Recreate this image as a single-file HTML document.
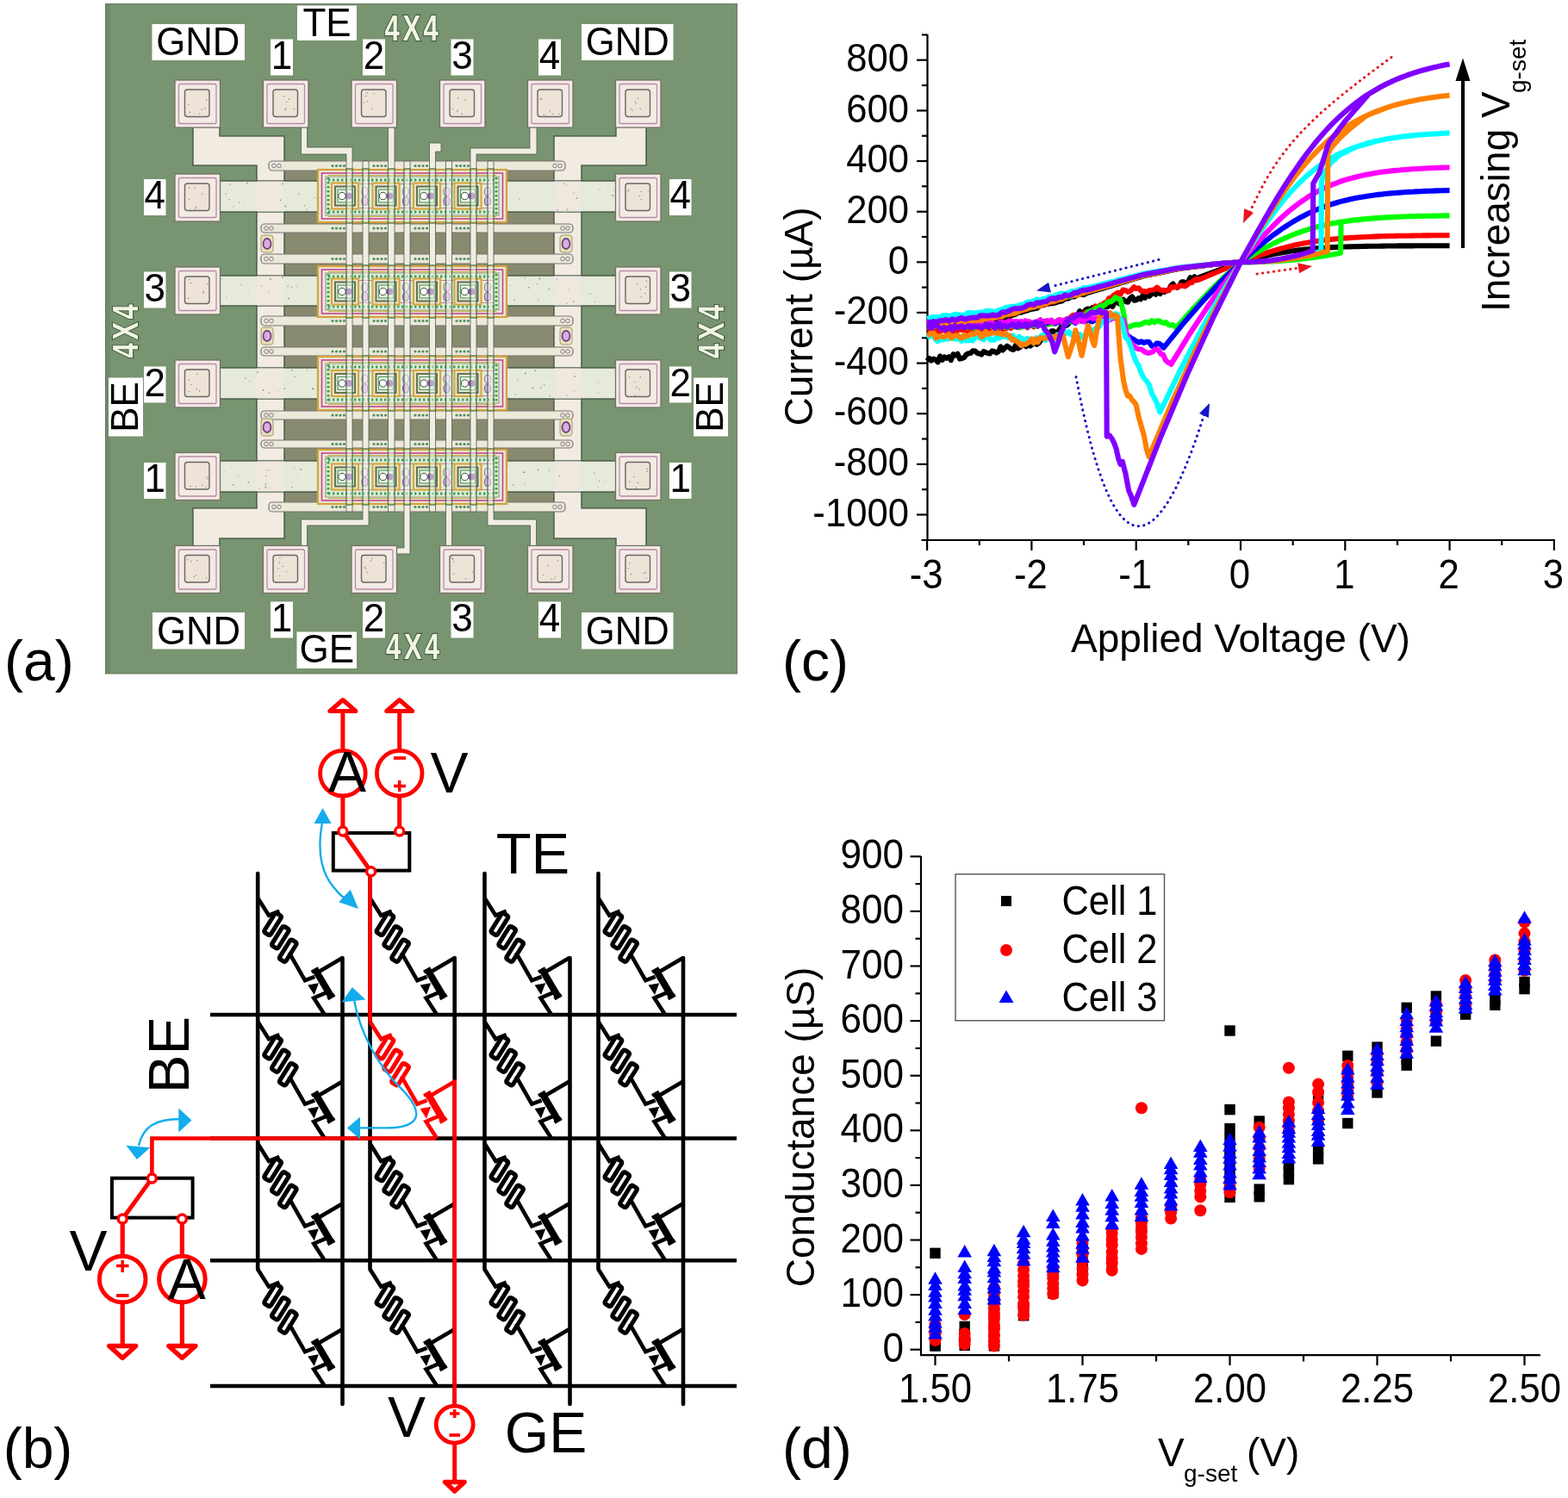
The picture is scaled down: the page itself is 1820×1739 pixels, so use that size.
<!DOCTYPE html>
<html><head><meta charset="utf-8"><title>Figure</title>
<style>html,body{margin:0;padding:0;background:#fff;} svg{display:block;}</style>
</head><body>
<svg xmlns="http://www.w3.org/2000/svg" width="1820" height="1739" viewBox="0 0 1820 1739">
<rect width="1820" height="1739" fill="#fff"/>
<rect x="122.5" y="4.5" width="733" height="777.5" fill="#789470" stroke="#66785f" stroke-width="1"/>
<rect x="123" y="5" width="5" height="776.5" fill="#6f8b68"/>
<rect x="330" y="187" width="313" height="407" fill="#878a6e"/>
<path d="M224,146 H255 V158 H330 V625 H255 V636 H224 V590 H298 V192 H224 Z" fill="#f1ebe1" stroke="#3f5343" stroke-width="1.6" stroke-opacity="0.85"/>
<path d="M750,146 H715 V158 H643 V625 H715 V636 H750 V590 H675 V192 H750 Z" fill="#f1ebe1" stroke="#3f5343" stroke-width="1.6" stroke-opacity="0.85"/>
<rect x="255" y="210" width="460" height="36" fill="#e6eadb" stroke="#3f5343" stroke-width="1.6" stroke-opacity="0.85"/>
<rect x="298.5" y="210.5" width="31" height="35" fill="#efe8de"/>
<rect x="643.5" y="210.5" width="31" height="35" fill="#efe8de"/>
<circle cx="365.5" cy="229.4" r="0.7" fill="#5d6a5a" fill-opacity="0.6"/>
<circle cx="286.9" cy="212.4" r="0.9" fill="#5d6a5a" fill-opacity="0.6"/>
<circle cx="711" cy="227" r="0.9" fill="#5d6a5a" fill-opacity="0.6"/>
<circle cx="325.7" cy="232.3" r="0.9" fill="#5d6a5a" fill-opacity="0.6"/>
<circle cx="602.8" cy="230.9" r="0.7" fill="#5d6a5a" fill-opacity="0.6"/>
<circle cx="271.1" cy="239.7" r="0.7" fill="#5d6a5a" fill-opacity="0.6"/>
<circle cx="657.8" cy="215.1" r="0.6" fill="#5d6a5a" fill-opacity="0.6"/>
<circle cx="355.9" cy="242.9" r="0.7" fill="#5d6a5a" fill-opacity="0.6"/>
<circle cx="647.5" cy="243.7" r="0.8" fill="#5d6a5a" fill-opacity="0.6"/>
<circle cx="331.4" cy="239.5" r="1" fill="#5d6a5a" fill-opacity="0.6"/>
<circle cx="669.5" cy="230.2" r="0.9" fill="#5d6a5a" fill-opacity="0.6"/>
<circle cx="353.3" cy="238.6" r="0.8" fill="#5d6a5a" fill-opacity="0.6"/>
<circle cx="646.4" cy="243.7" r="0.5" fill="#5d6a5a" fill-opacity="0.6"/>
<circle cx="622.1" cy="225.1" r="0.6" fill="#5d6a5a" fill-opacity="0.6"/>
<circle cx="655" cy="213.4" r="0.8" fill="#5d6a5a" fill-opacity="0.6"/>
<circle cx="277.5" cy="235" r="0.7" fill="#5d6a5a" fill-opacity="0.6"/>
<circle cx="658.7" cy="243.4" r="0.8" fill="#5d6a5a" fill-opacity="0.6"/>
<circle cx="712.3" cy="221.9" r="0.5" fill="#5d6a5a" fill-opacity="0.6"/>
<circle cx="347" cy="225.1" r="0.8" fill="#5d6a5a" fill-opacity="0.6"/>
<circle cx="328.2" cy="213.4" r="0.9" fill="#5d6a5a" fill-opacity="0.6"/>
<circle cx="665.9" cy="224.1" r="0.7" fill="#5d6a5a" fill-opacity="0.6"/>
<circle cx="262.2" cy="225.3" r="0.8" fill="#5d6a5a" fill-opacity="0.6"/>
<circle cx="266.1" cy="231.7" r="0.8" fill="#5d6a5a" fill-opacity="0.6"/>
<circle cx="284.4" cy="232.1" r="0.7" fill="#5d6a5a" fill-opacity="0.6"/>
<circle cx="267.1" cy="213.9" r="0.8" fill="#5d6a5a" fill-opacity="0.6"/>
<circle cx="696.3" cy="220" r="0.7" fill="#5d6a5a" fill-opacity="0.6"/>
<rect x="255" y="320" width="460" height="35" fill="#e6eadb" stroke="#3f5343" stroke-width="1.6" stroke-opacity="0.85"/>
<rect x="298.5" y="320.5" width="31" height="34" fill="#efe8de"/>
<rect x="643.5" y="320.5" width="31" height="34" fill="#efe8de"/>
<circle cx="609.2" cy="322.8" r="0.8" fill="#5d6a5a" fill-opacity="0.6"/>
<circle cx="592.2" cy="331.6" r="0.6" fill="#5d6a5a" fill-opacity="0.6"/>
<circle cx="623.5" cy="329.4" r="0.6" fill="#5d6a5a" fill-opacity="0.6"/>
<circle cx="303.4" cy="332" r="0.7" fill="#5d6a5a" fill-opacity="0.6"/>
<circle cx="637.1" cy="335.6" r="0.9" fill="#5d6a5a" fill-opacity="0.6"/>
<circle cx="334.2" cy="332.4" r="0.8" fill="#5d6a5a" fill-opacity="0.6"/>
<circle cx="660.5" cy="336" r="0.6" fill="#5d6a5a" fill-opacity="0.6"/>
<circle cx="312.1" cy="338.4" r="0.6" fill="#5d6a5a" fill-opacity="0.6"/>
<circle cx="624.9" cy="348" r="0.6" fill="#5d6a5a" fill-opacity="0.6"/>
<circle cx="328.1" cy="322.1" r="1" fill="#5d6a5a" fill-opacity="0.6"/>
<circle cx="658.3" cy="352.6" r="0.7" fill="#5d6a5a" fill-opacity="0.6"/>
<circle cx="690.3" cy="350.7" r="0.6" fill="#5d6a5a" fill-opacity="0.6"/>
<circle cx="597" cy="347.9" r="0.8" fill="#5d6a5a" fill-opacity="0.6"/>
<circle cx="288" cy="340.2" r="0.6" fill="#5d6a5a" fill-opacity="0.6"/>
<circle cx="626.4" cy="323.4" r="1" fill="#5d6a5a" fill-opacity="0.6"/>
<circle cx="665.8" cy="349.9" r="0.8" fill="#5d6a5a" fill-opacity="0.6"/>
<circle cx="263" cy="345.1" r="0.6" fill="#5d6a5a" fill-opacity="0.6"/>
<circle cx="685.2" cy="341" r="0.7" fill="#5d6a5a" fill-opacity="0.6"/>
<circle cx="335.1" cy="346.5" r="1" fill="#5d6a5a" fill-opacity="0.6"/>
<circle cx="624.6" cy="347.5" r="0.5" fill="#5d6a5a" fill-opacity="0.6"/>
<circle cx="279.8" cy="330.4" r="0.6" fill="#5d6a5a" fill-opacity="0.6"/>
<circle cx="257.8" cy="323.7" r="0.6" fill="#5d6a5a" fill-opacity="0.6"/>
<circle cx="313.8" cy="324.1" r="1" fill="#5d6a5a" fill-opacity="0.6"/>
<circle cx="646.6" cy="324.7" r="0.8" fill="#5d6a5a" fill-opacity="0.6"/>
<circle cx="344.1" cy="332.2" r="0.6" fill="#5d6a5a" fill-opacity="0.6"/>
<circle cx="338.4" cy="333.6" r="0.8" fill="#5d6a5a" fill-opacity="0.6"/>
<circle cx="613.9" cy="333.8" r="0.9" fill="#5d6a5a" fill-opacity="0.6"/>
<rect x="255" y="427" width="460" height="36" fill="#e6eadb" stroke="#3f5343" stroke-width="1.6" stroke-opacity="0.85"/>
<rect x="298.5" y="427.5" width="31" height="35" fill="#efe8de"/>
<rect x="643.5" y="427.5" width="31" height="35" fill="#efe8de"/>
<circle cx="368.8" cy="446.1" r="0.8" fill="#5d6a5a" fill-opacity="0.6"/>
<circle cx="289.6" cy="442.6" r="0.7" fill="#5d6a5a" fill-opacity="0.6"/>
<circle cx="658.1" cy="459" r="0.7" fill="#5d6a5a" fill-opacity="0.6"/>
<circle cx="666.4" cy="454.3" r="0.6" fill="#5d6a5a" fill-opacity="0.6"/>
<circle cx="627.8" cy="450.2" r="0.9" fill="#5d6a5a" fill-opacity="0.6"/>
<circle cx="618.4" cy="450.4" r="0.9" fill="#5d6a5a" fill-opacity="0.6"/>
<circle cx="322.4" cy="453.8" r="0.5" fill="#5d6a5a" fill-opacity="0.6"/>
<circle cx="298.9" cy="432.2" r="0.9" fill="#5d6a5a" fill-opacity="0.6"/>
<circle cx="338.7" cy="429.8" r="0.9" fill="#5d6a5a" fill-opacity="0.6"/>
<circle cx="312.3" cy="456" r="0.8" fill="#5d6a5a" fill-opacity="0.6"/>
<circle cx="638.3" cy="459.5" r="0.8" fill="#5d6a5a" fill-opacity="0.6"/>
<circle cx="621.2" cy="430.2" r="0.9" fill="#5d6a5a" fill-opacity="0.6"/>
<circle cx="305.7" cy="453" r="1" fill="#5d6a5a" fill-opacity="0.6"/>
<circle cx="284.9" cy="439.4" r="0.8" fill="#5d6a5a" fill-opacity="0.6"/>
<circle cx="634.6" cy="436.7" r="0.6" fill="#5d6a5a" fill-opacity="0.6"/>
<circle cx="600.6" cy="441.6" r="0.7" fill="#5d6a5a" fill-opacity="0.6"/>
<circle cx="330.2" cy="451.1" r="0.9" fill="#5d6a5a" fill-opacity="0.6"/>
<circle cx="666.2" cy="433.8" r="0.5" fill="#5d6a5a" fill-opacity="0.6"/>
<circle cx="598.2" cy="458.3" r="0.8" fill="#5d6a5a" fill-opacity="0.6"/>
<circle cx="341.9" cy="437.6" r="0.6" fill="#5d6a5a" fill-opacity="0.6"/>
<circle cx="362.9" cy="451.1" r="1" fill="#5d6a5a" fill-opacity="0.6"/>
<circle cx="356.2" cy="429.7" r="0.7" fill="#5d6a5a" fill-opacity="0.6"/>
<circle cx="610" cy="433.6" r="1" fill="#5d6a5a" fill-opacity="0.6"/>
<circle cx="631.7" cy="446.8" r="0.7" fill="#5d6a5a" fill-opacity="0.6"/>
<circle cx="694.9" cy="444" r="0.6" fill="#5d6a5a" fill-opacity="0.6"/>
<circle cx="364.1" cy="452" r="0.8" fill="#5d6a5a" fill-opacity="0.6"/>
<circle cx="694.2" cy="456.3" r="0.6" fill="#5d6a5a" fill-opacity="0.6"/>
<circle cx="343.5" cy="437.3" r="0.6" fill="#5d6a5a" fill-opacity="0.6"/>
<circle cx="667.3" cy="437.2" r="0.9" fill="#5d6a5a" fill-opacity="0.6"/>
<rect x="255" y="535" width="460" height="36" fill="#e6eadb" stroke="#3f5343" stroke-width="1.6" stroke-opacity="0.85"/>
<rect x="298.5" y="535.5" width="31" height="35" fill="#efe8de"/>
<rect x="643.5" y="535.5" width="31" height="35" fill="#efe8de"/>
<circle cx="589.4" cy="539.7" r="0.5" fill="#5d6a5a" fill-opacity="0.6"/>
<circle cx="637.3" cy="546.3" r="0.7" fill="#5d6a5a" fill-opacity="0.6"/>
<circle cx="260.1" cy="547.7" r="0.7" fill="#5d6a5a" fill-opacity="0.6"/>
<circle cx="311.3" cy="545.8" r="0.8" fill="#5d6a5a" fill-opacity="0.6"/>
<circle cx="308.3" cy="565.4" r="1" fill="#5d6a5a" fill-opacity="0.6"/>
<circle cx="301.2" cy="567.1" r="0.7" fill="#5d6a5a" fill-opacity="0.6"/>
<circle cx="609.2" cy="561.2" r="0.6" fill="#5d6a5a" fill-opacity="0.6"/>
<circle cx="624.6" cy="545.5" r="0.9" fill="#5d6a5a" fill-opacity="0.6"/>
<circle cx="695.4" cy="558.5" r="0.8" fill="#5d6a5a" fill-opacity="0.6"/>
<circle cx="308.7" cy="552.8" r="0.7" fill="#5d6a5a" fill-opacity="0.6"/>
<circle cx="338.7" cy="565.5" r="0.8" fill="#5d6a5a" fill-opacity="0.6"/>
<circle cx="313.1" cy="566.8" r="0.6" fill="#5d6a5a" fill-opacity="0.6"/>
<circle cx="288.3" cy="559.9" r="0.9" fill="#5d6a5a" fill-opacity="0.6"/>
<circle cx="276.2" cy="553.2" r="0.6" fill="#5d6a5a" fill-opacity="0.6"/>
<circle cx="607.6" cy="548.3" r="0.7" fill="#5d6a5a" fill-opacity="0.6"/>
<circle cx="608.9" cy="548.3" r="0.9" fill="#5d6a5a" fill-opacity="0.6"/>
<circle cx="308.1" cy="545.7" r="0.5" fill="#5d6a5a" fill-opacity="0.6"/>
<circle cx="308.4" cy="561.9" r="0.9" fill="#5d6a5a" fill-opacity="0.6"/>
<circle cx="341.3" cy="543.1" r="0.7" fill="#5d6a5a" fill-opacity="0.6"/>
<circle cx="596" cy="563.1" r="0.9" fill="#5d6a5a" fill-opacity="0.6"/>
<circle cx="349.1" cy="545" r="0.9" fill="#5d6a5a" fill-opacity="0.6"/>
<circle cx="270.7" cy="562.7" r="0.9" fill="#5d6a5a" fill-opacity="0.6"/>
<circle cx="689.9" cy="549.3" r="0.8" fill="#5d6a5a" fill-opacity="0.6"/>
<circle cx="702.5" cy="559" r="0.6" fill="#5d6a5a" fill-opacity="0.6"/>
<circle cx="649.2" cy="552.5" r="0.8" fill="#5d6a5a" fill-opacity="0.6"/>
<circle cx="588.4" cy="537.1" r="0.9" fill="#5d6a5a" fill-opacity="0.6"/>
<circle cx="345.2" cy="553.9" r="0.5" fill="#5d6a5a" fill-opacity="0.6"/>
<circle cx="694.3" cy="565.5" r="0.6" fill="#5d6a5a" fill-opacity="0.6"/>
<circle cx="618.3" cy="556.9" r="0.5" fill="#5d6a5a" fill-opacity="0.6"/>
<rect x="312" y="187" width="344" height="11" rx="4" fill="#ebe9d8" stroke="#7d7275" stroke-width="1.2"/>
<circle cx="318" cy="192.5" r="2.3" fill="none" stroke="#8a7a8a" stroke-width="1"/>
<circle cx="324" cy="192.5" r="2.3" fill="none" stroke="#8a7a8a" stroke-width="1"/>
<circle cx="644" cy="192.5" r="2.3" fill="none" stroke="#8a7a8a" stroke-width="1"/>
<circle cx="650" cy="192.5" r="2.3" fill="none" stroke="#8a7a8a" stroke-width="1"/>
<circle cx="386.0" cy="192.5" r="1.6" fill="#4f8f5f"/>
<circle cx="390.5" cy="192.5" r="1.6" fill="#4f8f5f"/>
<circle cx="395.0" cy="192.5" r="1.6" fill="#4f8f5f"/>
<circle cx="399.5" cy="192.5" r="1.6" fill="#4f8f5f"/>
<circle cx="434.0" cy="192.5" r="1.6" fill="#4f8f5f"/>
<circle cx="438.5" cy="192.5" r="1.6" fill="#4f8f5f"/>
<circle cx="443.0" cy="192.5" r="1.6" fill="#4f8f5f"/>
<circle cx="447.5" cy="192.5" r="1.6" fill="#4f8f5f"/>
<circle cx="482.0" cy="192.5" r="1.6" fill="#4f8f5f"/>
<circle cx="486.5" cy="192.5" r="1.6" fill="#4f8f5f"/>
<circle cx="491.0" cy="192.5" r="1.6" fill="#4f8f5f"/>
<circle cx="495.5" cy="192.5" r="1.6" fill="#4f8f5f"/>
<circle cx="530.0" cy="192.5" r="1.6" fill="#4f8f5f"/>
<circle cx="534.5" cy="192.5" r="1.6" fill="#4f8f5f"/>
<circle cx="539.0" cy="192.5" r="1.6" fill="#4f8f5f"/>
<circle cx="543.5" cy="192.5" r="1.6" fill="#4f8f5f"/>
<rect x="303" y="260" width="362" height="10" rx="4" fill="#ebe9d8" stroke="#7d7275" stroke-width="1.2"/>
<circle cx="309" cy="265" r="2.3" fill="none" stroke="#8a7a8a" stroke-width="1"/>
<circle cx="315" cy="265" r="2.3" fill="none" stroke="#8a7a8a" stroke-width="1"/>
<circle cx="653" cy="265" r="2.3" fill="none" stroke="#8a7a8a" stroke-width="1"/>
<circle cx="659" cy="265" r="2.3" fill="none" stroke="#8a7a8a" stroke-width="1"/>
<circle cx="386.0" cy="265" r="1.6" fill="#4f8f5f"/>
<circle cx="390.5" cy="265" r="1.6" fill="#4f8f5f"/>
<circle cx="395.0" cy="265" r="1.6" fill="#4f8f5f"/>
<circle cx="399.5" cy="265" r="1.6" fill="#4f8f5f"/>
<circle cx="434.0" cy="265" r="1.6" fill="#4f8f5f"/>
<circle cx="438.5" cy="265" r="1.6" fill="#4f8f5f"/>
<circle cx="443.0" cy="265" r="1.6" fill="#4f8f5f"/>
<circle cx="447.5" cy="265" r="1.6" fill="#4f8f5f"/>
<circle cx="482.0" cy="265" r="1.6" fill="#4f8f5f"/>
<circle cx="486.5" cy="265" r="1.6" fill="#4f8f5f"/>
<circle cx="491.0" cy="265" r="1.6" fill="#4f8f5f"/>
<circle cx="495.5" cy="265" r="1.6" fill="#4f8f5f"/>
<circle cx="530.0" cy="265" r="1.6" fill="#4f8f5f"/>
<circle cx="534.5" cy="265" r="1.6" fill="#4f8f5f"/>
<circle cx="539.0" cy="265" r="1.6" fill="#4f8f5f"/>
<circle cx="543.5" cy="265" r="1.6" fill="#4f8f5f"/>
<rect x="303" y="295" width="362" height="11" rx="4" fill="#ebe9d8" stroke="#7d7275" stroke-width="1.2"/>
<circle cx="309" cy="300.5" r="2.3" fill="none" stroke="#8a7a8a" stroke-width="1"/>
<circle cx="315" cy="300.5" r="2.3" fill="none" stroke="#8a7a8a" stroke-width="1"/>
<circle cx="653" cy="300.5" r="2.3" fill="none" stroke="#8a7a8a" stroke-width="1"/>
<circle cx="659" cy="300.5" r="2.3" fill="none" stroke="#8a7a8a" stroke-width="1"/>
<circle cx="386.0" cy="300.5" r="1.6" fill="#4f8f5f"/>
<circle cx="390.5" cy="300.5" r="1.6" fill="#4f8f5f"/>
<circle cx="395.0" cy="300.5" r="1.6" fill="#4f8f5f"/>
<circle cx="399.5" cy="300.5" r="1.6" fill="#4f8f5f"/>
<circle cx="434.0" cy="300.5" r="1.6" fill="#4f8f5f"/>
<circle cx="438.5" cy="300.5" r="1.6" fill="#4f8f5f"/>
<circle cx="443.0" cy="300.5" r="1.6" fill="#4f8f5f"/>
<circle cx="447.5" cy="300.5" r="1.6" fill="#4f8f5f"/>
<circle cx="482.0" cy="300.5" r="1.6" fill="#4f8f5f"/>
<circle cx="486.5" cy="300.5" r="1.6" fill="#4f8f5f"/>
<circle cx="491.0" cy="300.5" r="1.6" fill="#4f8f5f"/>
<circle cx="495.5" cy="300.5" r="1.6" fill="#4f8f5f"/>
<circle cx="530.0" cy="300.5" r="1.6" fill="#4f8f5f"/>
<circle cx="534.5" cy="300.5" r="1.6" fill="#4f8f5f"/>
<circle cx="539.0" cy="300.5" r="1.6" fill="#4f8f5f"/>
<circle cx="543.5" cy="300.5" r="1.6" fill="#4f8f5f"/>
<rect x="303" y="367" width="362" height="11" rx="4" fill="#ebe9d8" stroke="#7d7275" stroke-width="1.2"/>
<circle cx="309" cy="372.5" r="2.3" fill="none" stroke="#8a7a8a" stroke-width="1"/>
<circle cx="315" cy="372.5" r="2.3" fill="none" stroke="#8a7a8a" stroke-width="1"/>
<circle cx="653" cy="372.5" r="2.3" fill="none" stroke="#8a7a8a" stroke-width="1"/>
<circle cx="659" cy="372.5" r="2.3" fill="none" stroke="#8a7a8a" stroke-width="1"/>
<circle cx="386.0" cy="372.5" r="1.6" fill="#4f8f5f"/>
<circle cx="390.5" cy="372.5" r="1.6" fill="#4f8f5f"/>
<circle cx="395.0" cy="372.5" r="1.6" fill="#4f8f5f"/>
<circle cx="399.5" cy="372.5" r="1.6" fill="#4f8f5f"/>
<circle cx="434.0" cy="372.5" r="1.6" fill="#4f8f5f"/>
<circle cx="438.5" cy="372.5" r="1.6" fill="#4f8f5f"/>
<circle cx="443.0" cy="372.5" r="1.6" fill="#4f8f5f"/>
<circle cx="447.5" cy="372.5" r="1.6" fill="#4f8f5f"/>
<circle cx="482.0" cy="372.5" r="1.6" fill="#4f8f5f"/>
<circle cx="486.5" cy="372.5" r="1.6" fill="#4f8f5f"/>
<circle cx="491.0" cy="372.5" r="1.6" fill="#4f8f5f"/>
<circle cx="495.5" cy="372.5" r="1.6" fill="#4f8f5f"/>
<circle cx="530.0" cy="372.5" r="1.6" fill="#4f8f5f"/>
<circle cx="534.5" cy="372.5" r="1.6" fill="#4f8f5f"/>
<circle cx="539.0" cy="372.5" r="1.6" fill="#4f8f5f"/>
<circle cx="543.5" cy="372.5" r="1.6" fill="#4f8f5f"/>
<rect x="303" y="403" width="362" height="10" rx="4" fill="#ebe9d8" stroke="#7d7275" stroke-width="1.2"/>
<circle cx="309" cy="408" r="2.3" fill="none" stroke="#8a7a8a" stroke-width="1"/>
<circle cx="315" cy="408" r="2.3" fill="none" stroke="#8a7a8a" stroke-width="1"/>
<circle cx="653" cy="408" r="2.3" fill="none" stroke="#8a7a8a" stroke-width="1"/>
<circle cx="659" cy="408" r="2.3" fill="none" stroke="#8a7a8a" stroke-width="1"/>
<circle cx="386.0" cy="408" r="1.6" fill="#4f8f5f"/>
<circle cx="390.5" cy="408" r="1.6" fill="#4f8f5f"/>
<circle cx="395.0" cy="408" r="1.6" fill="#4f8f5f"/>
<circle cx="399.5" cy="408" r="1.6" fill="#4f8f5f"/>
<circle cx="434.0" cy="408" r="1.6" fill="#4f8f5f"/>
<circle cx="438.5" cy="408" r="1.6" fill="#4f8f5f"/>
<circle cx="443.0" cy="408" r="1.6" fill="#4f8f5f"/>
<circle cx="447.5" cy="408" r="1.6" fill="#4f8f5f"/>
<circle cx="482.0" cy="408" r="1.6" fill="#4f8f5f"/>
<circle cx="486.5" cy="408" r="1.6" fill="#4f8f5f"/>
<circle cx="491.0" cy="408" r="1.6" fill="#4f8f5f"/>
<circle cx="495.5" cy="408" r="1.6" fill="#4f8f5f"/>
<circle cx="530.0" cy="408" r="1.6" fill="#4f8f5f"/>
<circle cx="534.5" cy="408" r="1.6" fill="#4f8f5f"/>
<circle cx="539.0" cy="408" r="1.6" fill="#4f8f5f"/>
<circle cx="543.5" cy="408" r="1.6" fill="#4f8f5f"/>
<rect x="303" y="477" width="362" height="10" rx="4" fill="#ebe9d8" stroke="#7d7275" stroke-width="1.2"/>
<circle cx="309" cy="482" r="2.3" fill="none" stroke="#8a7a8a" stroke-width="1"/>
<circle cx="315" cy="482" r="2.3" fill="none" stroke="#8a7a8a" stroke-width="1"/>
<circle cx="653" cy="482" r="2.3" fill="none" stroke="#8a7a8a" stroke-width="1"/>
<circle cx="659" cy="482" r="2.3" fill="none" stroke="#8a7a8a" stroke-width="1"/>
<circle cx="386.0" cy="482" r="1.6" fill="#4f8f5f"/>
<circle cx="390.5" cy="482" r="1.6" fill="#4f8f5f"/>
<circle cx="395.0" cy="482" r="1.6" fill="#4f8f5f"/>
<circle cx="399.5" cy="482" r="1.6" fill="#4f8f5f"/>
<circle cx="434.0" cy="482" r="1.6" fill="#4f8f5f"/>
<circle cx="438.5" cy="482" r="1.6" fill="#4f8f5f"/>
<circle cx="443.0" cy="482" r="1.6" fill="#4f8f5f"/>
<circle cx="447.5" cy="482" r="1.6" fill="#4f8f5f"/>
<circle cx="482.0" cy="482" r="1.6" fill="#4f8f5f"/>
<circle cx="486.5" cy="482" r="1.6" fill="#4f8f5f"/>
<circle cx="491.0" cy="482" r="1.6" fill="#4f8f5f"/>
<circle cx="495.5" cy="482" r="1.6" fill="#4f8f5f"/>
<circle cx="530.0" cy="482" r="1.6" fill="#4f8f5f"/>
<circle cx="534.5" cy="482" r="1.6" fill="#4f8f5f"/>
<circle cx="539.0" cy="482" r="1.6" fill="#4f8f5f"/>
<circle cx="543.5" cy="482" r="1.6" fill="#4f8f5f"/>
<rect x="303" y="511" width="362" height="9" rx="4" fill="#ebe9d8" stroke="#7d7275" stroke-width="1.2"/>
<circle cx="309" cy="515.5" r="2.3" fill="none" stroke="#8a7a8a" stroke-width="1"/>
<circle cx="315" cy="515.5" r="2.3" fill="none" stroke="#8a7a8a" stroke-width="1"/>
<circle cx="653" cy="515.5" r="2.3" fill="none" stroke="#8a7a8a" stroke-width="1"/>
<circle cx="659" cy="515.5" r="2.3" fill="none" stroke="#8a7a8a" stroke-width="1"/>
<circle cx="386.0" cy="515.5" r="1.6" fill="#4f8f5f"/>
<circle cx="390.5" cy="515.5" r="1.6" fill="#4f8f5f"/>
<circle cx="395.0" cy="515.5" r="1.6" fill="#4f8f5f"/>
<circle cx="399.5" cy="515.5" r="1.6" fill="#4f8f5f"/>
<circle cx="434.0" cy="515.5" r="1.6" fill="#4f8f5f"/>
<circle cx="438.5" cy="515.5" r="1.6" fill="#4f8f5f"/>
<circle cx="443.0" cy="515.5" r="1.6" fill="#4f8f5f"/>
<circle cx="447.5" cy="515.5" r="1.6" fill="#4f8f5f"/>
<circle cx="482.0" cy="515.5" r="1.6" fill="#4f8f5f"/>
<circle cx="486.5" cy="515.5" r="1.6" fill="#4f8f5f"/>
<circle cx="491.0" cy="515.5" r="1.6" fill="#4f8f5f"/>
<circle cx="495.5" cy="515.5" r="1.6" fill="#4f8f5f"/>
<circle cx="530.0" cy="515.5" r="1.6" fill="#4f8f5f"/>
<circle cx="534.5" cy="515.5" r="1.6" fill="#4f8f5f"/>
<circle cx="539.0" cy="515.5" r="1.6" fill="#4f8f5f"/>
<circle cx="543.5" cy="515.5" r="1.6" fill="#4f8f5f"/>
<rect x="312" y="583" width="344" height="11" rx="4" fill="#ebe9d8" stroke="#7d7275" stroke-width="1.2"/>
<circle cx="318" cy="588.5" r="2.3" fill="none" stroke="#8a7a8a" stroke-width="1"/>
<circle cx="324" cy="588.5" r="2.3" fill="none" stroke="#8a7a8a" stroke-width="1"/>
<circle cx="644" cy="588.5" r="2.3" fill="none" stroke="#8a7a8a" stroke-width="1"/>
<circle cx="650" cy="588.5" r="2.3" fill="none" stroke="#8a7a8a" stroke-width="1"/>
<circle cx="386.0" cy="588.5" r="1.6" fill="#4f8f5f"/>
<circle cx="390.5" cy="588.5" r="1.6" fill="#4f8f5f"/>
<circle cx="395.0" cy="588.5" r="1.6" fill="#4f8f5f"/>
<circle cx="399.5" cy="588.5" r="1.6" fill="#4f8f5f"/>
<circle cx="434.0" cy="588.5" r="1.6" fill="#4f8f5f"/>
<circle cx="438.5" cy="588.5" r="1.6" fill="#4f8f5f"/>
<circle cx="443.0" cy="588.5" r="1.6" fill="#4f8f5f"/>
<circle cx="447.5" cy="588.5" r="1.6" fill="#4f8f5f"/>
<circle cx="482.0" cy="588.5" r="1.6" fill="#4f8f5f"/>
<circle cx="486.5" cy="588.5" r="1.6" fill="#4f8f5f"/>
<circle cx="491.0" cy="588.5" r="1.6" fill="#4f8f5f"/>
<circle cx="495.5" cy="588.5" r="1.6" fill="#4f8f5f"/>
<circle cx="530.0" cy="588.5" r="1.6" fill="#4f8f5f"/>
<circle cx="534.5" cy="588.5" r="1.6" fill="#4f8f5f"/>
<circle cx="539.0" cy="588.5" r="1.6" fill="#4f8f5f"/>
<circle cx="543.5" cy="588.5" r="1.6" fill="#4f8f5f"/>
<rect x="303" y="273" width="14" height="20" rx="3" fill="#e5e2b5" stroke="#8a8a6a" stroke-width="0.8"/>
<ellipse cx="310" cy="283" rx="4.5" ry="6" fill="#d6b0e0" stroke="#7a3c8a" stroke-width="1.8"/>
<rect x="650" y="273" width="14" height="20" rx="3" fill="#e5e2b5" stroke="#8a8a6a" stroke-width="0.8"/>
<ellipse cx="657" cy="283" rx="4.5" ry="6" fill="#d6b0e0" stroke="#7a3c8a" stroke-width="1.8"/>
<rect x="303" y="380" width="14" height="20" rx="3" fill="#e5e2b5" stroke="#8a8a6a" stroke-width="0.8"/>
<ellipse cx="310" cy="390" rx="4.5" ry="6" fill="#d6b0e0" stroke="#7a3c8a" stroke-width="1.8"/>
<rect x="650" y="380" width="14" height="20" rx="3" fill="#e5e2b5" stroke="#8a8a6a" stroke-width="0.8"/>
<ellipse cx="657" cy="390" rx="4.5" ry="6" fill="#d6b0e0" stroke="#7a3c8a" stroke-width="1.8"/>
<rect x="303" y="486" width="14" height="20" rx="3" fill="#e5e2b5" stroke="#8a8a6a" stroke-width="0.8"/>
<ellipse cx="310" cy="496" rx="4.5" ry="6" fill="#d6b0e0" stroke="#7a3c8a" stroke-width="1.8"/>
<rect x="650" y="486" width="14" height="20" rx="3" fill="#e5e2b5" stroke="#8a8a6a" stroke-width="0.8"/>
<ellipse cx="657" cy="496" rx="4.5" ry="6" fill="#d6b0e0" stroke="#7a3c8a" stroke-width="1.8"/>
<path d="M349.5,146 H356.5 V171 H409 V594 H402 V179 H349.5 Z" fill="#f2ede3" stroke="#4d5e4b" stroke-width="1" stroke-opacity="0.8"/>
<rect x="450.5" y="146" width="7.5" height="448" fill="#f2ede3" stroke="#4d5e4b" stroke-width="1" stroke-opacity="0.8"/>
<path d="M498.5,166 H512 V176 H505.5 V594 H498.5 Z" fill="#f2ede3" stroke="#4d5e4b" stroke-width="1" stroke-opacity="0.8"/>
<path d="M615,146 H623 V179 H553 V594 H546 V172 H615 Z" fill="#f2ede3" stroke="#4d5e4b" stroke-width="1" stroke-opacity="0.8"/>
<path d="M421,187 H428 V610 H356.5 V636 H349.5 V603 H421 Z" fill="#f2ede3" stroke="#4d5e4b" stroke-width="1" stroke-opacity="0.8"/>
<path d="M469,187 H476 V643 H458 V636 H469 Z" fill="#f2ede3" stroke="#4d5e4b" stroke-width="1" stroke-opacity="0.8"/>
<rect x="517.5" y="187" width="7" height="449" fill="#f2ede3" stroke="#4d5e4b" stroke-width="1" stroke-opacity="0.8"/>
<path d="M566,187 H573 V603 H622.5 V636 H615.5 V610 H566 Z" fill="#f2ede3" stroke="#4d5e4b" stroke-width="1" stroke-opacity="0.8"/>
<rect x="369" y="197" width="219" height="61" fill="#ece6d8" stroke="#d3a23c" stroke-width="2.2"/>
<rect x="373.5" y="201" width="210" height="53" fill="none" stroke="#c2468a" stroke-width="1.6"/>
<rect x="378" y="205" width="201" height="45" fill="#e2ead8" stroke="#8a9a70" stroke-width="1"/>
<line x1="381" y1="209" x2="576" y2="209" stroke="#38a05a" stroke-width="3" stroke-dasharray="2.4,2.6"/>
<line x1="381" y1="246" x2="576" y2="246" stroke="#38a05a" stroke-width="3" stroke-dasharray="2.4,2.6"/>
<line x1="381" y1="203.5" x2="576" y2="203.5" stroke="#c9b040" stroke-width="1"/>
<line x1="384" y1="213.5" x2="573" y2="213.5" stroke="#c85a9a" stroke-width="1.2" stroke-opacity="0.8"/>
<line x1="384" y1="241.5" x2="573" y2="241.5" stroke="#c85a9a" stroke-width="1.2" stroke-opacity="0.8"/>
<line x1="381" y1="251.5" x2="576" y2="251.5" stroke="#c9b040" stroke-width="1"/>
<line x1="381" y1="206" x2="381" y2="249" stroke="#38a05a" stroke-width="3" stroke-dasharray="2.4,2.6"/>
<line x1="576" y1="206" x2="576" y2="249" stroke="#38a05a" stroke-width="3" stroke-dasharray="2.4,2.6"/>
<rect x="385.0" y="212.5" width="31" height="30" fill="#f1e8d6" stroke="#d6a83a" stroke-width="2.2"/>
<rect x="389.0" y="216.5" width="23" height="22" fill="#eef3e6" stroke="#6a7452" stroke-width="2.2"/>
<rect x="392.0" y="220.0" width="17" height="15" fill="none" stroke="#4f9a5c" stroke-width="1.2"/>
<circle cx="397.0" cy="227.5" r="4.2" fill="#ffffff" stroke="#3a4a3a" stroke-width="1"/>
<circle cx="405.0" cy="227.5" r="4" fill="#8f4fb0"/>
<ellipse cx="423.5" cy="222.5" rx="3.5" ry="5" fill="#efe0f0" stroke="#a070b0" stroke-width="1.2"/>
<ellipse cx="423.5" cy="233.5" rx="3.5" ry="5" fill="#dcb8e6" stroke="#9050a8" stroke-width="1.2"/>
<rect x="432.5" y="212.5" width="31" height="30" fill="#f1e8d6" stroke="#d6a83a" stroke-width="2.2"/>
<rect x="436.5" y="216.5" width="23" height="22" fill="#eef3e6" stroke="#6a7452" stroke-width="2.2"/>
<rect x="439.5" y="220.0" width="17" height="15" fill="none" stroke="#4f9a5c" stroke-width="1.2"/>
<circle cx="444.5" cy="227.5" r="4.2" fill="#ffffff" stroke="#3a4a3a" stroke-width="1"/>
<circle cx="452.5" cy="227.5" r="4" fill="#8f4fb0"/>
<ellipse cx="471.0" cy="222.5" rx="3.5" ry="5" fill="#efe0f0" stroke="#a070b0" stroke-width="1.2"/>
<ellipse cx="471.0" cy="233.5" rx="3.5" ry="5" fill="#dcb8e6" stroke="#9050a8" stroke-width="1.2"/>
<rect x="480.0" y="212.5" width="31" height="30" fill="#f1e8d6" stroke="#d6a83a" stroke-width="2.2"/>
<rect x="484.0" y="216.5" width="23" height="22" fill="#eef3e6" stroke="#6a7452" stroke-width="2.2"/>
<rect x="487.0" y="220.0" width="17" height="15" fill="none" stroke="#4f9a5c" stroke-width="1.2"/>
<circle cx="492.0" cy="227.5" r="4.2" fill="#ffffff" stroke="#3a4a3a" stroke-width="1"/>
<circle cx="500.0" cy="227.5" r="4" fill="#8f4fb0"/>
<ellipse cx="518.5" cy="222.5" rx="3.5" ry="5" fill="#efe0f0" stroke="#a070b0" stroke-width="1.2"/>
<ellipse cx="518.5" cy="233.5" rx="3.5" ry="5" fill="#dcb8e6" stroke="#9050a8" stroke-width="1.2"/>
<rect x="527.5" y="212.5" width="31" height="30" fill="#f1e8d6" stroke="#d6a83a" stroke-width="2.2"/>
<rect x="531.5" y="216.5" width="23" height="22" fill="#eef3e6" stroke="#6a7452" stroke-width="2.2"/>
<rect x="534.5" y="220.0" width="17" height="15" fill="none" stroke="#4f9a5c" stroke-width="1.2"/>
<circle cx="539.5" cy="227.5" r="4.2" fill="#ffffff" stroke="#3a4a3a" stroke-width="1"/>
<circle cx="547.5" cy="227.5" r="4" fill="#8f4fb0"/>
<ellipse cx="566.0" cy="222.5" rx="3.5" ry="5" fill="#efe0f0" stroke="#a070b0" stroke-width="1.2"/>
<ellipse cx="566.0" cy="233.5" rx="3.5" ry="5" fill="#dcb8e6" stroke="#9050a8" stroke-width="1.2"/>
<rect x="369" y="309" width="219" height="59" fill="#ece6d8" stroke="#d3a23c" stroke-width="2.2"/>
<rect x="373.5" y="313" width="210" height="51" fill="none" stroke="#c2468a" stroke-width="1.6"/>
<rect x="378" y="317" width="201" height="43" fill="#e2ead8" stroke="#8a9a70" stroke-width="1"/>
<line x1="381" y1="321" x2="576" y2="321" stroke="#38a05a" stroke-width="3" stroke-dasharray="2.4,2.6"/>
<line x1="381" y1="356" x2="576" y2="356" stroke="#38a05a" stroke-width="3" stroke-dasharray="2.4,2.6"/>
<line x1="381" y1="315.5" x2="576" y2="315.5" stroke="#c9b040" stroke-width="1"/>
<line x1="384" y1="325.5" x2="573" y2="325.5" stroke="#c85a9a" stroke-width="1.2" stroke-opacity="0.8"/>
<line x1="384" y1="351.5" x2="573" y2="351.5" stroke="#c85a9a" stroke-width="1.2" stroke-opacity="0.8"/>
<line x1="381" y1="361.5" x2="576" y2="361.5" stroke="#c9b040" stroke-width="1"/>
<line x1="381" y1="318" x2="381" y2="359" stroke="#38a05a" stroke-width="3" stroke-dasharray="2.4,2.6"/>
<line x1="576" y1="318" x2="576" y2="359" stroke="#38a05a" stroke-width="3" stroke-dasharray="2.4,2.6"/>
<rect x="385.0" y="323.5" width="31" height="30" fill="#f1e8d6" stroke="#d6a83a" stroke-width="2.2"/>
<rect x="389.0" y="327.5" width="23" height="22" fill="#eef3e6" stroke="#6a7452" stroke-width="2.2"/>
<rect x="392.0" y="331.0" width="17" height="15" fill="none" stroke="#4f9a5c" stroke-width="1.2"/>
<circle cx="397.0" cy="338.5" r="4.2" fill="#ffffff" stroke="#3a4a3a" stroke-width="1"/>
<circle cx="405.0" cy="338.5" r="4" fill="#8f4fb0"/>
<ellipse cx="423.5" cy="333.5" rx="3.5" ry="5" fill="#efe0f0" stroke="#a070b0" stroke-width="1.2"/>
<ellipse cx="423.5" cy="344.5" rx="3.5" ry="5" fill="#dcb8e6" stroke="#9050a8" stroke-width="1.2"/>
<rect x="432.5" y="323.5" width="31" height="30" fill="#f1e8d6" stroke="#d6a83a" stroke-width="2.2"/>
<rect x="436.5" y="327.5" width="23" height="22" fill="#eef3e6" stroke="#6a7452" stroke-width="2.2"/>
<rect x="439.5" y="331.0" width="17" height="15" fill="none" stroke="#4f9a5c" stroke-width="1.2"/>
<circle cx="444.5" cy="338.5" r="4.2" fill="#ffffff" stroke="#3a4a3a" stroke-width="1"/>
<circle cx="452.5" cy="338.5" r="4" fill="#8f4fb0"/>
<ellipse cx="471.0" cy="333.5" rx="3.5" ry="5" fill="#efe0f0" stroke="#a070b0" stroke-width="1.2"/>
<ellipse cx="471.0" cy="344.5" rx="3.5" ry="5" fill="#dcb8e6" stroke="#9050a8" stroke-width="1.2"/>
<rect x="480.0" y="323.5" width="31" height="30" fill="#f1e8d6" stroke="#d6a83a" stroke-width="2.2"/>
<rect x="484.0" y="327.5" width="23" height="22" fill="#eef3e6" stroke="#6a7452" stroke-width="2.2"/>
<rect x="487.0" y="331.0" width="17" height="15" fill="none" stroke="#4f9a5c" stroke-width="1.2"/>
<circle cx="492.0" cy="338.5" r="4.2" fill="#ffffff" stroke="#3a4a3a" stroke-width="1"/>
<circle cx="500.0" cy="338.5" r="4" fill="#8f4fb0"/>
<ellipse cx="518.5" cy="333.5" rx="3.5" ry="5" fill="#efe0f0" stroke="#a070b0" stroke-width="1.2"/>
<ellipse cx="518.5" cy="344.5" rx="3.5" ry="5" fill="#dcb8e6" stroke="#9050a8" stroke-width="1.2"/>
<rect x="527.5" y="323.5" width="31" height="30" fill="#f1e8d6" stroke="#d6a83a" stroke-width="2.2"/>
<rect x="531.5" y="327.5" width="23" height="22" fill="#eef3e6" stroke="#6a7452" stroke-width="2.2"/>
<rect x="534.5" y="331.0" width="17" height="15" fill="none" stroke="#4f9a5c" stroke-width="1.2"/>
<circle cx="539.5" cy="338.5" r="4.2" fill="#ffffff" stroke="#3a4a3a" stroke-width="1"/>
<circle cx="547.5" cy="338.5" r="4" fill="#8f4fb0"/>
<ellipse cx="566.0" cy="333.5" rx="3.5" ry="5" fill="#efe0f0" stroke="#a070b0" stroke-width="1.2"/>
<ellipse cx="566.0" cy="344.5" rx="3.5" ry="5" fill="#dcb8e6" stroke="#9050a8" stroke-width="1.2"/>
<rect x="369" y="414" width="219" height="62" fill="#ece6d8" stroke="#d3a23c" stroke-width="2.2"/>
<rect x="373.5" y="418" width="210" height="54" fill="none" stroke="#c2468a" stroke-width="1.6"/>
<rect x="378" y="422" width="201" height="46" fill="#e2ead8" stroke="#8a9a70" stroke-width="1"/>
<line x1="381" y1="426" x2="576" y2="426" stroke="#38a05a" stroke-width="3" stroke-dasharray="2.4,2.6"/>
<line x1="381" y1="464" x2="576" y2="464" stroke="#38a05a" stroke-width="3" stroke-dasharray="2.4,2.6"/>
<line x1="381" y1="420.5" x2="576" y2="420.5" stroke="#c9b040" stroke-width="1"/>
<line x1="384" y1="430.5" x2="573" y2="430.5" stroke="#c85a9a" stroke-width="1.2" stroke-opacity="0.8"/>
<line x1="384" y1="459.5" x2="573" y2="459.5" stroke="#c85a9a" stroke-width="1.2" stroke-opacity="0.8"/>
<line x1="381" y1="469.5" x2="576" y2="469.5" stroke="#c9b040" stroke-width="1"/>
<line x1="381" y1="423" x2="381" y2="467" stroke="#38a05a" stroke-width="3" stroke-dasharray="2.4,2.6"/>
<line x1="576" y1="423" x2="576" y2="467" stroke="#38a05a" stroke-width="3" stroke-dasharray="2.4,2.6"/>
<rect x="385.0" y="430.0" width="31" height="30" fill="#f1e8d6" stroke="#d6a83a" stroke-width="2.2"/>
<rect x="389.0" y="434.0" width="23" height="22" fill="#eef3e6" stroke="#6a7452" stroke-width="2.2"/>
<rect x="392.0" y="437.5" width="17" height="15" fill="none" stroke="#4f9a5c" stroke-width="1.2"/>
<circle cx="397.0" cy="445.0" r="4.2" fill="#ffffff" stroke="#3a4a3a" stroke-width="1"/>
<circle cx="405.0" cy="445.0" r="4" fill="#8f4fb0"/>
<ellipse cx="423.5" cy="440.0" rx="3.5" ry="5" fill="#efe0f0" stroke="#a070b0" stroke-width="1.2"/>
<ellipse cx="423.5" cy="451.0" rx="3.5" ry="5" fill="#dcb8e6" stroke="#9050a8" stroke-width="1.2"/>
<rect x="432.5" y="430.0" width="31" height="30" fill="#f1e8d6" stroke="#d6a83a" stroke-width="2.2"/>
<rect x="436.5" y="434.0" width="23" height="22" fill="#eef3e6" stroke="#6a7452" stroke-width="2.2"/>
<rect x="439.5" y="437.5" width="17" height="15" fill="none" stroke="#4f9a5c" stroke-width="1.2"/>
<circle cx="444.5" cy="445.0" r="4.2" fill="#ffffff" stroke="#3a4a3a" stroke-width="1"/>
<circle cx="452.5" cy="445.0" r="4" fill="#8f4fb0"/>
<ellipse cx="471.0" cy="440.0" rx="3.5" ry="5" fill="#efe0f0" stroke="#a070b0" stroke-width="1.2"/>
<ellipse cx="471.0" cy="451.0" rx="3.5" ry="5" fill="#dcb8e6" stroke="#9050a8" stroke-width="1.2"/>
<rect x="480.0" y="430.0" width="31" height="30" fill="#f1e8d6" stroke="#d6a83a" stroke-width="2.2"/>
<rect x="484.0" y="434.0" width="23" height="22" fill="#eef3e6" stroke="#6a7452" stroke-width="2.2"/>
<rect x="487.0" y="437.5" width="17" height="15" fill="none" stroke="#4f9a5c" stroke-width="1.2"/>
<circle cx="492.0" cy="445.0" r="4.2" fill="#ffffff" stroke="#3a4a3a" stroke-width="1"/>
<circle cx="500.0" cy="445.0" r="4" fill="#8f4fb0"/>
<ellipse cx="518.5" cy="440.0" rx="3.5" ry="5" fill="#efe0f0" stroke="#a070b0" stroke-width="1.2"/>
<ellipse cx="518.5" cy="451.0" rx="3.5" ry="5" fill="#dcb8e6" stroke="#9050a8" stroke-width="1.2"/>
<rect x="527.5" y="430.0" width="31" height="30" fill="#f1e8d6" stroke="#d6a83a" stroke-width="2.2"/>
<rect x="531.5" y="434.0" width="23" height="22" fill="#eef3e6" stroke="#6a7452" stroke-width="2.2"/>
<rect x="534.5" y="437.5" width="17" height="15" fill="none" stroke="#4f9a5c" stroke-width="1.2"/>
<circle cx="539.5" cy="445.0" r="4.2" fill="#ffffff" stroke="#3a4a3a" stroke-width="1"/>
<circle cx="547.5" cy="445.0" r="4" fill="#8f4fb0"/>
<ellipse cx="566.0" cy="440.0" rx="3.5" ry="5" fill="#efe0f0" stroke="#a070b0" stroke-width="1.2"/>
<ellipse cx="566.0" cy="451.0" rx="3.5" ry="5" fill="#dcb8e6" stroke="#9050a8" stroke-width="1.2"/>
<rect x="369" y="522" width="219" height="63" fill="#ece6d8" stroke="#d3a23c" stroke-width="2.2"/>
<rect x="373.5" y="526" width="210" height="55" fill="none" stroke="#c2468a" stroke-width="1.6"/>
<rect x="378" y="530" width="201" height="47" fill="#e2ead8" stroke="#8a9a70" stroke-width="1"/>
<line x1="381" y1="534" x2="576" y2="534" stroke="#38a05a" stroke-width="3" stroke-dasharray="2.4,2.6"/>
<line x1="381" y1="573" x2="576" y2="573" stroke="#38a05a" stroke-width="3" stroke-dasharray="2.4,2.6"/>
<line x1="381" y1="528.5" x2="576" y2="528.5" stroke="#c9b040" stroke-width="1"/>
<line x1="384" y1="538.5" x2="573" y2="538.5" stroke="#c85a9a" stroke-width="1.2" stroke-opacity="0.8"/>
<line x1="384" y1="568.5" x2="573" y2="568.5" stroke="#c85a9a" stroke-width="1.2" stroke-opacity="0.8"/>
<line x1="381" y1="578.5" x2="576" y2="578.5" stroke="#c9b040" stroke-width="1"/>
<line x1="381" y1="531" x2="381" y2="576" stroke="#38a05a" stroke-width="3" stroke-dasharray="2.4,2.6"/>
<line x1="576" y1="531" x2="576" y2="576" stroke="#38a05a" stroke-width="3" stroke-dasharray="2.4,2.6"/>
<rect x="385.0" y="538.5" width="31" height="30" fill="#f1e8d6" stroke="#d6a83a" stroke-width="2.2"/>
<rect x="389.0" y="542.5" width="23" height="22" fill="#eef3e6" stroke="#6a7452" stroke-width="2.2"/>
<rect x="392.0" y="546.0" width="17" height="15" fill="none" stroke="#4f9a5c" stroke-width="1.2"/>
<circle cx="397.0" cy="553.5" r="4.2" fill="#ffffff" stroke="#3a4a3a" stroke-width="1"/>
<circle cx="405.0" cy="553.5" r="4" fill="#8f4fb0"/>
<ellipse cx="423.5" cy="548.5" rx="3.5" ry="5" fill="#efe0f0" stroke="#a070b0" stroke-width="1.2"/>
<ellipse cx="423.5" cy="559.5" rx="3.5" ry="5" fill="#dcb8e6" stroke="#9050a8" stroke-width="1.2"/>
<rect x="432.5" y="538.5" width="31" height="30" fill="#f1e8d6" stroke="#d6a83a" stroke-width="2.2"/>
<rect x="436.5" y="542.5" width="23" height="22" fill="#eef3e6" stroke="#6a7452" stroke-width="2.2"/>
<rect x="439.5" y="546.0" width="17" height="15" fill="none" stroke="#4f9a5c" stroke-width="1.2"/>
<circle cx="444.5" cy="553.5" r="4.2" fill="#ffffff" stroke="#3a4a3a" stroke-width="1"/>
<circle cx="452.5" cy="553.5" r="4" fill="#8f4fb0"/>
<ellipse cx="471.0" cy="548.5" rx="3.5" ry="5" fill="#efe0f0" stroke="#a070b0" stroke-width="1.2"/>
<ellipse cx="471.0" cy="559.5" rx="3.5" ry="5" fill="#dcb8e6" stroke="#9050a8" stroke-width="1.2"/>
<rect x="480.0" y="538.5" width="31" height="30" fill="#f1e8d6" stroke="#d6a83a" stroke-width="2.2"/>
<rect x="484.0" y="542.5" width="23" height="22" fill="#eef3e6" stroke="#6a7452" stroke-width="2.2"/>
<rect x="487.0" y="546.0" width="17" height="15" fill="none" stroke="#4f9a5c" stroke-width="1.2"/>
<circle cx="492.0" cy="553.5" r="4.2" fill="#ffffff" stroke="#3a4a3a" stroke-width="1"/>
<circle cx="500.0" cy="553.5" r="4" fill="#8f4fb0"/>
<ellipse cx="518.5" cy="548.5" rx="3.5" ry="5" fill="#efe0f0" stroke="#a070b0" stroke-width="1.2"/>
<ellipse cx="518.5" cy="559.5" rx="3.5" ry="5" fill="#dcb8e6" stroke="#9050a8" stroke-width="1.2"/>
<rect x="527.5" y="538.5" width="31" height="30" fill="#f1e8d6" stroke="#d6a83a" stroke-width="2.2"/>
<rect x="531.5" y="542.5" width="23" height="22" fill="#eef3e6" stroke="#6a7452" stroke-width="2.2"/>
<rect x="534.5" y="546.0" width="17" height="15" fill="none" stroke="#4f9a5c" stroke-width="1.2"/>
<circle cx="539.5" cy="553.5" r="4.2" fill="#ffffff" stroke="#3a4a3a" stroke-width="1"/>
<circle cx="547.5" cy="553.5" r="4" fill="#8f4fb0"/>
<ellipse cx="566.0" cy="548.5" rx="3.5" ry="5" fill="#efe0f0" stroke="#a070b0" stroke-width="1.2"/>
<ellipse cx="566.0" cy="559.5" rx="3.5" ry="5" fill="#dcb8e6" stroke="#9050a8" stroke-width="1.2"/>
<rect x="402" y="196" width="7" height="63" fill="#f6f2ea" fill-opacity="0.5" stroke="#2f6a3a" stroke-width="1.5" stroke-opacity="0.75"/>
<rect x="421" y="196" width="7" height="63" fill="#f6f2ea" fill-opacity="0.5" stroke="#2f6a3a" stroke-width="1.5" stroke-opacity="0.75"/>
<rect x="450.5" y="196" width="7.5" height="63" fill="#f6f2ea" fill-opacity="0.5" stroke="#2f6a3a" stroke-width="1.5" stroke-opacity="0.75"/>
<rect x="469" y="196" width="7" height="63" fill="#f6f2ea" fill-opacity="0.5" stroke="#2f6a3a" stroke-width="1.5" stroke-opacity="0.75"/>
<rect x="498.5" y="196" width="7.0" height="63" fill="#f6f2ea" fill-opacity="0.5" stroke="#2f6a3a" stroke-width="1.5" stroke-opacity="0.75"/>
<rect x="517.5" y="196" width="7.0" height="63" fill="#f6f2ea" fill-opacity="0.5" stroke="#2f6a3a" stroke-width="1.5" stroke-opacity="0.75"/>
<rect x="546" y="196" width="7" height="63" fill="#f6f2ea" fill-opacity="0.5" stroke="#2f6a3a" stroke-width="1.5" stroke-opacity="0.75"/>
<rect x="566" y="196" width="7" height="63" fill="#f6f2ea" fill-opacity="0.5" stroke="#2f6a3a" stroke-width="1.5" stroke-opacity="0.75"/>
<rect x="402" y="308" width="7" height="61" fill="#f6f2ea" fill-opacity="0.5" stroke="#2f6a3a" stroke-width="1.5" stroke-opacity="0.75"/>
<rect x="421" y="308" width="7" height="61" fill="#f6f2ea" fill-opacity="0.5" stroke="#2f6a3a" stroke-width="1.5" stroke-opacity="0.75"/>
<rect x="450.5" y="308" width="7.5" height="61" fill="#f6f2ea" fill-opacity="0.5" stroke="#2f6a3a" stroke-width="1.5" stroke-opacity="0.75"/>
<rect x="469" y="308" width="7" height="61" fill="#f6f2ea" fill-opacity="0.5" stroke="#2f6a3a" stroke-width="1.5" stroke-opacity="0.75"/>
<rect x="498.5" y="308" width="7.0" height="61" fill="#f6f2ea" fill-opacity="0.5" stroke="#2f6a3a" stroke-width="1.5" stroke-opacity="0.75"/>
<rect x="517.5" y="308" width="7.0" height="61" fill="#f6f2ea" fill-opacity="0.5" stroke="#2f6a3a" stroke-width="1.5" stroke-opacity="0.75"/>
<rect x="546" y="308" width="7" height="61" fill="#f6f2ea" fill-opacity="0.5" stroke="#2f6a3a" stroke-width="1.5" stroke-opacity="0.75"/>
<rect x="566" y="308" width="7" height="61" fill="#f6f2ea" fill-opacity="0.5" stroke="#2f6a3a" stroke-width="1.5" stroke-opacity="0.75"/>
<rect x="402" y="413" width="7" height="64" fill="#f6f2ea" fill-opacity="0.5" stroke="#2f6a3a" stroke-width="1.5" stroke-opacity="0.75"/>
<rect x="421" y="413" width="7" height="64" fill="#f6f2ea" fill-opacity="0.5" stroke="#2f6a3a" stroke-width="1.5" stroke-opacity="0.75"/>
<rect x="450.5" y="413" width="7.5" height="64" fill="#f6f2ea" fill-opacity="0.5" stroke="#2f6a3a" stroke-width="1.5" stroke-opacity="0.75"/>
<rect x="469" y="413" width="7" height="64" fill="#f6f2ea" fill-opacity="0.5" stroke="#2f6a3a" stroke-width="1.5" stroke-opacity="0.75"/>
<rect x="498.5" y="413" width="7.0" height="64" fill="#f6f2ea" fill-opacity="0.5" stroke="#2f6a3a" stroke-width="1.5" stroke-opacity="0.75"/>
<rect x="517.5" y="413" width="7.0" height="64" fill="#f6f2ea" fill-opacity="0.5" stroke="#2f6a3a" stroke-width="1.5" stroke-opacity="0.75"/>
<rect x="546" y="413" width="7" height="64" fill="#f6f2ea" fill-opacity="0.5" stroke="#2f6a3a" stroke-width="1.5" stroke-opacity="0.75"/>
<rect x="566" y="413" width="7" height="64" fill="#f6f2ea" fill-opacity="0.5" stroke="#2f6a3a" stroke-width="1.5" stroke-opacity="0.75"/>
<rect x="402" y="521" width="7" height="65" fill="#f6f2ea" fill-opacity="0.5" stroke="#2f6a3a" stroke-width="1.5" stroke-opacity="0.75"/>
<rect x="421" y="521" width="7" height="65" fill="#f6f2ea" fill-opacity="0.5" stroke="#2f6a3a" stroke-width="1.5" stroke-opacity="0.75"/>
<rect x="450.5" y="521" width="7.5" height="65" fill="#f6f2ea" fill-opacity="0.5" stroke="#2f6a3a" stroke-width="1.5" stroke-opacity="0.75"/>
<rect x="469" y="521" width="7" height="65" fill="#f6f2ea" fill-opacity="0.5" stroke="#2f6a3a" stroke-width="1.5" stroke-opacity="0.75"/>
<rect x="498.5" y="521" width="7.0" height="65" fill="#f6f2ea" fill-opacity="0.5" stroke="#2f6a3a" stroke-width="1.5" stroke-opacity="0.75"/>
<rect x="517.5" y="521" width="7.0" height="65" fill="#f6f2ea" fill-opacity="0.5" stroke="#2f6a3a" stroke-width="1.5" stroke-opacity="0.75"/>
<rect x="546" y="521" width="7" height="65" fill="#f6f2ea" fill-opacity="0.5" stroke="#2f6a3a" stroke-width="1.5" stroke-opacity="0.75"/>
<rect x="566" y="521" width="7" height="65" fill="#f6f2ea" fill-opacity="0.5" stroke="#2f6a3a" stroke-width="1.5" stroke-opacity="0.75"/>
<rect x="203" y="93" width="52.5" height="55" fill="#f3ebe3" stroke="#74706a" stroke-width="1.3"/>
<rect x="207.5" y="97.5" width="43.5" height="46" rx="2" fill="none" stroke="#b98aa8" stroke-width="1.3"/>
<rect x="214.5" y="104" width="28.5" height="31.5" rx="3" fill="#ede3d6" stroke="#6a6666" stroke-width="1.4"/>
<circle cx="218.9" cy="121.5" r="0.7" fill="#8a7a8a"/>
<circle cx="239.8" cy="115.7" r="0.7" fill="#8a7a8a"/>
<circle cx="238.3" cy="125.8" r="0.7" fill="#8a7a8a"/>
<circle cx="220.3" cy="130.2" r="0.7" fill="#8a7a8a"/>
<circle cx="231.7" cy="132" r="0.7" fill="#8a7a8a"/>
<circle cx="234.5" cy="127" r="0.7" fill="#8a7a8a"/>
<rect x="203" y="633.5" width="52.5" height="55" fill="#f3ebe3" stroke="#74706a" stroke-width="1.3"/>
<rect x="207.5" y="638.0" width="43.5" height="46" rx="2" fill="none" stroke="#b98aa8" stroke-width="1.3"/>
<rect x="214.5" y="644.5" width="28.5" height="31.5" rx="3" fill="#ede3d6" stroke="#6a6666" stroke-width="1.4"/>
<circle cx="225.4" cy="669.3" r="0.7" fill="#8a7a8a"/>
<circle cx="239.8" cy="670.8" r="0.7" fill="#8a7a8a"/>
<circle cx="227.7" cy="667.9" r="0.7" fill="#8a7a8a"/>
<circle cx="228.9" cy="650.4" r="0.7" fill="#8a7a8a"/>
<circle cx="218" cy="649.6" r="0.7" fill="#8a7a8a"/>
<circle cx="221.9" cy="651.8" r="0.7" fill="#8a7a8a"/>
<rect x="305.5" y="93" width="52.5" height="55" fill="#f3ebe3" stroke="#74706a" stroke-width="1.3"/>
<rect x="310.0" y="97.5" width="43.5" height="46" rx="2" fill="none" stroke="#b98aa8" stroke-width="1.3"/>
<rect x="317.0" y="104" width="28.5" height="31.5" rx="3" fill="#ede3d6" stroke="#6a6666" stroke-width="1.4"/>
<circle cx="331.7" cy="125.9" r="0.7" fill="#8a7a8a"/>
<circle cx="332.7" cy="118.4" r="0.7" fill="#8a7a8a"/>
<circle cx="335.4" cy="115.2" r="0.7" fill="#8a7a8a"/>
<circle cx="330.9" cy="127.4" r="0.7" fill="#8a7a8a"/>
<circle cx="329.3" cy="111.9" r="0.7" fill="#8a7a8a"/>
<circle cx="341.5" cy="126.4" r="0.7" fill="#8a7a8a"/>
<rect x="305.5" y="633.5" width="52.5" height="55" fill="#f3ebe3" stroke="#74706a" stroke-width="1.3"/>
<rect x="310.0" y="638.0" width="43.5" height="46" rx="2" fill="none" stroke="#b98aa8" stroke-width="1.3"/>
<rect x="317.0" y="644.5" width="28.5" height="31.5" rx="3" fill="#ede3d6" stroke="#6a6666" stroke-width="1.4"/>
<circle cx="328.5" cy="657.5" r="0.7" fill="#8a7a8a"/>
<circle cx="332.5" cy="663.6" r="0.7" fill="#8a7a8a"/>
<circle cx="325" cy="647.6" r="0.7" fill="#8a7a8a"/>
<circle cx="324.6" cy="668.6" r="0.7" fill="#8a7a8a"/>
<circle cx="323" cy="659.9" r="0.7" fill="#8a7a8a"/>
<circle cx="324.3" cy="653.2" r="0.7" fill="#8a7a8a"/>
<rect x="408" y="93" width="52.5" height="55" fill="#f3ebe3" stroke="#74706a" stroke-width="1.3"/>
<rect x="412.5" y="97.5" width="43.5" height="46" rx="2" fill="none" stroke="#b98aa8" stroke-width="1.3"/>
<rect x="419.5" y="104" width="28.5" height="31.5" rx="3" fill="#ede3d6" stroke="#6a6666" stroke-width="1.4"/>
<circle cx="426.2" cy="117.9" r="0.7" fill="#8a7a8a"/>
<circle cx="426.1" cy="107.7" r="0.7" fill="#8a7a8a"/>
<circle cx="424.7" cy="111.5" r="0.7" fill="#8a7a8a"/>
<circle cx="434" cy="108.6" r="0.7" fill="#8a7a8a"/>
<circle cx="422.5" cy="119.1" r="0.7" fill="#8a7a8a"/>
<circle cx="432" cy="126" r="0.7" fill="#8a7a8a"/>
<rect x="408" y="633.5" width="52.5" height="55" fill="#f3ebe3" stroke="#74706a" stroke-width="1.3"/>
<rect x="412.5" y="638.0" width="43.5" height="46" rx="2" fill="none" stroke="#b98aa8" stroke-width="1.3"/>
<rect x="419.5" y="644.5" width="28.5" height="31.5" rx="3" fill="#ede3d6" stroke="#6a6666" stroke-width="1.4"/>
<circle cx="423.3" cy="658.4" r="0.7" fill="#8a7a8a"/>
<circle cx="431.7" cy="648.2" r="0.7" fill="#8a7a8a"/>
<circle cx="445.7" cy="653.4" r="0.7" fill="#8a7a8a"/>
<circle cx="424.3" cy="660.3" r="0.7" fill="#8a7a8a"/>
<circle cx="426" cy="664.3" r="0.7" fill="#8a7a8a"/>
<circle cx="430.5" cy="650.8" r="0.7" fill="#8a7a8a"/>
<rect x="510.5" y="93" width="52.5" height="55" fill="#f3ebe3" stroke="#74706a" stroke-width="1.3"/>
<rect x="515.0" y="97.5" width="43.5" height="46" rx="2" fill="none" stroke="#b98aa8" stroke-width="1.3"/>
<rect x="522.0" y="104" width="28.5" height="31.5" rx="3" fill="#ede3d6" stroke="#6a6666" stroke-width="1.4"/>
<circle cx="525.8" cy="126.6" r="0.7" fill="#8a7a8a"/>
<circle cx="531.2" cy="128.3" r="0.7" fill="#8a7a8a"/>
<circle cx="535.9" cy="132.2" r="0.7" fill="#8a7a8a"/>
<circle cx="531.9" cy="113.7" r="0.7" fill="#8a7a8a"/>
<circle cx="531" cy="129" r="0.7" fill="#8a7a8a"/>
<circle cx="539.9" cy="116.3" r="0.7" fill="#8a7a8a"/>
<rect x="510.5" y="633.5" width="52.5" height="55" fill="#f3ebe3" stroke="#74706a" stroke-width="1.3"/>
<rect x="515.0" y="638.0" width="43.5" height="46" rx="2" fill="none" stroke="#b98aa8" stroke-width="1.3"/>
<rect x="522.0" y="644.5" width="28.5" height="31.5" rx="3" fill="#ede3d6" stroke="#6a6666" stroke-width="1.4"/>
<circle cx="526.8" cy="665.9" r="0.7" fill="#8a7a8a"/>
<circle cx="548.2" cy="663.5" r="0.7" fill="#8a7a8a"/>
<circle cx="524.6" cy="648.3" r="0.7" fill="#8a7a8a"/>
<circle cx="526.7" cy="652.1" r="0.7" fill="#8a7a8a"/>
<circle cx="525.4" cy="649" r="0.7" fill="#8a7a8a"/>
<circle cx="540.5" cy="671.8" r="0.7" fill="#8a7a8a"/>
<rect x="612.5" y="93" width="52.5" height="55" fill="#f3ebe3" stroke="#74706a" stroke-width="1.3"/>
<rect x="617.0" y="97.5" width="43.5" height="46" rx="2" fill="none" stroke="#b98aa8" stroke-width="1.3"/>
<rect x="624.0" y="104" width="28.5" height="31.5" rx="3" fill="#ede3d6" stroke="#6a6666" stroke-width="1.4"/>
<circle cx="631.4" cy="133.3" r="0.7" fill="#8a7a8a"/>
<circle cx="638.2" cy="128.7" r="0.7" fill="#8a7a8a"/>
<circle cx="649" cy="132.4" r="0.7" fill="#8a7a8a"/>
<circle cx="627.3" cy="115.2" r="0.7" fill="#8a7a8a"/>
<circle cx="641.4" cy="132.6" r="0.7" fill="#8a7a8a"/>
<circle cx="628.7" cy="114.9" r="0.7" fill="#8a7a8a"/>
<rect x="612.5" y="633.5" width="52.5" height="55" fill="#f3ebe3" stroke="#74706a" stroke-width="1.3"/>
<rect x="617.0" y="638.0" width="43.5" height="46" rx="2" fill="none" stroke="#b98aa8" stroke-width="1.3"/>
<rect x="624.0" y="644.5" width="28.5" height="31.5" rx="3" fill="#ede3d6" stroke="#6a6666" stroke-width="1.4"/>
<circle cx="647.3" cy="650.6" r="0.7" fill="#8a7a8a"/>
<circle cx="636.1" cy="656.5" r="0.7" fill="#8a7a8a"/>
<circle cx="643.2" cy="672.6" r="0.7" fill="#8a7a8a"/>
<circle cx="630.8" cy="667.5" r="0.7" fill="#8a7a8a"/>
<circle cx="644.5" cy="670.1" r="0.7" fill="#8a7a8a"/>
<circle cx="640.1" cy="672.4" r="0.7" fill="#8a7a8a"/>
<rect x="714.5" y="93" width="52.5" height="55" fill="#f3ebe3" stroke="#74706a" stroke-width="1.3"/>
<rect x="719.0" y="97.5" width="43.5" height="46" rx="2" fill="none" stroke="#b98aa8" stroke-width="1.3"/>
<rect x="726.0" y="104" width="28.5" height="31.5" rx="3" fill="#ede3d6" stroke="#6a6666" stroke-width="1.4"/>
<circle cx="737.4" cy="118.2" r="0.7" fill="#8a7a8a"/>
<circle cx="734.1" cy="128" r="0.7" fill="#8a7a8a"/>
<circle cx="740.3" cy="114.3" r="0.7" fill="#8a7a8a"/>
<circle cx="732.7" cy="126.5" r="0.7" fill="#8a7a8a"/>
<circle cx="743.3" cy="126.2" r="0.7" fill="#8a7a8a"/>
<circle cx="738" cy="120.2" r="0.7" fill="#8a7a8a"/>
<rect x="714.5" y="633.5" width="52.5" height="55" fill="#f3ebe3" stroke="#74706a" stroke-width="1.3"/>
<rect x="719.0" y="638.0" width="43.5" height="46" rx="2" fill="none" stroke="#b98aa8" stroke-width="1.3"/>
<rect x="726.0" y="644.5" width="28.5" height="31.5" rx="3" fill="#ede3d6" stroke="#6a6666" stroke-width="1.4"/>
<circle cx="732.3" cy="666.7" r="0.7" fill="#8a7a8a"/>
<circle cx="729.1" cy="660.1" r="0.7" fill="#8a7a8a"/>
<circle cx="747.1" cy="665.8" r="0.7" fill="#8a7a8a"/>
<circle cx="730.9" cy="653.9" r="0.7" fill="#8a7a8a"/>
<circle cx="749.2" cy="664.8" r="0.7" fill="#8a7a8a"/>
<circle cx="750" cy="671.1" r="0.7" fill="#8a7a8a"/>
<rect x="203" y="202" width="52.5" height="55" fill="#f3ebe3" stroke="#74706a" stroke-width="1.3"/>
<rect x="207.5" y="206.5" width="43.5" height="46" rx="2" fill="none" stroke="#b98aa8" stroke-width="1.3"/>
<rect x="214.5" y="213" width="28.5" height="31.5" rx="3" fill="#ede3d6" stroke="#6a6666" stroke-width="1.4"/>
<circle cx="228" cy="240.2" r="0.7" fill="#8a7a8a"/>
<circle cx="235" cy="225" r="0.7" fill="#8a7a8a"/>
<circle cx="226.1" cy="217.9" r="0.7" fill="#8a7a8a"/>
<circle cx="226.8" cy="241.8" r="0.7" fill="#8a7a8a"/>
<circle cx="219.6" cy="231.4" r="0.7" fill="#8a7a8a"/>
<circle cx="219.7" cy="218.2" r="0.7" fill="#8a7a8a"/>
<rect x="714.5" y="202" width="52.5" height="55" fill="#f3ebe3" stroke="#74706a" stroke-width="1.3"/>
<rect x="719.0" y="206.5" width="43.5" height="46" rx="2" fill="none" stroke="#b98aa8" stroke-width="1.3"/>
<rect x="726.0" y="213" width="28.5" height="31.5" rx="3" fill="#ede3d6" stroke="#6a6666" stroke-width="1.4"/>
<circle cx="744.4" cy="222.5" r="0.7" fill="#8a7a8a"/>
<circle cx="729.7" cy="220.1" r="0.7" fill="#8a7a8a"/>
<circle cx="744.3" cy="231.8" r="0.7" fill="#8a7a8a"/>
<circle cx="728.8" cy="222.2" r="0.7" fill="#8a7a8a"/>
<circle cx="752.2" cy="221.9" r="0.7" fill="#8a7a8a"/>
<circle cx="742.3" cy="227.3" r="0.7" fill="#8a7a8a"/>
<rect x="203" y="310" width="52.5" height="55" fill="#f3ebe3" stroke="#74706a" stroke-width="1.3"/>
<rect x="207.5" y="314.5" width="43.5" height="46" rx="2" fill="none" stroke="#b98aa8" stroke-width="1.3"/>
<rect x="214.5" y="321" width="28.5" height="31.5" rx="3" fill="#ede3d6" stroke="#6a6666" stroke-width="1.4"/>
<circle cx="236.1" cy="340.3" r="0.7" fill="#8a7a8a"/>
<circle cx="236.3" cy="338.5" r="0.7" fill="#8a7a8a"/>
<circle cx="221.6" cy="328.8" r="0.7" fill="#8a7a8a"/>
<circle cx="218.9" cy="346.3" r="0.7" fill="#8a7a8a"/>
<circle cx="219.8" cy="324.6" r="0.7" fill="#8a7a8a"/>
<circle cx="240.7" cy="329.4" r="0.7" fill="#8a7a8a"/>
<rect x="714.5" y="310" width="52.5" height="55" fill="#f3ebe3" stroke="#74706a" stroke-width="1.3"/>
<rect x="719.0" y="314.5" width="43.5" height="46" rx="2" fill="none" stroke="#b98aa8" stroke-width="1.3"/>
<rect x="726.0" y="321" width="28.5" height="31.5" rx="3" fill="#ede3d6" stroke="#6a6666" stroke-width="1.4"/>
<circle cx="750.4" cy="326.3" r="0.7" fill="#8a7a8a"/>
<circle cx="739.9" cy="330" r="0.7" fill="#8a7a8a"/>
<circle cx="748.8" cy="340.6" r="0.7" fill="#8a7a8a"/>
<circle cx="744.2" cy="344.6" r="0.7" fill="#8a7a8a"/>
<circle cx="749.9" cy="333.3" r="0.7" fill="#8a7a8a"/>
<circle cx="743.3" cy="336" r="0.7" fill="#8a7a8a"/>
<rect x="203" y="418" width="52.5" height="55" fill="#f3ebe3" stroke="#74706a" stroke-width="1.3"/>
<rect x="207.5" y="422.5" width="43.5" height="46" rx="2" fill="none" stroke="#b98aa8" stroke-width="1.3"/>
<rect x="214.5" y="429" width="28.5" height="31.5" rx="3" fill="#ede3d6" stroke="#6a6666" stroke-width="1.4"/>
<circle cx="219.7" cy="454.6" r="0.7" fill="#8a7a8a"/>
<circle cx="231.6" cy="454" r="0.7" fill="#8a7a8a"/>
<circle cx="222" cy="446.6" r="0.7" fill="#8a7a8a"/>
<circle cx="228.4" cy="451.7" r="0.7" fill="#8a7a8a"/>
<circle cx="218.9" cy="441.3" r="0.7" fill="#8a7a8a"/>
<circle cx="228.9" cy="433.9" r="0.7" fill="#8a7a8a"/>
<rect x="714.5" y="418" width="52.5" height="55" fill="#f3ebe3" stroke="#74706a" stroke-width="1.3"/>
<rect x="719.0" y="422.5" width="43.5" height="46" rx="2" fill="none" stroke="#b98aa8" stroke-width="1.3"/>
<rect x="726.0" y="429" width="28.5" height="31.5" rx="3" fill="#ede3d6" stroke="#6a6666" stroke-width="1.4"/>
<circle cx="742" cy="451.9" r="0.7" fill="#8a7a8a"/>
<circle cx="738.9" cy="449.5" r="0.7" fill="#8a7a8a"/>
<circle cx="743.3" cy="437.8" r="0.7" fill="#8a7a8a"/>
<circle cx="737.1" cy="458.9" r="0.7" fill="#8a7a8a"/>
<circle cx="736.7" cy="443.6" r="0.7" fill="#8a7a8a"/>
<circle cx="730.6" cy="437.9" r="0.7" fill="#8a7a8a"/>
<rect x="203" y="525.5" width="52.5" height="55" fill="#f3ebe3" stroke="#74706a" stroke-width="1.3"/>
<rect x="207.5" y="530.0" width="43.5" height="46" rx="2" fill="none" stroke="#b98aa8" stroke-width="1.3"/>
<rect x="214.5" y="536.5" width="28.5" height="31.5" rx="3" fill="#ede3d6" stroke="#6a6666" stroke-width="1.4"/>
<circle cx="221" cy="564.6" r="0.7" fill="#8a7a8a"/>
<circle cx="234.8" cy="563.1" r="0.7" fill="#8a7a8a"/>
<circle cx="241.2" cy="556" r="0.7" fill="#8a7a8a"/>
<circle cx="239.8" cy="554" r="0.7" fill="#8a7a8a"/>
<circle cx="227.3" cy="565.1" r="0.7" fill="#8a7a8a"/>
<circle cx="239.1" cy="565.1" r="0.7" fill="#8a7a8a"/>
<rect x="714.5" y="525.5" width="52.5" height="55" fill="#f3ebe3" stroke="#74706a" stroke-width="1.3"/>
<rect x="719.0" y="530.0" width="43.5" height="46" rx="2" fill="none" stroke="#b98aa8" stroke-width="1.3"/>
<rect x="726.0" y="536.5" width="28.5" height="31.5" rx="3" fill="#ede3d6" stroke="#6a6666" stroke-width="1.4"/>
<circle cx="740.4" cy="560.4" r="0.7" fill="#8a7a8a"/>
<circle cx="738.5" cy="566.4" r="0.7" fill="#8a7a8a"/>
<circle cx="751" cy="547.4" r="0.7" fill="#8a7a8a"/>
<circle cx="751.4" cy="544.5" r="0.7" fill="#8a7a8a"/>
<circle cx="730.8" cy="559" r="0.7" fill="#8a7a8a"/>
<circle cx="735.7" cy="553.5" r="0.7" fill="#8a7a8a"/>
<rect x="176.5" y="28" width="107.5" height="42" fill="#fff"/>
<text transform="translate(229.7,64) scale(1.0,1.057)" font-size="43.7" text-anchor="middle" font-family="'Liberation Sans', Arial, sans-serif" >GND</text>
<rect x="675" y="28" width="106.5" height="42" fill="#fff"/>
<text transform="translate(728.2,64) scale(1.0,1.057)" font-size="43.7" text-anchor="middle" font-family="'Liberation Sans', Arial, sans-serif" >GND</text>
<rect x="177" y="711" width="107" height="42.5" fill="#fff"/>
<text transform="translate(230.5,748) scale(1.0,1.057)" font-size="43.7" text-anchor="middle" font-family="'Liberation Sans', Arial, sans-serif" >GND</text>
<rect x="675" y="711" width="106.5" height="42.5" fill="#fff"/>
<text transform="translate(728.2,748) scale(1.0,1.057)" font-size="43.7" text-anchor="middle" font-family="'Liberation Sans', Arial, sans-serif" >GND</text>
<rect x="345" y="6.5" width="69" height="40.5" fill="#fff"/>
<text transform="translate(379.5,42) scale(1.0,1.057)" font-size="44" text-anchor="middle" font-family="'Liberation Sans', Arial, sans-serif" >TE</text>
<rect x="344.5" y="733.5" width="69.5" height="42.5" fill="#fff"/>
<text transform="translate(379.2,769) scale(1.0,1.057)" font-size="44" text-anchor="middle" font-family="'Liberation Sans', Arial, sans-serif" >GE</text>
<rect x="314" y="45.5" width="26" height="42.0" fill="#fff"/>
<text transform="translate(327,79.8) scale(1.0,1.057)" font-size="44" text-anchor="middle" font-family="'Liberation Sans', Arial, sans-serif" >1</text>
<rect x="314" y="698.5" width="26" height="42.0" fill="#fff"/>
<text transform="translate(327,732.8) scale(1.0,1.057)" font-size="44" text-anchor="middle" font-family="'Liberation Sans', Arial, sans-serif" >1</text>
<rect x="421" y="45.5" width="26" height="42.0" fill="#fff"/>
<text transform="translate(434,79.8) scale(1.0,1.057)" font-size="44" text-anchor="middle" font-family="'Liberation Sans', Arial, sans-serif" >2</text>
<rect x="421" y="698.5" width="26" height="42.0" fill="#fff"/>
<text transform="translate(434,732.8) scale(1.0,1.057)" font-size="44" text-anchor="middle" font-family="'Liberation Sans', Arial, sans-serif" >2</text>
<rect x="523.5" y="45.5" width="26.0" height="42.0" fill="#fff"/>
<text transform="translate(536.5,79.8) scale(1.0,1.057)" font-size="44" text-anchor="middle" font-family="'Liberation Sans', Arial, sans-serif" >3</text>
<rect x="523.5" y="698.5" width="26.0" height="42.0" fill="#fff"/>
<text transform="translate(536.5,732.8) scale(1.0,1.057)" font-size="44" text-anchor="middle" font-family="'Liberation Sans', Arial, sans-serif" >3</text>
<rect x="625" y="45.5" width="26" height="42.0" fill="#fff"/>
<text transform="translate(638,79.8) scale(1.0,1.057)" font-size="44" text-anchor="middle" font-family="'Liberation Sans', Arial, sans-serif" >4</text>
<rect x="625" y="698.5" width="26" height="42.0" fill="#fff"/>
<text transform="translate(638,732.8) scale(1.0,1.057)" font-size="44" text-anchor="middle" font-family="'Liberation Sans', Arial, sans-serif" >4</text>
<rect x="167" y="208" width="25.5" height="42" fill="#fff"/>
<text transform="translate(179.8,242.3) scale(1.0,1.057)" font-size="44" text-anchor="middle" font-family="'Liberation Sans', Arial, sans-serif" >4</text>
<rect x="777" y="208" width="25.5" height="42" fill="#fff"/>
<text transform="translate(789.8,242.3) scale(1.0,1.057)" font-size="44" text-anchor="middle" font-family="'Liberation Sans', Arial, sans-serif" >4</text>
<rect x="167" y="315.5" width="25.5" height="42.0" fill="#fff"/>
<text transform="translate(179.8,349.8) scale(1.0,1.057)" font-size="44" text-anchor="middle" font-family="'Liberation Sans', Arial, sans-serif" >3</text>
<rect x="777" y="315.5" width="25.5" height="42.0" fill="#fff"/>
<text transform="translate(789.8,349.8) scale(1.0,1.057)" font-size="44" text-anchor="middle" font-family="'Liberation Sans', Arial, sans-serif" >3</text>
<rect x="167" y="425.5" width="25.5" height="42.0" fill="#fff"/>
<text transform="translate(179.8,459.8) scale(1.0,1.057)" font-size="44" text-anchor="middle" font-family="'Liberation Sans', Arial, sans-serif" >2</text>
<rect x="777" y="425.5" width="25.5" height="42.0" fill="#fff"/>
<text transform="translate(789.8,459.8) scale(1.0,1.057)" font-size="44" text-anchor="middle" font-family="'Liberation Sans', Arial, sans-serif" >2</text>
<rect x="167" y="537" width="25.5" height="42" fill="#fff"/>
<text transform="translate(179.8,571.3) scale(1.0,1.057)" font-size="44" text-anchor="middle" font-family="'Liberation Sans', Arial, sans-serif" >1</text>
<rect x="777" y="537" width="25.5" height="42" fill="#fff"/>
<text transform="translate(789.8,571.3) scale(1.0,1.057)" font-size="44" text-anchor="middle" font-family="'Liberation Sans', Arial, sans-serif" >1</text>
<rect x="126" y="438.5" width="40" height="68" fill="#fff"/>
<text transform="translate(160,472.5) rotate(-90)" font-size="44" text-anchor="middle" font-family="'Liberation Sans', Arial, sans-serif">BE</text>
<rect x="805" y="438.5" width="40" height="68" fill="#fff"/>
<text transform="translate(839,472.5) rotate(-90)" font-size="44" text-anchor="middle" font-family="'Liberation Sans', Arial, sans-serif">BE</text>
<text transform="translate(479.5,46.5) scale(0.72,1)" font-size="43" text-anchor="middle" fill="#f1f5e2" stroke="#445e44" stroke-width="2.4" paint-order="stroke" font-weight="bold" letter-spacing="5" font-family="'Liberation Sans', Arial, sans-serif">4X4</text>
<text transform="translate(481,765) scale(0.72,1)" font-size="43" text-anchor="middle" fill="#f1f5e2" stroke="#445e44" stroke-width="2.4" paint-order="stroke" font-weight="bold" letter-spacing="5" font-family="'Liberation Sans', Arial, sans-serif">4X4</text>
<text transform="translate(160,382.5) rotate(-90) scale(0.72,1)" font-size="43" text-anchor="middle" fill="#f1f5e2" stroke="#445e44" stroke-width="2.4" paint-order="stroke" font-weight="bold" letter-spacing="5" font-family="'Liberation Sans', Arial, sans-serif">4X4</text>
<text transform="translate(840,383) rotate(-90) scale(0.72,1)" font-size="43" text-anchor="middle" fill="#f1f5e2" stroke="#445e44" stroke-width="2.4" paint-order="stroke" font-weight="bold" letter-spacing="5" font-family="'Liberation Sans', Arial, sans-serif">4X4</text>
<text x="5" y="789.5" font-size="66" font-family="'Liberation Sans', Arial, sans-serif">(a)</text>
<line x1="244" y1="1178" x2="855" y2="1178" stroke="#000" stroke-width="4.6"/>
<line x1="244" y1="1321.5" x2="855" y2="1321.5" stroke="#000" stroke-width="4.6"/>
<line x1="244" y1="1463.2" x2="855" y2="1463.2" stroke="#000" stroke-width="4.6"/>
<line x1="244" y1="1609" x2="855" y2="1609" stroke="#000" stroke-width="4.6"/>
<line x1="299.2" y1="1014" x2="299.2" y2="1473.4" stroke="#000" stroke-width="4.6" stroke-linecap="round"/>
<line x1="429.5" y1="1014" x2="429.5" y2="1473.4" stroke="#000" stroke-width="4.6" stroke-linecap="round"/>
<line x1="562.5" y1="1014" x2="562.5" y2="1473.4" stroke="#000" stroke-width="4.6" stroke-linecap="round"/>
<line x1="694.5" y1="1014" x2="694.5" y2="1473.4" stroke="#000" stroke-width="4.6" stroke-linecap="round"/>
<line x1="397.5" y1="1112" x2="397.5" y2="1630" stroke="#000" stroke-width="4.6" stroke-linecap="round"/>
<line x1="527.7" y1="1112" x2="527.7" y2="1630" stroke="#000" stroke-width="4.6" stroke-linecap="round"/>
<line x1="661.5" y1="1112" x2="661.5" y2="1630" stroke="#000" stroke-width="4.6" stroke-linecap="round"/>
<line x1="793" y1="1112" x2="793" y2="1630" stroke="#000" stroke-width="4.6" stroke-linecap="round"/>
<polyline points="299.2,1042.4 312,1062.7 322.3,1058.6 324,1062.8" fill="none" stroke="#000" stroke-width="4.6" stroke-linejoin="miter" stroke-linecap="butt" />
<rect x="-13.2" y="-4.3" width="26.4" height="8.6" rx="2" transform="translate(316.6,1072.8) rotate(-58)" fill="none" stroke="#000" stroke-width="5.1"/>
<rect x="-13.2" y="-4.3" width="26.4" height="8.6" rx="2" transform="translate(325.4,1088.2) rotate(-58)" fill="none" stroke="#000" stroke-width="5.1"/>
<rect x="-13.2" y="-4.3" width="26.4" height="8.6" rx="2" transform="translate(334.3,1103.7) rotate(-58)" fill="none" stroke="#000" stroke-width="5.1"/>
<polyline points="335.6,1105.9 354,1138.2 365.3,1133.8" fill="none" stroke="#000" stroke-width="4.6" stroke-linejoin="miter" stroke-linecap="butt" />
<polyline points="380.3,1151.6 364.2,1158.5 376.8,1178.1" fill="none" stroke="#000" stroke-width="4.6" stroke-linejoin="miter" stroke-linecap="butt" />
<polyline points="371.1,1127.5 397.5,1112" fill="none" stroke="#000" stroke-width="4.6" stroke-linejoin="miter" stroke-linecap="butt" />
<polyline points="365.9,1125.7 384.3,1156.8" fill="none" stroke="#000" stroke-width="8" stroke-linejoin="miter" stroke-linecap="butt" />
<polyline points="361.7,1128.6 369.7,1124" fill="none" stroke="#000" stroke-width="4" stroke-linejoin="miter" stroke-linecap="butt" />
<polyline points="380.2,1159.4 388.4,1154.7" fill="none" stroke="#000" stroke-width="4" stroke-linejoin="miter" stroke-linecap="butt" />
<polygon points="357.3,1143.6 369.9,1141.3 364.7,1155.1" fill="#000"/>
<polyline points="429.5,1042.4 442.3,1062.7 452.6,1058.6 454.3,1062.8" fill="none" stroke="#000" stroke-width="4.6" stroke-linejoin="miter" stroke-linecap="butt" />
<rect x="-13.2" y="-4.3" width="26.4" height="8.6" rx="2" transform="translate(446.9,1072.8) rotate(-58)" fill="none" stroke="#000" stroke-width="5.1"/>
<rect x="-13.2" y="-4.3" width="26.4" height="8.6" rx="2" transform="translate(455.7,1088.2) rotate(-58)" fill="none" stroke="#000" stroke-width="5.1"/>
<rect x="-13.2" y="-4.3" width="26.4" height="8.6" rx="2" transform="translate(464.6,1103.7) rotate(-58)" fill="none" stroke="#000" stroke-width="5.1"/>
<polyline points="465.9,1105.9 484.3,1138.2 495.6,1133.8" fill="none" stroke="#000" stroke-width="4.6" stroke-linejoin="miter" stroke-linecap="butt" />
<polyline points="510.6,1151.6 494.5,1158.5 507.1,1178.1" fill="none" stroke="#000" stroke-width="4.6" stroke-linejoin="miter" stroke-linecap="butt" />
<polyline points="501.4,1127.5 527.8,1112" fill="none" stroke="#000" stroke-width="4.6" stroke-linejoin="miter" stroke-linecap="butt" />
<polyline points="496.2,1125.7 514.6,1156.8" fill="none" stroke="#000" stroke-width="8" stroke-linejoin="miter" stroke-linecap="butt" />
<polyline points="492,1128.6 500,1124" fill="none" stroke="#000" stroke-width="4" stroke-linejoin="miter" stroke-linecap="butt" />
<polyline points="510.5,1159.4 518.7,1154.7" fill="none" stroke="#000" stroke-width="4" stroke-linejoin="miter" stroke-linecap="butt" />
<polygon points="487.6,1143.6 500.2,1141.3 495,1155.1" fill="#000"/>
<polyline points="562.5,1042.4 575.3,1062.7 585.6,1058.6 587.3,1062.8" fill="none" stroke="#000" stroke-width="4.6" stroke-linejoin="miter" stroke-linecap="butt" />
<rect x="-13.2" y="-4.3" width="26.4" height="8.6" rx="2" transform="translate(579.9,1072.8) rotate(-58)" fill="none" stroke="#000" stroke-width="5.1"/>
<rect x="-13.2" y="-4.3" width="26.4" height="8.6" rx="2" transform="translate(588.7,1088.2) rotate(-58)" fill="none" stroke="#000" stroke-width="5.1"/>
<rect x="-13.2" y="-4.3" width="26.4" height="8.6" rx="2" transform="translate(597.6,1103.7) rotate(-58)" fill="none" stroke="#000" stroke-width="5.1"/>
<polyline points="598.9,1105.9 617.3,1138.2 628.6,1133.8" fill="none" stroke="#000" stroke-width="4.6" stroke-linejoin="miter" stroke-linecap="butt" />
<polyline points="643.6,1151.6 627.5,1158.5 640.1,1178.1" fill="none" stroke="#000" stroke-width="4.6" stroke-linejoin="miter" stroke-linecap="butt" />
<polyline points="634.4,1127.5 660.8,1112" fill="none" stroke="#000" stroke-width="4.6" stroke-linejoin="miter" stroke-linecap="butt" />
<polyline points="629.2,1125.7 647.6,1156.8" fill="none" stroke="#000" stroke-width="8" stroke-linejoin="miter" stroke-linecap="butt" />
<polyline points="625,1128.6 633,1124" fill="none" stroke="#000" stroke-width="4" stroke-linejoin="miter" stroke-linecap="butt" />
<polyline points="643.5,1159.4 651.7,1154.7" fill="none" stroke="#000" stroke-width="4" stroke-linejoin="miter" stroke-linecap="butt" />
<polygon points="620.6,1143.6 633.2,1141.3 628,1155.1" fill="#000"/>
<polyline points="694.5,1042.4 707.3,1062.7 717.6,1058.6 719.3,1062.8" fill="none" stroke="#000" stroke-width="4.6" stroke-linejoin="miter" stroke-linecap="butt" />
<rect x="-13.2" y="-4.3" width="26.4" height="8.6" rx="2" transform="translate(711.9,1072.8) rotate(-58)" fill="none" stroke="#000" stroke-width="5.1"/>
<rect x="-13.2" y="-4.3" width="26.4" height="8.6" rx="2" transform="translate(720.7,1088.2) rotate(-58)" fill="none" stroke="#000" stroke-width="5.1"/>
<rect x="-13.2" y="-4.3" width="26.4" height="8.6" rx="2" transform="translate(729.6,1103.7) rotate(-58)" fill="none" stroke="#000" stroke-width="5.1"/>
<polyline points="730.9,1105.9 749.3,1138.2 760.6,1133.8" fill="none" stroke="#000" stroke-width="4.6" stroke-linejoin="miter" stroke-linecap="butt" />
<polyline points="775.6,1151.6 759.5,1158.5 772.1,1178.1" fill="none" stroke="#000" stroke-width="4.6" stroke-linejoin="miter" stroke-linecap="butt" />
<polyline points="766.4,1127.5 792.8,1112" fill="none" stroke="#000" stroke-width="4.6" stroke-linejoin="miter" stroke-linecap="butt" />
<polyline points="761.2,1125.7 779.6,1156.8" fill="none" stroke="#000" stroke-width="8" stroke-linejoin="miter" stroke-linecap="butt" />
<polyline points="757,1128.6 765,1124" fill="none" stroke="#000" stroke-width="4" stroke-linejoin="miter" stroke-linecap="butt" />
<polyline points="775.5,1159.4 783.7,1154.7" fill="none" stroke="#000" stroke-width="4" stroke-linejoin="miter" stroke-linecap="butt" />
<polygon points="752.6,1143.6 765.2,1141.3 760,1155.1" fill="#000"/>
<polyline points="299.2,1185.9 312,1206.2 322.3,1202.1 324,1206.3" fill="none" stroke="#000" stroke-width="4.6" stroke-linejoin="miter" stroke-linecap="butt" />
<rect x="-13.2" y="-4.3" width="26.4" height="8.6" rx="2" transform="translate(316.6,1216.3) rotate(-58)" fill="none" stroke="#000" stroke-width="5.1"/>
<rect x="-13.2" y="-4.3" width="26.4" height="8.6" rx="2" transform="translate(325.4,1231.7) rotate(-58)" fill="none" stroke="#000" stroke-width="5.1"/>
<rect x="-13.2" y="-4.3" width="26.4" height="8.6" rx="2" transform="translate(334.3,1247.2) rotate(-58)" fill="none" stroke="#000" stroke-width="5.1"/>
<polyline points="335.6,1249.4 354,1281.7 365.3,1277.3" fill="none" stroke="#000" stroke-width="4.6" stroke-linejoin="miter" stroke-linecap="butt" />
<polyline points="380.3,1295.1 364.2,1302 376.8,1321.6" fill="none" stroke="#000" stroke-width="4.6" stroke-linejoin="miter" stroke-linecap="butt" />
<polyline points="371.1,1271 397.5,1255.5" fill="none" stroke="#000" stroke-width="4.6" stroke-linejoin="miter" stroke-linecap="butt" />
<polyline points="365.9,1269.2 384.3,1300.3" fill="none" stroke="#000" stroke-width="8" stroke-linejoin="miter" stroke-linecap="butt" />
<polyline points="361.7,1272.1 369.7,1267.5" fill="none" stroke="#000" stroke-width="4" stroke-linejoin="miter" stroke-linecap="butt" />
<polyline points="380.2,1302.9 388.4,1298.2" fill="none" stroke="#000" stroke-width="4" stroke-linejoin="miter" stroke-linecap="butt" />
<polygon points="357.3,1287.1 369.9,1284.8 364.7,1298.6" fill="#000"/>
<polyline points="429.5,1185.9 442.3,1206.2 452.6,1202.1 454.3,1206.3" fill="none" stroke="#ff0000" stroke-width="4.6" stroke-linejoin="miter" stroke-linecap="butt" />
<rect x="-13.2" y="-4.3" width="26.4" height="8.6" rx="2" transform="translate(446.9,1216.3) rotate(-58)" fill="none" stroke="#ff0000" stroke-width="5.1"/>
<rect x="-13.2" y="-4.3" width="26.4" height="8.6" rx="2" transform="translate(455.7,1231.7) rotate(-58)" fill="none" stroke="#ff0000" stroke-width="5.1"/>
<rect x="-13.2" y="-4.3" width="26.4" height="8.6" rx="2" transform="translate(464.6,1247.2) rotate(-58)" fill="none" stroke="#ff0000" stroke-width="5.1"/>
<polyline points="465.9,1249.4 484.3,1281.7 495.6,1277.3" fill="none" stroke="#ff0000" stroke-width="4.6" stroke-linejoin="miter" stroke-linecap="butt" />
<polyline points="510.6,1295.1 494.5,1302 507.1,1321.6" fill="none" stroke="#ff0000" stroke-width="4.6" stroke-linejoin="miter" stroke-linecap="butt" />
<polyline points="501.4,1271 527.8,1255.5" fill="none" stroke="#ff0000" stroke-width="4.6" stroke-linejoin="miter" stroke-linecap="butt" />
<polyline points="496.2,1269.2 514.6,1300.3" fill="none" stroke="#ff0000" stroke-width="8" stroke-linejoin="miter" stroke-linecap="butt" />
<polyline points="492,1272.1 500,1267.5" fill="none" stroke="#ff0000" stroke-width="4" stroke-linejoin="miter" stroke-linecap="butt" />
<polyline points="510.5,1302.9 518.7,1298.2" fill="none" stroke="#ff0000" stroke-width="4" stroke-linejoin="miter" stroke-linecap="butt" />
<polygon points="487.6,1287.1 500.2,1284.8 495,1298.6" fill="#ff0000"/>
<polyline points="562.5,1185.9 575.3,1206.2 585.6,1202.1 587.3,1206.3" fill="none" stroke="#000" stroke-width="4.6" stroke-linejoin="miter" stroke-linecap="butt" />
<rect x="-13.2" y="-4.3" width="26.4" height="8.6" rx="2" transform="translate(579.9,1216.3) rotate(-58)" fill="none" stroke="#000" stroke-width="5.1"/>
<rect x="-13.2" y="-4.3" width="26.4" height="8.6" rx="2" transform="translate(588.7,1231.7) rotate(-58)" fill="none" stroke="#000" stroke-width="5.1"/>
<rect x="-13.2" y="-4.3" width="26.4" height="8.6" rx="2" transform="translate(597.6,1247.2) rotate(-58)" fill="none" stroke="#000" stroke-width="5.1"/>
<polyline points="598.9,1249.4 617.3,1281.7 628.6,1277.3" fill="none" stroke="#000" stroke-width="4.6" stroke-linejoin="miter" stroke-linecap="butt" />
<polyline points="643.6,1295.1 627.5,1302 640.1,1321.6" fill="none" stroke="#000" stroke-width="4.6" stroke-linejoin="miter" stroke-linecap="butt" />
<polyline points="634.4,1271 660.8,1255.5" fill="none" stroke="#000" stroke-width="4.6" stroke-linejoin="miter" stroke-linecap="butt" />
<polyline points="629.2,1269.2 647.6,1300.3" fill="none" stroke="#000" stroke-width="8" stroke-linejoin="miter" stroke-linecap="butt" />
<polyline points="625,1272.1 633,1267.5" fill="none" stroke="#000" stroke-width="4" stroke-linejoin="miter" stroke-linecap="butt" />
<polyline points="643.5,1302.9 651.7,1298.2" fill="none" stroke="#000" stroke-width="4" stroke-linejoin="miter" stroke-linecap="butt" />
<polygon points="620.6,1287.1 633.2,1284.8 628,1298.6" fill="#000"/>
<polyline points="694.5,1185.9 707.3,1206.2 717.6,1202.1 719.3,1206.3" fill="none" stroke="#000" stroke-width="4.6" stroke-linejoin="miter" stroke-linecap="butt" />
<rect x="-13.2" y="-4.3" width="26.4" height="8.6" rx="2" transform="translate(711.9,1216.3) rotate(-58)" fill="none" stroke="#000" stroke-width="5.1"/>
<rect x="-13.2" y="-4.3" width="26.4" height="8.6" rx="2" transform="translate(720.7,1231.7) rotate(-58)" fill="none" stroke="#000" stroke-width="5.1"/>
<rect x="-13.2" y="-4.3" width="26.4" height="8.6" rx="2" transform="translate(729.6,1247.2) rotate(-58)" fill="none" stroke="#000" stroke-width="5.1"/>
<polyline points="730.9,1249.4 749.3,1281.7 760.6,1277.3" fill="none" stroke="#000" stroke-width="4.6" stroke-linejoin="miter" stroke-linecap="butt" />
<polyline points="775.6,1295.1 759.5,1302 772.1,1321.6" fill="none" stroke="#000" stroke-width="4.6" stroke-linejoin="miter" stroke-linecap="butt" />
<polyline points="766.4,1271 792.8,1255.5" fill="none" stroke="#000" stroke-width="4.6" stroke-linejoin="miter" stroke-linecap="butt" />
<polyline points="761.2,1269.2 779.6,1300.3" fill="none" stroke="#000" stroke-width="8" stroke-linejoin="miter" stroke-linecap="butt" />
<polyline points="757,1272.1 765,1267.5" fill="none" stroke="#000" stroke-width="4" stroke-linejoin="miter" stroke-linecap="butt" />
<polyline points="775.5,1302.9 783.7,1298.2" fill="none" stroke="#000" stroke-width="4" stroke-linejoin="miter" stroke-linecap="butt" />
<polygon points="752.6,1287.1 765.2,1284.8 760,1298.6" fill="#000"/>
<polyline points="299.2,1327.6 312,1347.9 322.3,1343.8 324,1348" fill="none" stroke="#000" stroke-width="4.6" stroke-linejoin="miter" stroke-linecap="butt" />
<rect x="-13.2" y="-4.3" width="26.4" height="8.6" rx="2" transform="translate(316.6,1358) rotate(-58)" fill="none" stroke="#000" stroke-width="5.1"/>
<rect x="-13.2" y="-4.3" width="26.4" height="8.6" rx="2" transform="translate(325.4,1373.4) rotate(-58)" fill="none" stroke="#000" stroke-width="5.1"/>
<rect x="-13.2" y="-4.3" width="26.4" height="8.6" rx="2" transform="translate(334.3,1388.9) rotate(-58)" fill="none" stroke="#000" stroke-width="5.1"/>
<polyline points="335.6,1391.1 354,1423.4 365.3,1419" fill="none" stroke="#000" stroke-width="4.6" stroke-linejoin="miter" stroke-linecap="butt" />
<polyline points="380.3,1436.8 364.2,1443.7 376.8,1463.3" fill="none" stroke="#000" stroke-width="4.6" stroke-linejoin="miter" stroke-linecap="butt" />
<polyline points="371.1,1412.7 397.5,1397.2" fill="none" stroke="#000" stroke-width="4.6" stroke-linejoin="miter" stroke-linecap="butt" />
<polyline points="365.9,1410.9 384.3,1442" fill="none" stroke="#000" stroke-width="8" stroke-linejoin="miter" stroke-linecap="butt" />
<polyline points="361.7,1413.8 369.7,1409.2" fill="none" stroke="#000" stroke-width="4" stroke-linejoin="miter" stroke-linecap="butt" />
<polyline points="380.2,1444.6 388.4,1439.9" fill="none" stroke="#000" stroke-width="4" stroke-linejoin="miter" stroke-linecap="butt" />
<polygon points="357.3,1428.8 369.9,1426.5 364.7,1440.3" fill="#000"/>
<polyline points="429.5,1327.6 442.3,1347.9 452.6,1343.8 454.3,1348" fill="none" stroke="#000" stroke-width="4.6" stroke-linejoin="miter" stroke-linecap="butt" />
<rect x="-13.2" y="-4.3" width="26.4" height="8.6" rx="2" transform="translate(446.9,1358) rotate(-58)" fill="none" stroke="#000" stroke-width="5.1"/>
<rect x="-13.2" y="-4.3" width="26.4" height="8.6" rx="2" transform="translate(455.7,1373.4) rotate(-58)" fill="none" stroke="#000" stroke-width="5.1"/>
<rect x="-13.2" y="-4.3" width="26.4" height="8.6" rx="2" transform="translate(464.6,1388.9) rotate(-58)" fill="none" stroke="#000" stroke-width="5.1"/>
<polyline points="465.9,1391.1 484.3,1423.4 495.6,1419" fill="none" stroke="#000" stroke-width="4.6" stroke-linejoin="miter" stroke-linecap="butt" />
<polyline points="510.6,1436.8 494.5,1443.7 507.1,1463.3" fill="none" stroke="#000" stroke-width="4.6" stroke-linejoin="miter" stroke-linecap="butt" />
<polyline points="501.4,1412.7 527.8,1397.2" fill="none" stroke="#000" stroke-width="4.6" stroke-linejoin="miter" stroke-linecap="butt" />
<polyline points="496.2,1410.9 514.6,1442" fill="none" stroke="#000" stroke-width="8" stroke-linejoin="miter" stroke-linecap="butt" />
<polyline points="492,1413.8 500,1409.2" fill="none" stroke="#000" stroke-width="4" stroke-linejoin="miter" stroke-linecap="butt" />
<polyline points="510.5,1444.6 518.7,1439.9" fill="none" stroke="#000" stroke-width="4" stroke-linejoin="miter" stroke-linecap="butt" />
<polygon points="487.6,1428.8 500.2,1426.5 495,1440.3" fill="#000"/>
<polyline points="562.5,1327.6 575.3,1347.9 585.6,1343.8 587.3,1348" fill="none" stroke="#000" stroke-width="4.6" stroke-linejoin="miter" stroke-linecap="butt" />
<rect x="-13.2" y="-4.3" width="26.4" height="8.6" rx="2" transform="translate(579.9,1358) rotate(-58)" fill="none" stroke="#000" stroke-width="5.1"/>
<rect x="-13.2" y="-4.3" width="26.4" height="8.6" rx="2" transform="translate(588.7,1373.4) rotate(-58)" fill="none" stroke="#000" stroke-width="5.1"/>
<rect x="-13.2" y="-4.3" width="26.4" height="8.6" rx="2" transform="translate(597.6,1388.9) rotate(-58)" fill="none" stroke="#000" stroke-width="5.1"/>
<polyline points="598.9,1391.1 617.3,1423.4 628.6,1419" fill="none" stroke="#000" stroke-width="4.6" stroke-linejoin="miter" stroke-linecap="butt" />
<polyline points="643.6,1436.8 627.5,1443.7 640.1,1463.3" fill="none" stroke="#000" stroke-width="4.6" stroke-linejoin="miter" stroke-linecap="butt" />
<polyline points="634.4,1412.7 660.8,1397.2" fill="none" stroke="#000" stroke-width="4.6" stroke-linejoin="miter" stroke-linecap="butt" />
<polyline points="629.2,1410.9 647.6,1442" fill="none" stroke="#000" stroke-width="8" stroke-linejoin="miter" stroke-linecap="butt" />
<polyline points="625,1413.8 633,1409.2" fill="none" stroke="#000" stroke-width="4" stroke-linejoin="miter" stroke-linecap="butt" />
<polyline points="643.5,1444.6 651.7,1439.9" fill="none" stroke="#000" stroke-width="4" stroke-linejoin="miter" stroke-linecap="butt" />
<polygon points="620.6,1428.8 633.2,1426.5 628,1440.3" fill="#000"/>
<polyline points="694.5,1327.6 707.3,1347.9 717.6,1343.8 719.3,1348" fill="none" stroke="#000" stroke-width="4.6" stroke-linejoin="miter" stroke-linecap="butt" />
<rect x="-13.2" y="-4.3" width="26.4" height="8.6" rx="2" transform="translate(711.9,1358) rotate(-58)" fill="none" stroke="#000" stroke-width="5.1"/>
<rect x="-13.2" y="-4.3" width="26.4" height="8.6" rx="2" transform="translate(720.7,1373.4) rotate(-58)" fill="none" stroke="#000" stroke-width="5.1"/>
<rect x="-13.2" y="-4.3" width="26.4" height="8.6" rx="2" transform="translate(729.6,1388.9) rotate(-58)" fill="none" stroke="#000" stroke-width="5.1"/>
<polyline points="730.9,1391.1 749.3,1423.4 760.6,1419" fill="none" stroke="#000" stroke-width="4.6" stroke-linejoin="miter" stroke-linecap="butt" />
<polyline points="775.6,1436.8 759.5,1443.7 772.1,1463.3" fill="none" stroke="#000" stroke-width="4.6" stroke-linejoin="miter" stroke-linecap="butt" />
<polyline points="766.4,1412.7 792.8,1397.2" fill="none" stroke="#000" stroke-width="4.6" stroke-linejoin="miter" stroke-linecap="butt" />
<polyline points="761.2,1410.9 779.6,1442" fill="none" stroke="#000" stroke-width="8" stroke-linejoin="miter" stroke-linecap="butt" />
<polyline points="757,1413.8 765,1409.2" fill="none" stroke="#000" stroke-width="4" stroke-linejoin="miter" stroke-linecap="butt" />
<polyline points="775.5,1444.6 783.7,1439.9" fill="none" stroke="#000" stroke-width="4" stroke-linejoin="miter" stroke-linecap="butt" />
<polygon points="752.6,1428.8 765.2,1426.5 760,1440.3" fill="#000"/>
<polyline points="299.2,1473.4 312,1493.7 322.3,1489.6 324,1493.8" fill="none" stroke="#000" stroke-width="4.6" stroke-linejoin="miter" stroke-linecap="butt" />
<rect x="-13.2" y="-4.3" width="26.4" height="8.6" rx="2" transform="translate(316.6,1503.8) rotate(-58)" fill="none" stroke="#000" stroke-width="5.1"/>
<rect x="-13.2" y="-4.3" width="26.4" height="8.6" rx="2" transform="translate(325.4,1519.2) rotate(-58)" fill="none" stroke="#000" stroke-width="5.1"/>
<rect x="-13.2" y="-4.3" width="26.4" height="8.6" rx="2" transform="translate(334.3,1534.7) rotate(-58)" fill="none" stroke="#000" stroke-width="5.1"/>
<polyline points="335.6,1536.9 354,1569.2 365.3,1564.8" fill="none" stroke="#000" stroke-width="4.6" stroke-linejoin="miter" stroke-linecap="butt" />
<polyline points="380.3,1582.6 364.2,1589.5 376.8,1609.1" fill="none" stroke="#000" stroke-width="4.6" stroke-linejoin="miter" stroke-linecap="butt" />
<polyline points="371.1,1558.5 397.5,1543" fill="none" stroke="#000" stroke-width="4.6" stroke-linejoin="miter" stroke-linecap="butt" />
<polyline points="365.9,1556.7 384.3,1587.8" fill="none" stroke="#000" stroke-width="8" stroke-linejoin="miter" stroke-linecap="butt" />
<polyline points="361.7,1559.6 369.7,1555" fill="none" stroke="#000" stroke-width="4" stroke-linejoin="miter" stroke-linecap="butt" />
<polyline points="380.2,1590.4 388.4,1585.7" fill="none" stroke="#000" stroke-width="4" stroke-linejoin="miter" stroke-linecap="butt" />
<polygon points="357.3,1574.6 369.9,1572.3 364.7,1586.1" fill="#000"/>
<polyline points="429.5,1473.4 442.3,1493.7 452.6,1489.6 454.3,1493.8" fill="none" stroke="#000" stroke-width="4.6" stroke-linejoin="miter" stroke-linecap="butt" />
<rect x="-13.2" y="-4.3" width="26.4" height="8.6" rx="2" transform="translate(446.9,1503.8) rotate(-58)" fill="none" stroke="#000" stroke-width="5.1"/>
<rect x="-13.2" y="-4.3" width="26.4" height="8.6" rx="2" transform="translate(455.7,1519.2) rotate(-58)" fill="none" stroke="#000" stroke-width="5.1"/>
<rect x="-13.2" y="-4.3" width="26.4" height="8.6" rx="2" transform="translate(464.6,1534.7) rotate(-58)" fill="none" stroke="#000" stroke-width="5.1"/>
<polyline points="465.9,1536.9 484.3,1569.2 495.6,1564.8" fill="none" stroke="#000" stroke-width="4.6" stroke-linejoin="miter" stroke-linecap="butt" />
<polyline points="510.6,1582.6 494.5,1589.5 507.1,1609.1" fill="none" stroke="#000" stroke-width="4.6" stroke-linejoin="miter" stroke-linecap="butt" />
<polyline points="501.4,1558.5 527.8,1543" fill="none" stroke="#000" stroke-width="4.6" stroke-linejoin="miter" stroke-linecap="butt" />
<polyline points="496.2,1556.7 514.6,1587.8" fill="none" stroke="#000" stroke-width="8" stroke-linejoin="miter" stroke-linecap="butt" />
<polyline points="492,1559.6 500,1555" fill="none" stroke="#000" stroke-width="4" stroke-linejoin="miter" stroke-linecap="butt" />
<polyline points="510.5,1590.4 518.7,1585.7" fill="none" stroke="#000" stroke-width="4" stroke-linejoin="miter" stroke-linecap="butt" />
<polygon points="487.6,1574.6 500.2,1572.3 495,1586.1" fill="#000"/>
<polyline points="562.5,1473.4 575.3,1493.7 585.6,1489.6 587.3,1493.8" fill="none" stroke="#000" stroke-width="4.6" stroke-linejoin="miter" stroke-linecap="butt" />
<rect x="-13.2" y="-4.3" width="26.4" height="8.6" rx="2" transform="translate(579.9,1503.8) rotate(-58)" fill="none" stroke="#000" stroke-width="5.1"/>
<rect x="-13.2" y="-4.3" width="26.4" height="8.6" rx="2" transform="translate(588.7,1519.2) rotate(-58)" fill="none" stroke="#000" stroke-width="5.1"/>
<rect x="-13.2" y="-4.3" width="26.4" height="8.6" rx="2" transform="translate(597.6,1534.7) rotate(-58)" fill="none" stroke="#000" stroke-width="5.1"/>
<polyline points="598.9,1536.9 617.3,1569.2 628.6,1564.8" fill="none" stroke="#000" stroke-width="4.6" stroke-linejoin="miter" stroke-linecap="butt" />
<polyline points="643.6,1582.6 627.5,1589.5 640.1,1609.1" fill="none" stroke="#000" stroke-width="4.6" stroke-linejoin="miter" stroke-linecap="butt" />
<polyline points="634.4,1558.5 660.8,1543" fill="none" stroke="#000" stroke-width="4.6" stroke-linejoin="miter" stroke-linecap="butt" />
<polyline points="629.2,1556.7 647.6,1587.8" fill="none" stroke="#000" stroke-width="8" stroke-linejoin="miter" stroke-linecap="butt" />
<polyline points="625,1559.6 633,1555" fill="none" stroke="#000" stroke-width="4" stroke-linejoin="miter" stroke-linecap="butt" />
<polyline points="643.5,1590.4 651.7,1585.7" fill="none" stroke="#000" stroke-width="4" stroke-linejoin="miter" stroke-linecap="butt" />
<polygon points="620.6,1574.6 633.2,1572.3 628,1586.1" fill="#000"/>
<polyline points="694.5,1473.4 707.3,1493.7 717.6,1489.6 719.3,1493.8" fill="none" stroke="#000" stroke-width="4.6" stroke-linejoin="miter" stroke-linecap="butt" />
<rect x="-13.2" y="-4.3" width="26.4" height="8.6" rx="2" transform="translate(711.9,1503.8) rotate(-58)" fill="none" stroke="#000" stroke-width="5.1"/>
<rect x="-13.2" y="-4.3" width="26.4" height="8.6" rx="2" transform="translate(720.7,1519.2) rotate(-58)" fill="none" stroke="#000" stroke-width="5.1"/>
<rect x="-13.2" y="-4.3" width="26.4" height="8.6" rx="2" transform="translate(729.6,1534.7) rotate(-58)" fill="none" stroke="#000" stroke-width="5.1"/>
<polyline points="730.9,1536.9 749.3,1569.2 760.6,1564.8" fill="none" stroke="#000" stroke-width="4.6" stroke-linejoin="miter" stroke-linecap="butt" />
<polyline points="775.6,1582.6 759.5,1589.5 772.1,1609.1" fill="none" stroke="#000" stroke-width="4.6" stroke-linejoin="miter" stroke-linecap="butt" />
<polyline points="766.4,1558.5 792.8,1543" fill="none" stroke="#000" stroke-width="4.6" stroke-linejoin="miter" stroke-linecap="butt" />
<polyline points="761.2,1556.7 779.6,1587.8" fill="none" stroke="#000" stroke-width="8" stroke-linejoin="miter" stroke-linecap="butt" />
<polyline points="757,1559.6 765,1555" fill="none" stroke="#000" stroke-width="4" stroke-linejoin="miter" stroke-linecap="butt" />
<polyline points="775.5,1590.4 783.7,1585.7" fill="none" stroke="#000" stroke-width="4" stroke-linejoin="miter" stroke-linecap="butt" />
<polygon points="752.6,1574.6 765.2,1572.3 760,1586.1" fill="#000"/>
<polyline points="176.4,1368 176.4,1321.5 506,1321.5" fill="none" stroke="#ff0000" stroke-width="4.6" stroke-linejoin="miter"/>
<line x1="429.5" y1="1011.7" x2="429.5" y2="1185.9" stroke="#ff0000" stroke-width="4.6"/>
<line x1="527.7" y1="1253.5" x2="527.7" y2="1631" stroke="#ff0000" stroke-width="4.6"/>
<line x1="527.7" y1="1631" x2="527.7" y2="1718" stroke="#ff0000" stroke-width="5"/>
<circle cx="527.7" cy="1653.6" r="21.5" fill="#fff" stroke="#ff0000" stroke-width="4.8"/>
<line x1="527.7" y1="1636" x2="527.7" y2="1646" stroke="#ff0000" stroke-width="3.5"/>
<line x1="522" y1="1641" x2="533.5" y2="1641" stroke="#ff0000" stroke-width="3.5"/>
<line x1="521.5" y1="1666" x2="534" y2="1666" stroke="#ff0000" stroke-width="3.8"/>
<polygon points="516.5,1720.5 539,1720.5 527.7,1731" fill="#fff" stroke="#ff0000" stroke-width="5.5" stroke-linejoin="round"/>
<rect x="386.8" y="967" width="88.5" height="43.6" fill="none" stroke="#000" stroke-width="4"/>
<line x1="397.9" y1="825" x2="397.9" y2="965" stroke="#ff0000" stroke-width="5"/>
<polygon points="397.9,812.5 412.9,825.5 382.9,825.5" fill="#fff" stroke="#ff0000" stroke-width="5" stroke-linejoin="round"/>
<circle cx="397.9" cy="897.7" r="26.3" fill="#fff" stroke="#ff0000" stroke-width="4.8"/>
<line x1="463.7" y1="825" x2="463.7" y2="965" stroke="#ff0000" stroke-width="5"/>
<polygon points="463.7,812.5 478.7,825.5 448.7,825.5" fill="#fff" stroke="#ff0000" stroke-width="5" stroke-linejoin="round"/>
<circle cx="463.7" cy="897.7" r="26.3" fill="#fff" stroke="#ff0000" stroke-width="4.8"/>
<line x1="457" y1="880" x2="471" y2="880" stroke="#ff0000" stroke-width="3.8"/>
<line x1="457" y1="912.5" x2="471" y2="912.5" stroke="#ff0000" stroke-width="3.5"/>
<line x1="463.7" y1="906" x2="463.7" y2="919" stroke="#ff0000" stroke-width="3.5"/>
<line x1="397.9" y1="965" x2="430.6" y2="1011.7" stroke="#ff0000" stroke-width="5"/>
<circle cx="397.9" cy="965" r="5" fill="#fff" stroke="#ff0000" stroke-width="3.5"/>
<circle cx="463.7" cy="965" r="5" fill="#fff" stroke="#ff0000" stroke-width="3.5"/>
<circle cx="430.6" cy="1011.7" r="5" fill="#fff" stroke="#ff0000" stroke-width="3.5"/>
<text x="403" y="918.5" font-size="66" text-anchor="middle" font-family="'Liberation Sans', Arial, sans-serif">A</text>
<text x="521.5" y="920" font-size="66" text-anchor="middle" font-family="'Liberation Sans', Arial, sans-serif">V</text>
<text x="618.5" y="1013.5" font-size="67" text-anchor="middle" font-family="'Liberation Sans', Arial, sans-serif">TE</text>
<rect x="129.9" y="1367.7" width="93.7" height="45.9" fill="none" stroke="#000" stroke-width="4"/>
<line x1="176.4" y1="1367.9" x2="142.2" y2="1415" stroke="#ff0000" stroke-width="5"/>
<line x1="142.2" y1="1415" x2="142.2" y2="1561" stroke="#ff0000" stroke-width="5.2"/>
<circle cx="142.2" cy="1485" r="26.8" fill="#fff" stroke="#ff0000" stroke-width="5"/>
<polygon points="126.69999999999999,1562.5 157.7,1562.5 142.2,1576.5" fill="#fff" stroke="#ff0000" stroke-width="5.5" stroke-linejoin="round"/>
<line x1="211.4" y1="1415" x2="211.4" y2="1561" stroke="#ff0000" stroke-width="5.2"/>
<circle cx="211.4" cy="1485" r="26.8" fill="#fff" stroke="#ff0000" stroke-width="5"/>
<polygon points="195.9,1562.5 226.9,1562.5 211.4,1576.5" fill="#fff" stroke="#ff0000" stroke-width="5.5" stroke-linejoin="round"/>
<circle cx="176.4" cy="1367.9" r="5" fill="#fff" stroke="#ff0000" stroke-width="3.5"/>
<circle cx="142.2" cy="1415" r="5" fill="#fff" stroke="#ff0000" stroke-width="3.5"/>
<circle cx="211.4" cy="1415" r="5" fill="#fff" stroke="#ff0000" stroke-width="3.5"/>
<line x1="142.2" y1="1463" x2="142.2" y2="1477" stroke="#ff0000" stroke-width="3.5"/>
<line x1="135" y1="1469.5" x2="149.5" y2="1469.5" stroke="#ff0000" stroke-width="3.5"/>
<line x1="135" y1="1504" x2="149.5" y2="1504" stroke="#ff0000" stroke-width="3.8"/>
<text x="102.5" y="1474.5" font-size="66" text-anchor="middle" font-family="'Liberation Sans', Arial, sans-serif">V</text>
<text x="216.7" y="1508" font-size="66" text-anchor="middle" font-family="'Liberation Sans', Arial, sans-serif">A</text>
<text transform="translate(219,1224.5) rotate(-90)" font-size="67" text-anchor="middle" font-family="'Liberation Sans', Arial, sans-serif">BE</text>
<text x="472" y="1668" font-size="66" text-anchor="middle" font-family="'Liberation Sans', Arial, sans-serif">V</text>
<text x="633.5" y="1686" font-size="66" text-anchor="middle" font-family="'Liberation Sans', Arial, sans-serif">GE</text>
<text x="3.7" y="1703.6" font-size="66" font-family="'Liberation Sans', Arial, sans-serif">(b)</text>
<path d="M374.6,952 C368,985 372,1010 385,1027 S400,1042 405,1045" fill="none" stroke="#14acec" stroke-width="2.4"/>
<polygon points="374.6,938 384.6,956 364.6,956" fill="#14acec"/>
<polygon points="416,1055 393.2,1047.3 406.8,1032.7" fill="#14acec"/>
<path d="M410.8,1160 C418,1200 440,1240 468,1266 C490,1290 492,1309 448,1309.4 L416,1309.4" fill="none" stroke="#14acec" stroke-width="2.4"/>
<polygon points="408.9,1146 424.4,1160.6 396.6,1163.4" fill="#14acec"/>
<polygon points="403,1309.4 418,1296.4 418,1322.4" fill="#14acec"/>
<path d="M161,1330 C166,1308 180,1299 210,1299" fill="none" stroke="#14acec" stroke-width="2.4"/>
<polygon points="158.9,1346 146.4,1329.7 174.2,1332.3" fill="#14acec"/>
<polygon points="222.5,1300.5 207.3,1314.5 207.3,1286.5" fill="#14acec"/>
<g stroke="#000" stroke-width="2.2" fill="none">
<line x1="1076.5" y1="40" x2="1076.5" y2="628"/>
<line x1="1069.5" y1="627" x2="1805" y2="627"/>
<line x1="1064" y1="597.5" x2="1076.5" y2="597.5"/>
<line x1="1064" y1="538.9" x2="1076.5" y2="538.9"/>
<line x1="1064" y1="480.2" x2="1076.5" y2="480.2"/>
<line x1="1064" y1="421.6" x2="1076.5" y2="421.6"/>
<line x1="1064" y1="362.9" x2="1076.5" y2="362.9"/>
<line x1="1064" y1="304.3" x2="1076.5" y2="304.3"/>
<line x1="1064" y1="245.7" x2="1076.5" y2="245.7"/>
<line x1="1064" y1="187" x2="1076.5" y2="187"/>
<line x1="1064" y1="128.4" x2="1076.5" y2="128.4"/>
<line x1="1064" y1="69.7" x2="1076.5" y2="69.7"/>
<line x1="1070" y1="568.2" x2="1076.5" y2="568.2"/>
<line x1="1070" y1="509.5" x2="1076.5" y2="509.5"/>
<line x1="1070" y1="450.9" x2="1076.5" y2="450.9"/>
<line x1="1070" y1="392.3" x2="1076.5" y2="392.3"/>
<line x1="1070" y1="333.6" x2="1076.5" y2="333.6"/>
<line x1="1070" y1="275" x2="1076.5" y2="275"/>
<line x1="1070" y1="216.3" x2="1076.5" y2="216.3"/>
<line x1="1070" y1="157.7" x2="1076.5" y2="157.7"/>
<line x1="1070" y1="99.1" x2="1076.5" y2="99.1"/>
<line x1="1070" y1="40.4" x2="1076.5" y2="40.4"/>
<line x1="1076.1" y1="627" x2="1076.1" y2="639"/>
<line x1="1197.4" y1="627" x2="1197.4" y2="639"/>
<line x1="1318.7" y1="627" x2="1318.7" y2="639"/>
<line x1="1440" y1="627" x2="1440" y2="639"/>
<line x1="1561.3" y1="627" x2="1561.3" y2="639"/>
<line x1="1682.6" y1="627" x2="1682.6" y2="639"/>
<line x1="1803.9" y1="627" x2="1803.9" y2="639"/>
<line x1="1136.8" y1="627" x2="1136.8" y2="633"/>
<line x1="1258" y1="627" x2="1258" y2="633"/>
<line x1="1379.3" y1="627" x2="1379.3" y2="633"/>
<line x1="1500.7" y1="627" x2="1500.7" y2="633"/>
<line x1="1622" y1="627" x2="1622" y2="633"/>
<line x1="1743.2" y1="627" x2="1743.2" y2="633"/>
</g>
<text transform="translate(1055,610.7) scale(0.97,1.04)" font-size="45" text-anchor="end" font-family="'Liberation Sans', Arial, sans-serif" >-1000</text>
<text transform="translate(1055,552.1) scale(0.97,1.04)" font-size="45" text-anchor="end" font-family="'Liberation Sans', Arial, sans-serif" >-800</text>
<text transform="translate(1055,493.4) scale(0.97,1.04)" font-size="45" text-anchor="end" font-family="'Liberation Sans', Arial, sans-serif" >-600</text>
<text transform="translate(1055,434.8) scale(0.97,1.04)" font-size="45" text-anchor="end" font-family="'Liberation Sans', Arial, sans-serif" >-400</text>
<text transform="translate(1055,376.1) scale(0.97,1.04)" font-size="45" text-anchor="end" font-family="'Liberation Sans', Arial, sans-serif" >-200</text>
<text transform="translate(1055,317.5) scale(0.97,1.04)" font-size="45" text-anchor="end" font-family="'Liberation Sans', Arial, sans-serif" >0</text>
<text transform="translate(1055,258.9) scale(0.97,1.04)" font-size="45" text-anchor="end" font-family="'Liberation Sans', Arial, sans-serif" >200</text>
<text transform="translate(1055,200.2) scale(0.97,1.04)" font-size="45" text-anchor="end" font-family="'Liberation Sans', Arial, sans-serif" >400</text>
<text transform="translate(1055,141.6) scale(0.97,1.04)" font-size="45" text-anchor="end" font-family="'Liberation Sans', Arial, sans-serif" >600</text>
<text transform="translate(1055,82.9) scale(0.97,1.04)" font-size="45" text-anchor="end" font-family="'Liberation Sans', Arial, sans-serif" >800</text>
<text transform="translate(1075.1,682.8) scale(0.97,1.06)" font-size="45" text-anchor="middle" font-family="'Liberation Sans', Arial, sans-serif" >-3</text>
<text transform="translate(1196.4,682.8) scale(0.97,1.06)" font-size="45" text-anchor="middle" font-family="'Liberation Sans', Arial, sans-serif" >-2</text>
<text transform="translate(1317.7,682.8) scale(0.97,1.06)" font-size="45" text-anchor="middle" font-family="'Liberation Sans', Arial, sans-serif" >-1</text>
<text transform="translate(1439,682.8) scale(0.97,1.06)" font-size="45" text-anchor="middle" font-family="'Liberation Sans', Arial, sans-serif" >0</text>
<text transform="translate(1560.3,682.8) scale(0.97,1.06)" font-size="45" text-anchor="middle" font-family="'Liberation Sans', Arial, sans-serif" >1</text>
<text transform="translate(1681.6,682.8) scale(0.97,1.06)" font-size="45" text-anchor="middle" font-family="'Liberation Sans', Arial, sans-serif" >2</text>
<text transform="translate(1802.9,682.8) scale(0.97,1.06)" font-size="45" text-anchor="middle" font-family="'Liberation Sans', Arial, sans-serif" >3</text>
<text x="1440" y="757" font-size="46" text-anchor="middle" font-family="'Liberation Sans', Arial, sans-serif">Applied Voltage (V)</text>
<text transform="translate(943,367.5) rotate(-90)" font-size="46" text-anchor="middle" font-family="'Liberation Sans', Arial, sans-serif">Current (µA)</text>
<text x="908" y="789.5" font-size="66" font-family="'Liberation Sans', Arial, sans-serif">(c)</text>
<g fill="none" stroke-width="6.1" stroke-linejoin="round" stroke-linecap="butt">
<path d="M1076.1,382.1 L1079.7,381.4 L1083.4,380 L1087,380.6 L1090.7,380.1 L1094.3,379.4 L1097.9,379.9 L1101.6,378.6 L1105.2,377.9 L1108.9,377 L1112.5,378.2 L1116.1,377.2 L1119.8,377.2 L1123.4,375.1 L1127,374.9 L1130.7,375.9 L1134.3,373.2 L1138,372.8 L1141.6,373.1 L1145.2,372.7 L1148.9,373.3 L1152.5,373.1 L1156.2,371.4 L1159.8,371.4 L1163.4,370 L1167.1,368.8 L1170.7,368.2 L1174.4,366.1 L1178,365.1 L1181.6,363 L1185.3,362.7 L1188.9,361.3 L1192.5,360.5 L1196.2,359 L1199.8,358.4 L1203.5,357.8 L1207.1,355 L1210.7,353.9 L1214.4,353.2 L1218,352.4 L1221.7,352.2 L1225.3,351.3 L1228.9,350.1 L1232.6,349.5 L1236.2,346.8 L1239.9,346.5 L1243.5,344.4 L1247.1,344.5 L1250.8,342.1 L1254.4,341.3 L1258,342.2 L1261.7,340 L1265.3,339 L1269,337.9 L1272.6,336.9 L1276.2,335.8 L1279.9,334.8 L1283.5,333.7 L1287.2,332.6 L1290.8,331.5 L1294.4,330.4 L1298.1,329.3 L1301.7,328.2 L1305.4,327.1 L1309,325.9 L1312.6,324.8 L1316.3,323.7 L1319.9,322.6 L1323.6,321.5 L1327.2,320.4 L1330.8,319.6 L1334.5,318.9 L1338.1,318.1 L1341.7,317.4 L1345.4,316.7 L1349,315.9 L1352.7,315.2 L1356.3,314.4 L1359.9,313.7 L1363.6,312.9 L1367.2,312.2 L1370.9,311.5 L1374.5,311.1 L1378.1,310.7 L1381.8,310.2 L1385.4,309.8 L1389.1,309.3 L1392.7,308.9 L1396.3,308.5 L1400,308 L1403.6,307.6 L1407.2,307.1 L1410.9,306.7 L1414.5,306.3 L1418.2,306 L1421.8,305.7 L1425.4,305.4 L1429.1,305.2 L1432.7,304.9 L1436.4,304.6 L1440,304.3 M1440,304.3 L1444.9,303 L1449.7,301.8 L1454.6,300.5 L1459.4,299.3 L1464.3,298.2 L1469.1,297 L1474,296 L1478.8,295 L1483.7,294 L1488.5,293.2 L1493.4,292.4 L1498.2,291.6 L1503.1,290.9 L1507.9,290.3 L1512.8,289.7 L1517.6,289.2 L1522.5,288.8 L1527.3,288.4 L1532.2,288 L1537,287.7 L1541.9,287.4 L1546.7,287.1 L1551.6,286.9 L1556.4,286.7 L1561.3,286.5 L1566.2,286.4 L1571,286.2 L1575.9,286.1 L1580.7,286 L1585.6,285.9 L1590.4,285.8 L1595.3,285.7 L1600.1,285.7 L1605,285.6 L1609.8,285.5 L1614.7,285.5 L1619.5,285.5 L1624.4,285.4 L1629.2,285.4 L1634.1,285.4 L1638.9,285.4 L1643.8,285.3 L1648.6,285.3 L1653.5,285.3 L1658.3,285.3 L1663.2,285.3 L1668,285.3 L1672.9,285.3 L1677.7,285.2 L1682.6,285.2 M1440,304.3 L1391.5,322.2 L1389,325.1 L1386.5,321.1 L1384,325 L1381.5,322.3 L1379,327.3 L1376.5,330.5 L1374,327.4 L1371.5,327.3 L1369,331.7 L1366.5,333.9 L1364,333 L1361.5,329.5 L1359,331.8 L1356.5,337.2 L1354,337.2 L1351.5,339.1 L1349,337.1 L1346.5,341 L1344,336.6 L1341.5,341.7 L1339,339.8 L1336.5,341.3 L1334,343.9 L1331.5,340.8 L1329,345.8 L1326.5,343 L1324.1,347.4 L1321.6,346 L1319.1,348.3 L1316.6,348.6 L1314.1,344.4 L1311.6,346.4 L1309.1,350.7 L1306.6,350 L1304,347.8 L1301.4,353.1 L1298.9,352.3 L1296.3,349.5 L1293.7,351.5 L1291.2,355.9 L1288.6,350.1 L1286,356.1 L1283.5,356.2 L1280.9,353.1 L1278.3,356.7 L1275.7,357.5 L1273.2,359.5 L1270.6,359.9 L1268,357 L1265.5,359.9 L1262.9,358.5 L1260.5,359.3 L1258,362.4 L1255.6,363.3 L1253.2,361.2 L1250.8,366 L1248.3,366.8 L1245.9,368.8 L1243.3,368.4 L1240.7,375.4 L1238,377.8 L1235.4,374.7 L1232.8,377.6 L1230.2,382 L1227.7,385.1 L1225.3,386.8 L1222.9,384.3 L1220.4,384.2 L1218,390.8 L1215.6,386.8 L1213.2,388.6 L1210.7,391.9 L1208.3,394.5 L1205.9,398.1 L1203.5,399.9 L1201,394.7 L1198.6,399.3 L1196.1,401.5 L1193.7,398.7 L1191.2,402.2 L1188.7,398.6 L1186.2,400.6 L1183.8,403.2 L1181.3,404.4 L1178.8,401 L1176.4,406 L1173.9,405.3 L1171.4,403.3 L1168.9,401.7 L1166.5,403.8 L1164,406.5 L1161.5,402.4 L1159.1,407.9 L1156.6,409.6 L1154.1,408.2 L1151.6,407.4 L1149.2,410.5 L1146.7,410.1 L1144.2,409.2 L1141.7,408.1 L1139.3,411.6 L1136.8,410.4 L1134.3,409.9 L1131.8,407.5 L1129.2,407.3 L1126.7,410 L1124.2,410.2 L1121.6,411.4 L1119.1,414.9 L1116.5,416.1 L1114,416.6 L1111.5,410.7 L1108.9,412.6 L1106.4,411.2 L1103.8,418.2 L1101.3,414.3 L1098.7,415.8 L1096.2,414.5 L1093.7,417.8 L1091.1,413.5 L1088.6,420.4 L1086,417.5 L1083.5,416.6 L1081,418.6 L1078.5,416.1 L1076.1,419.2" stroke="#000000"/>
<path d="M1076.1,378.5 L1079.7,378.1 L1083.4,377.5 L1087,376.7 L1090.7,377.6 L1094.3,376.3 L1097.9,375.4 L1101.6,375 L1105.2,375.6 L1108.9,374.3 L1112.5,373.6 L1116.1,373.8 L1119.8,373.3 L1123.4,373.4 L1127,372.4 L1130.7,371.9 L1134.3,372.7 L1138,370.9 L1141.6,369.7 L1145.2,369.5 L1148.9,369.4 L1152.5,369.7 L1156.2,368.4 L1159.8,367.7 L1163.4,367 L1167.1,365 L1170.7,365.7 L1174.4,363.1 L1178,363.7 L1181.6,361.3 L1185.3,360.6 L1188.9,360.1 L1192.5,357.9 L1196.2,357.3 L1199.8,356 L1203.5,354.2 L1207.1,354.8 L1210.7,354.3 L1214.4,352.5 L1218,350.6 L1221.7,350.7 L1225.3,349.7 L1228.9,346.9 L1232.6,346.5 L1236.2,345.9 L1239.9,343.8 L1243.5,344.1 L1247.1,342.3 L1250.8,342.4 L1254.4,340.8 L1258,338.9 L1261.7,338.7 L1265.3,337.6 L1269,336.6 L1272.6,335.6 L1276.2,334.6 L1279.9,333.6 L1283.5,332.6 L1287.2,331.5 L1290.8,330.5 L1294.4,329.4 L1298.1,328.3 L1301.7,327.3 L1305.4,326.2 L1309,325.1 L1312.6,324.1 L1316.3,323 L1319.9,321.9 L1323.6,320.8 L1327.2,319.8 L1330.8,319.1 L1334.5,318.3 L1338.1,317.6 L1341.7,316.9 L1345.4,316.2 L1349,315.5 L1352.7,314.8 L1356.3,314 L1359.9,313.3 L1363.6,312.6 L1367.2,311.9 L1370.9,311.3 L1374.5,310.8 L1378.1,310.4 L1381.8,310 L1385.4,309.6 L1389.1,309.1 L1392.7,308.7 L1396.3,308.3 L1400,307.9 L1403.6,307.4 L1407.2,307 L1410.9,306.6 L1414.5,306.2 L1418.2,306 L1421.8,305.7 L1425.4,305.4 L1429.1,305.1 L1432.7,304.9 L1436.4,304.6 L1440,304.3 M1440,304.3 L1444.9,302.5 L1449.7,300.7 L1454.6,299 L1459.4,297.3 L1464.3,295.6 L1469.1,294 L1474,292.4 L1478.8,290.9 L1483.7,289.5 L1488.5,288.1 L1493.4,286.9 L1498.2,285.7 L1503.1,284.6 L1507.9,283.5 L1512.8,282.6 L1517.6,281.7 L1522.5,280.9 L1527.3,280.1 L1532.2,279.4 L1537,278.8 L1541.9,278.2 L1546.7,277.7 L1551.6,277.2 L1556.4,276.8 L1561.3,276.4 L1566.2,276.1 L1571,275.7 L1575.9,275.5 L1580.7,275.2 L1585.6,275 L1590.4,274.8 L1595.3,274.6 L1600.1,274.4 L1605,274.3 L1609.8,274.1 L1614.7,274 L1619.5,273.9 L1624.4,273.8 L1629.2,273.7 L1634.1,273.7 L1638.9,273.6 L1643.8,273.5 L1648.6,273.5 L1653.5,273.4 L1658.3,273.4 L1663.2,273.3 L1668,273.3 L1672.9,273.3 L1677.7,273.2 L1682.6,273.2 M1440,304.3 L1391.5,324.8 L1388.8,323.9 L1386.1,325 L1383.4,328.3 L1380.7,328.3 L1378,330.6 L1375.3,332.4 L1372.6,331.7 L1369.9,331.1 L1367.2,333.6 L1364.6,332.5 L1362,333.6 L1359.4,333 L1356.8,336.7 L1354.2,337.7 L1351.6,336.9 L1349,337.1 L1346,336.4 L1343,333.6 L1339.9,336.3 L1336.9,336.7 L1333.9,337 L1330.8,338.9 L1327.8,338 L1324.8,337.9 L1321.7,334.4 L1318.7,335.1 L1316.3,333.2 L1313.8,336.1 L1311.4,338.3 L1309,338.9 L1306.6,337.1 L1303.5,336.6 L1300.5,341.6 L1297.5,339.7 L1294.4,341.8 L1292,343.4 L1289.6,346.5 L1287.2,346.1 L1284.7,351.6 L1282.3,351.2 L1279.6,354.4 L1276.9,354.4 L1274.2,357.8 L1271.5,355.5 L1268.8,359.8 L1266.1,361.7 L1263.4,363.6 L1260.7,362.3 L1258,364.4 L1255.6,365.3 L1253.2,365.2 L1250.8,365.7 L1248.3,365.7 L1245.9,365.7 L1243.5,367.6 L1241.1,370.6 L1238.6,370 L1236.2,372.1 L1233.8,373.5 L1231.4,372.1 L1228.9,371.6 L1226.5,374.8 L1224.1,375.1 L1221.7,374.7 L1219.2,375.7 L1216.8,374.4 L1214.4,375.5 L1212,375.4 L1209.5,375.1 L1207.1,377.1 L1204.7,375.6 L1202.3,375.3 L1199.8,379.5 L1197.4,375.9 L1195,377.2 L1192.5,380.3 L1190.1,379.1 L1187.7,378.6 L1185.3,377.6 L1182.8,380.4 L1180.4,379.8 L1178,378.7 L1175.6,379.4 L1173.1,381.1 L1170.6,379.2 L1168,381.5 L1165.5,380.8 L1162.9,383 L1160.4,380.7 L1157.8,380.4 L1155.3,381.3 L1152.7,381.1 L1150.2,383.6 L1147.6,380.5 L1145,380.2 L1142.5,380.4 L1139.9,382.5 L1137.4,381.5 L1134.8,383.8 L1132.3,381.2 L1129.7,381.5 L1127.2,384.1 L1124.6,383.5 L1122.1,385.4 L1119.5,383.7 L1117,383.1 L1114.4,382.1 L1111.9,383.4 L1109.3,385.5 L1106.7,381.8 L1104.2,385.3 L1101.6,381.8 L1099.1,384.7 L1096.5,383.9 L1094,381.7 L1091.4,384.7 L1088.9,384.7 L1086.3,382.9 L1083.8,381.9 L1081.2,381.3 L1078.7,382 L1076.1,382.9" stroke="#ff0000"/>
<path d="M1076.1,376.6 L1079.7,377.2 L1083.4,375.6 L1087,377.2 L1090.7,376.5 L1094.3,375.3 L1097.9,375.4 L1101.6,373.9 L1105.2,373.7 L1108.9,373.5 L1112.5,372.3 L1116.1,372.5 L1119.8,372.6 L1123.4,372 L1127,370.5 L1130.7,369.9 L1134.3,371.1 L1138,369.1 L1141.6,368.4 L1145.2,369 L1148.9,368.4 L1152.5,368.9 L1156.2,367.6 L1159.8,366.7 L1163.4,365.4 L1167.1,365.7 L1170.7,362.5 L1174.4,362.5 L1178,361.7 L1181.6,359.7 L1185.3,359.3 L1188.9,358.4 L1192.5,356.9 L1196.2,357.3 L1199.8,355.2 L1203.5,354.4 L1207.1,352.1 L1210.7,351.2 L1214.4,351.7 L1218,350.2 L1221.7,350 L1225.3,348.2 L1228.9,346.3 L1232.6,345.1 L1236.2,345 L1239.9,344.4 L1243.5,343.7 L1247.1,341.7 L1250.8,340 L1254.4,340.8 L1258,338.3 L1261.7,338 L1265.3,337 L1269,336 L1272.6,335 L1276.2,334 L1279.9,333 L1283.5,332 L1287.2,331 L1290.8,330 L1294.4,328.9 L1298.1,327.9 L1301.7,326.8 L1305.4,325.8 L1309,324.7 L1312.6,323.7 L1316.3,322.6 L1319.9,321.6 L1323.6,320.5 L1327.2,319.5 L1330.8,318.8 L1334.5,318.1 L1338.1,317.4 L1341.7,316.7 L1345.4,316 L1349,315.3 L1352.7,314.5 L1356.3,313.8 L1359.9,313.1 L1363.6,312.4 L1367.2,311.7 L1370.9,311.1 L1374.5,310.7 L1378.1,310.3 L1381.8,309.9 L1385.4,309.5 L1389.1,309 L1392.7,308.6 L1396.3,308.2 L1400,307.8 L1403.6,307.4 L1407.2,307 L1410.9,306.6 L1414.5,306.2 L1418.2,305.9 L1421.8,305.6 L1425.4,305.4 L1429.1,305.1 L1432.7,304.8 L1436.4,304.6 L1440,304.3 M1440,304.3 L1444.9,301.4 L1449.7,298.5 L1454.6,295.7 L1459.4,292.9 L1464.3,290.1 L1469.1,287.4 L1474,284.9 L1478.8,282.4 L1483.7,280 L1488.5,277.7 L1493.4,275.6 L1498.2,273.5 L1503.1,271.6 L1507.9,269.8 L1512.8,268.1 L1517.6,266.6 L1522.5,265.1 L1527.3,263.8 L1532.2,262.5 L1537,261.4 L1541.9,260.3 L1546.7,259.3 L1551.6,258.5 L1556.4,257.6 L1561.3,256.9 L1566.2,256.2 L1571,255.6 L1575.9,255.1 L1580.7,254.6 L1585.6,254.1 L1590.4,253.7 L1595.3,253.3 L1600.1,253 L1605,252.7 L1609.8,252.4 L1614.7,252.1 L1619.5,251.9 L1624.4,251.7 L1629.2,251.5 L1634.1,251.3 L1638.9,251.2 L1643.8,251 L1648.6,250.9 L1653.5,250.8 L1658.3,250.7 L1663.2,250.6 L1668,250.5 L1672.9,250.5 L1677.7,250.4 L1682.6,250.4 M1440,304.3 L1446.1,304.3 L1452.1,304.2 L1458.2,304.1 L1464.3,304 L1470.3,303.7 L1476.4,303.5 L1482.5,303.1 L1488.5,302.7 L1494.6,302.3 L1500.7,301.8 L1506.7,301.2 L1512.8,300.5 L1518.8,299.8 L1524.9,299 L1531,298.1 L1537,297.2 L1543.1,296.1 L1549.2,295.1 L1555.2,293.9 L1556,293.7 L1556.6,259.7 L1557.7,257.5 L1573.4,255.3 L1579.5,254.7 L1585.6,254.1 L1591.6,253.6 L1597.7,253.1 L1603.8,252.7 L1609.8,252.4 L1615.9,252.1 L1622,251.8 L1628,251.5 L1634.1,251.3 L1640.1,251.1 L1646.2,251 L1652.3,250.8 L1658.3,250.7 L1664.4,250.6 L1670.5,250.5 L1676.5,250.4 L1682.6,250.4 M1440,304.3 L1421.8,320.7 L1403.6,338.5 L1385.4,357.6 L1367.2,378.2 L1364.2,379.6 L1361.2,377 L1358.6,377.6 L1356,376.8 L1353.4,374.2 L1350.8,375.1 L1348.2,374.3 L1345.6,372.5 L1343,372.3 L1339.9,374.3 L1336.9,372.1 L1333.9,375 L1330.8,373.8 L1327.8,374.5 L1324.8,376.3 L1321.7,377.2 L1318.7,376.7 L1316.3,377.2 L1313.8,378.3 L1311.4,379.2 L1309,379.7 L1306.6,379.9 L1304.1,362.9 L1300.5,348.3 L1297.5,346.7 L1294.4,345.3 L1292,348.5 L1289.6,350.1 L1287.2,350.1 L1284.7,351.8 L1282.3,354.1 L1279.9,355.2 L1277.5,355 L1275,357.2 L1272.6,357.4 L1270.2,361.1 L1267.8,360.2 L1265.3,361.1 L1262.9,361.9 L1260.5,365.5 L1258,366.6 L1255.6,365.3 L1253.2,369.4 L1250.8,367.3 L1248.3,369 L1245.9,371.7 L1243.4,373.5 L1240.8,373.4 L1238.3,371.7 L1235.7,374 L1233.2,374.9 L1230.6,372.2 L1228,374.2 L1225.5,373 L1222.9,376 L1220.4,375.2 L1217.8,374.4 L1215.3,377.4 L1212.7,377 L1210.2,375.3 L1207.6,374.7 L1205.1,374.8 L1202.5,378.6 L1200,377.3 L1197.4,377.6 L1195,376.6 L1192.5,377.7 L1190.1,377 L1187.7,379.1 L1185.3,379.7 L1182.8,379.6 L1180.4,379.9 L1178,377.9 L1175.6,378.1 L1173.1,377.9 L1170.7,379.7 L1168.3,379.6 L1165.9,379.6 L1163.4,377 L1161,376.5 L1158.6,376.8 L1156.2,380.3 L1153.7,380.5 L1151.3,376.9 L1148.9,378.9 L1146.5,377.7 L1144,379.6 L1141.6,379.1 L1139.2,378.9 L1136.8,379.1 L1134.3,379.3 L1131.9,378.6 L1129.5,381 L1127,378.1 L1124.6,377.5 L1122.2,380.2 L1119.8,379 L1117.3,377.8 L1114.9,379.1 L1112.5,380 L1110.1,380.1 L1107.6,378.6 L1105.2,380.6 L1102.8,377 L1100.4,377.3 L1097.9,377.7 L1095.5,377 L1093.1,377.9 L1090.7,378.8 L1088.2,378 L1085.8,378.3 L1083.4,376.3 L1081,377 L1078.5,379.2 L1076.1,378.2" stroke="#00ff00"/>
<path d="M1076.1,375.2 L1079.7,375.1 L1083.4,374.6 L1087,374.1 L1090.7,374.6 L1094.3,373 L1097.9,372.6 L1101.6,372.6 L1105.2,372 L1108.9,371.5 L1112.5,371.9 L1116.1,370.8 L1119.8,371.9 L1123.4,370.8 L1127,370 L1130.7,370.7 L1134.3,369.4 L1138,368.3 L1141.6,367.9 L1145.2,368.4 L1148.9,366.3 L1152.5,366.5 L1156.2,366.8 L1159.8,365 L1163.4,364.2 L1167.1,363.3 L1170.7,362.6 L1174.4,360.2 L1178,360 L1181.6,358.9 L1185.3,357.7 L1188.9,356.2 L1192.5,357.4 L1196.2,355 L1199.8,353.7 L1203.5,353.8 L1207.1,352.5 L1210.7,352.3 L1214.4,350.9 L1218,349.5 L1221.7,349.1 L1225.3,347.8 L1228.9,345.2 L1232.6,345 L1236.2,344.1 L1239.9,342 L1243.5,342 L1247.1,340 L1250.8,339.9 L1254.4,338.5 L1258,339.3 L1261.7,337.3 L1265.3,336.3 L1269,335.4 L1272.6,334.4 L1276.2,333.4 L1279.9,332.5 L1283.5,331.5 L1287.2,330.5 L1290.8,329.5 L1294.4,328.4 L1298.1,327.4 L1301.7,326.4 L1305.4,325.3 L1309,324.3 L1312.6,323.3 L1316.3,322.3 L1319.9,321.2 L1323.6,320.2 L1327.2,319.2 L1330.8,318.5 L1334.5,317.8 L1338.1,317.1 L1341.7,316.4 L1345.4,315.7 L1349,315 L1352.7,314.3 L1356.3,313.7 L1359.9,313 L1363.6,312.3 L1367.2,311.6 L1370.9,311 L1374.5,310.6 L1378.1,310.2 L1381.8,309.8 L1385.4,309.4 L1389.1,309 L1392.7,308.5 L1396.3,308.1 L1400,307.7 L1403.6,307.3 L1407.2,306.9 L1410.9,306.5 L1414.5,306.2 L1418.2,305.9 L1421.8,305.6 L1425.4,305.4 L1429.1,305.1 L1432.7,304.8 L1436.4,304.6 L1440,304.3 M1440,304.3 L1444.9,300.1 L1449.7,295.9 L1454.6,291.7 L1459.4,287.6 L1464.3,283.6 L1469.1,279.7 L1474,275.9 L1478.8,272.2 L1483.7,268.7 L1488.5,265.3 L1493.4,262.1 L1498.2,259 L1503.1,256.1 L1507.9,253.3 L1512.8,250.7 L1517.6,248.3 L1522.5,246 L1527.3,243.8 L1532.2,241.9 L1537,240 L1541.9,238.3 L1546.7,236.7 L1551.6,235.3 L1556.4,233.9 L1561.3,232.7 L1566.2,231.6 L1571,230.5 L1575.9,229.6 L1580.7,228.7 L1585.6,227.9 L1590.4,227.2 L1595.3,226.5 L1600.1,225.9 L1605,225.4 L1609.8,224.8 L1614.7,224.4 L1619.5,224 L1624.4,223.6 L1629.2,223.3 L1634.1,222.9 L1638.9,222.7 L1643.8,222.4 L1648.6,222.2 L1653.5,221.9 L1658.3,221.8 L1663.2,221.6 L1668,221.4 L1672.9,221.3 L1677.7,221.1 L1682.6,221 M1440,304.3 L1417.7,326.4 L1395.4,350.3 L1373,376.1 L1350.7,403.7 L1348.1,400.7 L1345.4,398.7 L1342.6,398.5 L1339.7,402.8 L1336.9,401.6 L1333.9,397.1 L1330.8,396.7 L1327.8,398 L1324.8,396.4 L1321.7,397.6 L1318.7,395.8 L1315.7,394 L1312.6,392.3 L1310.2,390.3 L1307.8,389.3 L1304.1,374.7 L1300.9,374.8 L1297.7,368.7 L1294.4,368.8 L1292,369.4 L1289.6,369.1 L1287.2,369 L1284.7,370.3 L1282.3,370.9 L1279.9,369.4 L1277.5,370.1 L1275,371.6 L1272.6,369.8 L1270.2,372 L1267.8,373.5 L1265.3,372.6 L1262.9,373.8 L1260.5,373.5 L1258,370.9 L1255.6,372.8 L1253.2,370.7 L1250.8,371.6 L1248.3,375.1 L1245.9,373.2 L1243.4,371.1 L1240.8,371.4 L1238.3,375.7 L1235.7,371.9 L1233.2,374.3 L1230.6,374.2 L1228,372.1 L1225.5,375.6 L1222.9,374.5 L1220.4,372.7 L1217.8,373.9 L1215.3,375.2 L1212.7,373 L1210.2,373.9 L1207.6,375 L1205.1,377.5 L1202.5,375.2 L1200,376.2 L1197.4,376.1 L1195,377.6 L1192.5,378.4 L1190.1,376.2 L1187.7,378.1 L1185.3,376.7 L1182.8,375.7 L1180.4,376.8 L1178,377.7 L1175.6,376.3 L1173.1,377.1 L1170.7,375.5 L1168.3,376.7 L1165.9,374.6 L1163.4,374.8 L1161,375.9 L1158.6,378.3 L1156.2,378.9 L1153.7,375.3 L1151.3,375.9 L1148.9,376.7 L1146.5,378 L1144,378.5 L1141.6,376.6 L1139.2,377.2 L1136.8,377.6 L1134.3,377.1 L1131.9,376.9 L1129.5,376.3 L1127,379 L1124.6,378.7 L1122.2,375.2 L1119.8,375.5 L1117.3,375.6 L1114.9,379.5 L1112.5,379.4 L1110.1,378.4 L1107.6,377.7 L1105.2,376.7 L1102.8,379.1 L1100.4,377.1 L1097.9,379.2 L1095.5,379.1 L1093.1,376.4 L1090.7,376.9 L1088.2,376.5 L1085.8,377.7 L1083.4,377.2 L1081,378.4 L1078.5,377.8 L1076.1,377" stroke="#0000ff"/>
<path d="M1076.1,375.6 L1079.7,374.9 L1083.4,376.3 L1087,375.7 L1090.7,373.6 L1094.3,373.6 L1097.9,372.9 L1101.6,373.7 L1105.2,372.8 L1108.9,372.7 L1112.5,371 L1116.1,371.6 L1119.8,370.5 L1123.4,369.3 L1127,370.4 L1130.7,369.4 L1134.3,368.5 L1138,367.7 L1141.6,368.4 L1145.2,368.1 L1148.9,368.3 L1152.5,366 L1156.2,367.4 L1159.8,366.4 L1163.4,364.3 L1167.1,363.4 L1170.7,361.9 L1174.4,361.8 L1178,359.7 L1181.6,360.3 L1185.3,359 L1188.9,356.9 L1192.5,357.3 L1196.2,355.7 L1199.8,353.7 L1203.5,352.8 L1207.1,352.7 L1210.7,352.1 L1214.4,350.5 L1218,348.7 L1221.7,348.5 L1225.3,348.1 L1228.9,345.7 L1232.6,345 L1236.2,343.2 L1239.9,342.1 L1243.5,341.2 L1247.1,341.3 L1250.8,339.5 L1254.4,339.7 L1258,338.7 L1261.7,337.3 L1265.3,336.3 L1269,335.4 L1272.6,334.4 L1276.2,333.4 L1279.9,332.5 L1283.5,331.5 L1287.2,330.5 L1290.8,329.5 L1294.4,328.4 L1298.1,327.4 L1301.7,326.4 L1305.4,325.3 L1309,324.3 L1312.6,323.3 L1316.3,322.3 L1319.9,321.2 L1323.6,320.2 L1327.2,319.2 L1330.8,318.5 L1334.5,317.8 L1338.1,317.1 L1341.7,316.4 L1345.4,315.7 L1349,315 L1352.7,314.3 L1356.3,313.7 L1359.9,313 L1363.6,312.3 L1367.2,311.6 L1370.9,311 L1374.5,310.6 L1378.1,310.2 L1381.8,309.8 L1385.4,309.4 L1389.1,309 L1392.7,308.5 L1396.3,308.1 L1400,307.7 L1403.6,307.3 L1407.2,306.9 L1410.9,306.5 L1414.5,306.2 L1418.2,305.9 L1421.8,305.6 L1425.4,305.4 L1429.1,305.1 L1432.7,304.8 L1436.4,304.6 L1440,304.3 M1440,304.3 L1444.9,298.6 L1449.7,292.9 L1454.6,287.3 L1459.4,281.8 L1464.3,276.4 L1469.1,271.1 L1474,266 L1478.8,261.1 L1483.7,256.3 L1488.5,251.8 L1493.4,247.4 L1498.2,243.3 L1503.1,239.5 L1507.9,235.8 L1512.8,232.4 L1517.6,229.2 L1522.5,226.2 L1527.3,223.4 L1532.2,220.8 L1537,218.4 L1541.9,216.2 L1546.7,214.1 L1551.6,212.3 L1556.4,210.5 L1561.3,208.9 L1566.2,207.5 L1571,206.2 L1575.9,205 L1580.7,203.9 L1585.6,202.8 L1590.4,201.9 L1595.3,201.1 L1600.1,200.3 L1605,199.6 L1609.8,199 L1614.7,198.4 L1619.5,197.9 L1624.4,197.5 L1629.2,197 L1634.1,196.7 L1638.9,196.3 L1643.8,196 L1648.6,195.7 L1653.5,195.5 L1658.3,195.2 L1663.2,195 L1668,194.8 L1672.9,194.6 L1677.7,194.5 L1682.6,194.4 M1440,304.3 L1419.8,330.6 L1399.7,359.1 L1379.5,389.8 L1359.3,422.8 L1355.1,420.1 L1352.7,417.8 L1350.2,411.7 L1347.8,411.3 L1344.2,406.1 L1340.5,405.5 L1338.1,408.4 L1335.7,409.2 L1333.3,409.9 L1330.4,409.2 L1327.6,407.7 L1324.8,405.5 L1321.7,405.3 L1318.7,404 L1315.7,401.7 L1312.6,398.1 L1310.2,394.8 L1307.8,387.9 L1304.1,371.7 L1301.4,371 L1298.7,369.3 L1296,370.4 L1293.2,368.3 L1290.5,369.5 L1287.8,371.4 L1285,367.7 L1282.3,368.8 L1279.9,366.8 L1277.5,370.5 L1275,372.2 L1272.6,369.5 L1270.2,369.5 L1267.8,369.6 L1265.3,367.4 L1262.9,369.5 L1260.5,368.8 L1258,373.3 L1255.6,370.7 L1253.2,369.5 L1250.8,373.8 L1248.3,374 L1245.9,371.7 L1243.4,370.5 L1240.8,369.7 L1238.3,374.6 L1235.7,371.6 L1233.2,374.6 L1230.6,371.2 L1228,371.9 L1225.5,374.5 L1222.9,374.8 L1220.4,371.7 L1217.8,373.3 L1215.3,372 L1212.7,374.4 L1210.2,374.8 L1207.6,371.3 L1205.1,373.2 L1202.5,374.4 L1200,374.3 L1197.4,374.7 L1195,373.4 L1192.5,373.6 L1190.1,372.4 L1187.7,375.4 L1185.3,373 L1182.8,374 L1180.4,373 L1178,373.3 L1175.6,373.2 L1173.1,373 L1170.7,372.6 L1168.3,374.5 L1165.9,375.3 L1163.4,374.3 L1161,373.8 L1158.6,376.1 L1156.2,376.1 L1153.7,377.8 L1151.3,374.4 L1148.9,373 L1146.5,376.6 L1144,377.9 L1141.6,377.8 L1139.2,376.5 L1136.8,376.1 L1134.3,377.3 L1131.9,373.3 L1129.5,378.5 L1127,377 L1124.6,378.1 L1122.2,374.9 L1119.8,374.1 L1117.3,377.5 L1114.9,378.2 L1112.5,375.8 L1110.1,375 L1107.6,373 L1105.2,378.1 L1102.8,377.6 L1100.4,377.1 L1097.9,376.9 L1095.5,376.7 L1093.1,373.8 L1090.7,374.5 L1088.2,376.6 L1085.8,376.7 L1083.4,376.1 L1081,376.7 L1078.5,373.2 L1076.1,374.7" stroke="#ff00ff"/>
<path d="M1076.1,369.8 L1079.7,368.9 L1083.4,367.8 L1087,368.2 L1090.7,368.4 L1094.3,366.5 L1097.9,366 L1101.6,367 L1105.2,366.1 L1108.9,364.7 L1112.5,365.4 L1116.1,365.7 L1119.8,365.7 L1123.4,363.1 L1127,363.1 L1130.7,363.7 L1134.3,362.9 L1138,362.6 L1141.6,362.7 L1145.2,360.7 L1148.9,361 L1152.5,361.6 L1156.2,361.8 L1159.8,359.7 L1163.4,359.1 L1167.1,357.1 L1170.7,356.4 L1174.4,355.8 L1178,355.9 L1181.6,355 L1185.3,353.7 L1188.9,352.9 L1192.5,350.5 L1196.2,350.4 L1199.8,349.2 L1203.5,347.5 L1207.1,348.3 L1210.7,346.7 L1214.4,346.7 L1218,344.3 L1221.7,345.2 L1225.3,342.4 L1228.9,341.4 L1232.6,340.6 L1236.2,341.4 L1239.9,340 L1243.5,338.1 L1247.1,338.7 L1250.8,336.9 L1254.4,336 L1258,334 L1261.7,334.2 L1265.3,333.3 L1269,332.5 L1272.6,331.6 L1276.2,330.7 L1279.9,329.8 L1283.5,328.9 L1287.2,328 L1290.8,327.1 L1294.4,326.2 L1298.1,325.2 L1301.7,324.3 L1305.4,323.4 L1309,322.4 L1312.6,321.5 L1316.3,320.6 L1319.9,319.6 L1323.6,318.7 L1327.2,317.8 L1330.8,317.1 L1334.5,316.5 L1338.1,315.9 L1341.7,315.3 L1345.4,314.6 L1349,314 L1352.7,313.4 L1356.3,312.8 L1359.9,312.1 L1363.6,311.5 L1367.2,310.9 L1370.9,310.4 L1374.5,310 L1378.1,309.6 L1381.8,309.3 L1385.4,308.9 L1389.1,308.5 L1392.7,308.1 L1396.3,307.8 L1400,307.4 L1403.6,307 L1407.2,306.7 L1410.9,306.3 L1414.5,306 L1418.2,305.7 L1421.8,305.5 L1425.4,305.3 L1429.1,305 L1432.7,304.8 L1436.4,304.5 L1440,304.3 M1440,304.3 L1444.9,296.7 L1449.7,289.2 L1454.6,281.7 L1459.4,274.3 L1464.3,267.1 L1469.1,260.1 L1474,253.2 L1478.8,246.6 L1483.7,240.2 L1488.5,234.1 L1493.4,228.3 L1498.2,222.7 L1503.1,217.5 L1507.9,212.5 L1512.8,207.8 L1517.6,203.5 L1522.5,199.4 L1527.3,195.5 L1532.2,192 L1537,188.6 L1541.9,185.6 L1546.7,182.7 L1551.6,180.1 L1556.4,177.7 L1561.3,175.5 L1566.2,173.4 L1571,171.6 L1575.9,169.9 L1580.7,168.3 L1585.6,166.8 L1590.4,165.5 L1595.3,164.3 L1600.1,163.2 L1605,162.3 L1609.8,161.3 L1614.7,160.5 L1619.5,159.8 L1624.4,159.1 L1629.2,158.5 L1634.1,157.9 L1638.9,157.4 L1643.8,156.9 L1648.6,156.5 L1653.5,156.1 L1658.3,155.8 L1663.2,155.5 L1668,155.2 L1672.9,154.9 L1677.7,154.7 L1682.6,154.5 M1440,304.3 L1446.1,304.3 L1452.1,304.2 L1458.2,304 L1464.3,303.7 L1470.3,303.2 L1476.4,302.7 L1482.5,302.1 L1488.5,301.3 L1494.6,300.4 L1500.7,299.4 L1506.7,298.3 L1512.8,297 L1518.8,295.6 L1524.9,294.1 L1531,292.4 L1533.4,291.7 L1534,211.1 L1537,201.1 L1544.3,189.4 L1555.2,179.7 L1573.4,170.7 L1597.7,163.8 L1603.8,162.5 L1609.8,161.3 L1615.9,160.3 L1622,159.4 L1628,158.6 L1634.1,157.9 L1640.1,157.3 L1646.2,156.7 L1652.3,156.2 L1658.3,155.8 L1664.4,155.4 L1670.5,155 L1676.5,154.7 L1682.6,154.5 M1440,304.3 L1416.6,342.9 L1393.2,384.8 L1369.8,430 L1346.4,478.5 L1343,468.5 L1339.9,462 L1336.9,456.8 L1333.9,446.9 L1330.8,442.1 L1327.8,439.1 L1324.8,433.3 L1321.7,424.7 L1318.7,420.1 L1315.7,411.9 L1312.6,402.5 L1309.6,394.5 L1306.6,392.3 L1301.7,371.7 L1299.3,372.2 L1296.9,364.6 L1294.4,364.4 L1292,368.2 L1289.6,367.6 L1287.2,369.5 L1284.7,373.9 L1282.3,373.2 L1279.3,373.1 L1276.2,378.9 L1273.2,381.1 L1270.2,382 L1267.8,386.7 L1265.3,386.9 L1262.9,387.5 L1260.5,387.5 L1258,390.8 L1255.6,391.2 L1253.2,388.3 L1250.8,391.8 L1248.3,389.2 L1245.9,387.9 L1243.2,388.5 L1240.5,385.2 L1237.8,386.5 L1235.1,388.1 L1232.4,392.9 L1229.7,390.7 L1227.1,388.7 L1224.4,392.3 L1221.7,390.8 L1219,390.7 L1216.3,391.7 L1213.6,395.2 L1210.9,388.6 L1208.2,390.3 L1205.5,394.8 L1202.8,392.3 L1200.1,394.9 L1197.4,393.7 L1195,394.3 L1192.5,392.9 L1190.1,394.3 L1187.7,393.7 L1185.3,393 L1182.8,390.8 L1180.4,393.4 L1178,393.5 L1175.6,389.5 L1173.1,390.8 L1170.5,392.1 L1167.9,387.9 L1165.3,390.7 L1162.7,389.6 L1160.1,392.5 L1157.5,389.1 L1154.9,394.4 L1152.3,394.2 L1149.7,394.6 L1147.1,390.6 L1144.5,390.5 L1141.9,394.3 L1139.3,392.8 L1136.8,392.3 L1134.2,390 L1131.6,391.8 L1129,395.5 L1126.4,394.6 L1123.8,395.2 L1121.2,395.5 L1118.6,393.6 L1116,396.1 L1113.4,390.2 L1110.8,393.8 L1108.2,393.3 L1105.6,392.5 L1103,391.7 L1100.4,393.7 L1097.9,391.3 L1095.5,394.2 L1093.1,394.5 L1090.7,393.8 L1088.2,396.4 L1085.8,393.5 L1083.4,391.3 L1081,389.2 L1078.5,390.4 L1076.1,392.3" stroke="#00ffff"/>
<path d="M1076.1,378.7 L1079.7,378.4 L1083.4,379.3 L1087,378.1 L1090.7,377.6 L1094.3,376.4 L1097.9,377.2 L1101.6,376.1 L1105.2,375.4 L1108.9,374.3 L1112.5,373.7 L1116.1,373.8 L1119.8,374.4 L1123.4,372.5 L1127,371.7 L1130.7,372.1 L1134.3,372.1 L1138,371.3 L1141.6,371.6 L1145.2,369.8 L1148.9,368.7 L1152.5,369.4 L1156.2,368.5 L1159.8,367.1 L1163.4,367.6 L1167.1,364.8 L1170.7,364.4 L1174.4,364.4 L1178,363.6 L1181.6,362.2 L1185.3,360.3 L1188.9,359 L1192.5,358.8 L1196.2,356.3 L1199.8,356.6 L1203.5,355.3 L1207.1,355.1 L1210.7,352 L1214.4,352.9 L1218,350.1 L1221.7,349.9 L1225.3,348.8 L1228.9,347.7 L1232.6,347.4 L1236.2,344.8 L1239.9,343.6 L1243.5,343 L1247.1,342.5 L1250.8,342.6 L1254.4,339.9 L1258,340.2 L1261.7,338.7 L1265.3,337.6 L1269,336.6 L1272.6,335.6 L1276.2,334.6 L1279.9,333.6 L1283.5,332.6 L1287.2,331.5 L1290.8,330.5 L1294.4,329.4 L1298.1,328.3 L1301.7,327.3 L1305.4,326.2 L1309,325.1 L1312.6,324.1 L1316.3,323 L1319.9,321.9 L1323.6,320.8 L1327.2,319.8 L1330.8,319.1 L1334.5,318.3 L1338.1,317.6 L1341.7,316.9 L1345.4,316.2 L1349,315.5 L1352.7,314.8 L1356.3,314 L1359.9,313.3 L1363.6,312.6 L1367.2,311.9 L1370.9,311.3 L1374.5,310.8 L1378.1,310.4 L1381.8,310 L1385.4,309.6 L1389.1,309.1 L1392.7,308.7 L1396.3,308.3 L1400,307.9 L1403.6,307.4 L1407.2,307 L1410.9,306.6 L1414.5,306.2 L1418.2,306 L1421.8,305.7 L1425.4,305.4 L1429.1,305.1 L1432.7,304.9 L1436.4,304.6 L1440,304.3 M1440,304.3 L1444.9,295.9 L1449.7,287.6 L1454.6,279.3 L1459.4,271 L1464.3,262.9 L1469.1,255 L1474,247.2 L1478.8,239.6 L1483.7,232.2 L1488.5,225 L1493.4,218.1 L1498.2,211.4 L1503.1,204.9 L1507.9,198.7 L1512.8,192.8 L1517.6,187.2 L1522.5,181.8 L1527.3,176.8 L1532.2,171.9 L1537,167.4 L1541.9,163.1 L1546.7,159 L1551.6,155.2 L1556.4,151.6 L1561.3,148.3 L1566.2,145.1 L1571,142.2 L1575.9,139.4 L1580.7,136.9 L1585.6,134.5 L1590.4,132.3 L1595.3,130.2 L1600.1,128.3 L1605,126.5 L1609.8,124.8 L1614.7,123.3 L1619.5,121.9 L1624.4,120.6 L1629.2,119.4 L1634.1,118.2 L1638.9,117.2 L1643.8,116.2 L1648.6,115.3 L1653.5,114.5 L1658.3,113.8 L1663.2,113.1 L1668,112.4 L1672.9,111.8 L1677.7,111.3 L1682.6,110.8 M1440,304.3 L1446.1,304.3 L1452.1,304.2 L1458.2,304 L1464.3,303.7 L1470.3,303.4 L1476.4,303 L1482.5,302.4 L1488.5,301.8 L1494.6,301 L1500.7,300.2 L1506.7,299.2 L1512.8,298.1 L1518.8,296.9 L1524.9,295.6 L1531,294.2 L1537,292.7 L1540.7,291.7 L1541.3,179.1 L1544.3,172.4 L1555.2,160 L1567.4,148.9 L1585.6,134.5 L1609.8,124.8 L1615.9,122.9 L1622,121.2 L1628,119.7 L1634.1,118.2 L1640.1,116.9 L1646.2,115.8 L1652.3,114.7 L1658.3,113.8 L1664.4,112.9 L1670.5,112.1 L1676.5,111.4 L1682.6,110.8 M1440,304.3 L1413.4,354.4 L1386.8,408.7 L1360.2,467.3 L1333.6,530.1 L1330.8,521.3 L1327.8,505.3 L1324.8,494.9 L1321.7,484.2 L1318.7,470 L1316.3,466.5 L1313.8,464.1 L1311.4,459.6 L1309,459.7 L1306.6,453.1 L1304.1,442.1 L1300.5,415.7 L1296.9,367.3 L1294,365.5 L1291.2,367.4 L1288.4,362.9 L1285.9,367.1 L1283.5,367 L1281.1,362.2 L1278.7,363.4 L1276.2,367.3 L1273.2,383.1 L1270.2,401.1 L1267.8,394.6 L1265.3,384.2 L1262.9,377.6 L1260.5,387.7 L1258,401.9 L1255.6,412.8 L1253.2,402.4 L1250.8,391.1 L1248.3,383.5 L1245.5,397.1 L1242.7,406.1 L1239.9,414.2 L1236.8,402 L1233.8,389.3 L1231.1,392.2 L1228.4,390.8 L1225.7,389.8 L1223,392.9 L1220.3,390.8 L1217.6,392.9 L1214.9,391.1 L1212.2,393.1 L1209.5,392.3 L1207.1,392.1 L1204.7,397.3 L1202.3,393.7 L1199.8,398.3 L1197.4,393.4 L1195,396.8 L1192.5,398.6 L1190.1,399.9 L1187.7,399.3 L1185.3,401.1 L1182.6,398.1 L1179.9,396 L1177.2,394.4 L1174.5,394.6 L1171.8,389.4 L1169.1,388.9 L1166.4,387.2 L1163.7,388.7 L1161,386.4 L1158.6,387.1 L1156.2,386.3 L1153.7,384.1 L1151.3,387 L1148.9,387.2 L1146.5,388 L1144,384.9 L1141.6,389.2 L1139.2,391.3 L1136.8,386.8 L1134.3,385.7 L1131.9,387.1 L1129.5,388.3 L1127,387.4 L1124.6,389.3 L1122.1,390.7 L1119.5,388.7 L1117,392.4 L1114.4,392 L1111.9,389.7 L1109.3,389.3 L1106.7,390.1 L1104.2,392.5 L1101.6,388 L1099.1,389.1 L1096.5,391.2 L1094,390.7 L1091.4,390.1 L1088.9,391.2 L1086.3,392.4 L1083.8,386.4 L1081.2,386 L1078.7,388.2 L1076.1,389.3" stroke="#ff8000"/>
<path d="M1076.1,373.8 L1079.7,374.4 L1083.4,373.1 L1087,374 L1090.7,372.4 L1094.3,372.4 L1097.9,371.1 L1101.6,372.6 L1105.2,370.5 L1108.9,371.7 L1112.5,370.3 L1116.1,368.9 L1119.8,370.7 L1123.4,369.7 L1127,369.1 L1130.7,368.6 L1134.3,368.8 L1138,366.4 L1141.6,366.2 L1145.2,366.7 L1148.9,366.4 L1152.5,365.4 L1156.2,366.2 L1159.8,365.3 L1163.4,362.2 L1167.1,362.6 L1170.7,361.2 L1174.4,359.2 L1178,358.1 L1181.6,358.3 L1185.3,357.9 L1188.9,356.7 L1192.5,354.2 L1196.2,353.3 L1199.8,353.9 L1203.5,351.4 L1207.1,351.6 L1210.7,350.3 L1214.4,350 L1218,347.4 L1221.7,346.1 L1225.3,347 L1228.9,345 L1232.6,345 L1236.2,342.4 L1239.9,343.4 L1243.5,342.3 L1247.1,339.9 L1250.8,339.9 L1254.4,337.6 L1258,336.7 L1261.7,336.6 L1265.3,335.7 L1269,334.7 L1272.6,333.8 L1276.2,332.8 L1279.9,331.9 L1283.5,330.9 L1287.2,329.9 L1290.8,328.9 L1294.4,327.9 L1298.1,326.9 L1301.7,325.9 L1305.4,324.9 L1309,323.9 L1312.6,322.9 L1316.3,321.9 L1319.9,320.9 L1323.6,319.9 L1327.2,318.9 L1330.8,318.2 L1334.5,317.5 L1338.1,316.8 L1341.7,316.2 L1345.4,315.5 L1349,314.8 L1352.7,314.1 L1356.3,313.5 L1359.9,312.8 L1363.6,312.1 L1367.2,311.4 L1370.9,310.9 L1374.5,310.5 L1378.1,310.1 L1381.8,309.7 L1385.4,309.3 L1389.1,308.9 L1392.7,308.5 L1396.3,308.1 L1400,307.7 L1403.6,307.3 L1407.2,306.9 L1410.9,306.5 L1414.5,306.1 L1418.2,305.9 L1421.8,305.6 L1425.4,305.3 L1429.1,305.1 L1432.7,304.8 L1436.4,304.6 L1440,304.3 M1440,304.3 L1444.9,295.5 L1449.7,286.7 L1454.6,278 L1459.4,269.3 L1464.3,260.7 L1469.1,252.3 L1474,243.9 L1478.8,235.7 L1483.7,227.7 L1488.5,219.9 L1493.4,212.2 L1498.2,204.8 L1503.1,197.6 L1507.9,190.6 L1512.8,183.8 L1517.6,177.3 L1522.5,171.1 L1527.3,165 L1532.2,159.3 L1537,153.7 L1541.9,148.4 L1546.7,143.4 L1551.6,138.6 L1556.4,134 L1561.3,129.7 L1566.2,125.5 L1571,121.6 L1575.9,117.9 L1580.7,114.4 L1585.6,111.1 L1590.4,108 L1595.3,105.1 L1600.1,102.3 L1605,99.7 L1609.8,97.2 L1614.7,94.9 L1619.5,92.8 L1624.4,90.7 L1629.2,88.8 L1634.1,87 L1638.9,85.4 L1643.8,83.8 L1648.6,82.3 L1653.5,81 L1658.3,79.7 L1663.2,78.5 L1668,77.4 L1672.9,76.3 L1677.7,75.3 L1682.6,74.4 M1440,304.3 L1446.1,304.3 L1452.1,304.1 L1458.2,303.8 L1464.3,303.4 L1470.3,302.9 L1476.4,302.2 L1482.5,301.3 L1488.5,300.3 L1494.6,299.1 L1500.7,297.8 L1506.7,296.3 L1512.8,294.6 L1518.8,292.7 L1523.7,291.1 L1524.3,213.1 L1531.5,200.2 L1542.1,166.2 L1561.3,140.7 L1589.2,108.8 L1602.5,101 L1608.6,97.8 L1614.7,94.9 L1620.7,92.2 L1626.8,89.8 L1632.9,87.5 L1638.9,85.4 L1645,83.4 L1651.1,81.6 L1657.1,80 L1663.2,78.5 L1669.3,77.1 L1675.3,75.8 L1681.4,74.7 M1440,304.3 L1409.1,366.8 L1378.1,434.5 L1347.2,507.5 L1316.3,585.8 L1313.2,576.5 L1310.2,569.6 L1306.6,550.6 L1302.9,535.9 L1300.5,538.9 L1298.1,532.2 L1295.7,521.3 L1293.2,514.3 L1290.8,509.5 L1287.8,505.5 L1284.7,506.6 L1284.1,362.9 L1281.5,362.3 L1278.9,363.5 L1276.2,360 L1273.2,362.7 L1270.2,363.3 L1267.1,362.1 L1264.1,364.4 L1261.7,366.5 L1259.3,366.9 L1256.8,366.8 L1254.4,364.6 L1252,365.9 L1249,365.6 L1245.9,369.6 L1242.9,369.3 L1239.9,371.7 L1237,374.4 L1234.2,381 L1231.4,386.4 L1228.9,395.3 L1226.5,402.2 L1224.1,408.4 L1221.7,397.8 L1219.2,392.3 L1216,385.9 L1212.8,382.8 L1209.5,376.1 L1207.1,375.4 L1204.7,378.7 L1202.3,373.6 L1199.8,376.9 L1197.4,376.5 L1195,376.5 L1192.5,379.5 L1190.1,376.3 L1187.7,378.3 L1185.3,378.6 L1182.8,375.4 L1180.4,379.7 L1178,378.7 L1175.6,376 L1173.1,377.6 L1170.5,379.2 L1167.9,379.1 L1165.3,377.6 L1162.7,379.9 L1160.1,375.8 L1157.5,375.4 L1154.9,381.1 L1152.3,378.7 L1149.7,377.1 L1147.1,379.3 L1144.5,376.2 L1141.9,378.9 L1139.3,380.8 L1136.8,379.1 L1134.2,378.9 L1131.6,378.5 L1129,380.3 L1126.4,378.7 L1123.8,378.1 L1121.2,379.8 L1118.6,380.1 L1116,378.2 L1113.4,379.3 L1110.8,380.4 L1108.2,378 L1105.6,382.7 L1103,379.3 L1100.4,381.1 L1097.9,382.9 L1095.5,380.1 L1093.1,382.1 L1090.7,380.6 L1088.2,378.5 L1085.8,378.2 L1083.4,378 L1081,381 L1078.5,379.3 L1076.1,379.1" stroke="#8000ff"/>
</g>
<line x1="1698" y1="288" x2="1698" y2="88" stroke="#000" stroke-width="4.2"/>
<polygon points="1698,67.5 1706.5,94 1689.5,94" fill="#000"/>
<text transform="translate(1751.5,362) rotate(-90)" font-size="46" font-family="'Liberation Sans', Arial, sans-serif">Increasing V</text>
<text transform="translate(1770.5,108) rotate(-90)" font-size="28" font-family="'Liberation Sans', Arial, sans-serif">g-set</text>
<path d="M1615,66.5 L1602.6,75.7 L1590.4,84.8 L1578.3,94 L1566.5,103.2 L1555.1,112.4 L1544.2,121.5 L1533.7,130.7 L1523.9,139.9 L1514.6,149.1 L1506,158.2 L1498,167.4 L1490.7,176.6 L1483.9,185.8 L1477.8,194.9 L1472.1,204.1 L1466.9,213.3 L1462.1,222.5 L1457.6,231.7 L1453.2,240.8 L1449,250" fill="none" stroke="#e8141e" stroke-width="3" stroke-dasharray="0.3,6.2" stroke-linecap="round"/>
<polygon points="1443,259 1444.1,241.9 1455,246.9" fill="#e8141e"/>
<path d="M1459,318 L1508,311" fill="none" stroke="#e8141e" stroke-width="3" stroke-dasharray="0.3,6.2" stroke-linecap="round"/>
<polygon points="1523,309 1508,317.2 1506.3,305.3" fill="#e8141e"/>
<path d="M1345,301.5 L1219,333" fill="none" stroke="#1616c8" stroke-width="3" stroke-dasharray="0.3,6.2" stroke-linecap="round"/>
<polygon points="1203,337.5 1217.1,327.8 1220,339.4" fill="#1616c8"/>
<path d="M1249,437.6 L1253.1,458.7 L1257.3,478.5 L1261.5,496.9 L1265.8,513.9 L1270.1,529.6 L1274.6,543.8 L1279,556.7 L1283.6,568.2 L1288.2,578.4 L1292.9,587.2 L1297.6,594.6 L1302.4,600.6 L1307.3,605.2 L1312.2,608.5 L1317.2,610.4 L1322.3,610.9 L1327.4,610.1 L1332.6,607.9 L1337.9,604.3 L1343.2,599.3 L1348.6,592.9 L1354.1,585.2 L1359.6,576.1 L1365.2,565.7 L1370.8,553.8 L1376.5,540.6 L1382.3,526 L1388.1,510.1 L1394,492.7 L1400,474" fill="none" stroke="#1616c8" stroke-width="3" stroke-dasharray="0.3,6.2" stroke-linecap="round"/>
<polygon points="1404,468 1402.9,485.1 1392,480.1" fill="#1616c8"/>
<g stroke="#000" stroke-width="2.2" fill="none">
<line x1="1069" y1="994" x2="1069" y2="1574"/>
<line x1="1068" y1="1573.2" x2="1788" y2="1573.2"/>
<line x1="1056.5" y1="1566.7" x2="1069" y2="1566.7"/>
<line x1="1056.5" y1="1503.1" x2="1069" y2="1503.1"/>
<line x1="1056.5" y1="1439.5" x2="1069" y2="1439.5"/>
<line x1="1056.5" y1="1375.9" x2="1069" y2="1375.9"/>
<line x1="1056.5" y1="1312.3" x2="1069" y2="1312.3"/>
<line x1="1056.5" y1="1248.7" x2="1069" y2="1248.7"/>
<line x1="1056.5" y1="1185.1" x2="1069" y2="1185.1"/>
<line x1="1056.5" y1="1121.5" x2="1069" y2="1121.5"/>
<line x1="1056.5" y1="1057.9" x2="1069" y2="1057.9"/>
<line x1="1056.5" y1="994.3" x2="1069" y2="994.3"/>
<line x1="1062.5" y1="1534.9" x2="1069" y2="1534.9"/>
<line x1="1062.5" y1="1471.3" x2="1069" y2="1471.3"/>
<line x1="1062.5" y1="1407.7" x2="1069" y2="1407.7"/>
<line x1="1062.5" y1="1344.1" x2="1069" y2="1344.1"/>
<line x1="1062.5" y1="1280.5" x2="1069" y2="1280.5"/>
<line x1="1062.5" y1="1216.9" x2="1069" y2="1216.9"/>
<line x1="1062.5" y1="1153.3" x2="1069" y2="1153.3"/>
<line x1="1062.5" y1="1089.7" x2="1069" y2="1089.7"/>
<line x1="1062.5" y1="1026.1" x2="1069" y2="1026.1"/>
<line x1="1085.5" y1="1573.2" x2="1085.5" y2="1585"/>
<line x1="1256.5" y1="1573.2" x2="1256.5" y2="1585"/>
<line x1="1427.5" y1="1573.2" x2="1427.5" y2="1585"/>
<line x1="1598.5" y1="1573.2" x2="1598.5" y2="1585"/>
<line x1="1769.5" y1="1573.2" x2="1769.5" y2="1585"/>
<line x1="1171" y1="1573.2" x2="1171" y2="1580.5"/>
<line x1="1342" y1="1573.2" x2="1342" y2="1580.5"/>
<line x1="1513" y1="1573.2" x2="1513" y2="1580.5"/>
<line x1="1684" y1="1573.2" x2="1684" y2="1580.5"/>
</g>
<text transform="translate(1049,1580.7) scale(0.98,1.055)" font-size="45" text-anchor="end" font-family="'Liberation Sans', Arial, sans-serif" >0</text>
<text transform="translate(1049,1517.1) scale(0.98,1.055)" font-size="45" text-anchor="end" font-family="'Liberation Sans', Arial, sans-serif" >100</text>
<text transform="translate(1049,1453.5) scale(0.98,1.055)" font-size="45" text-anchor="end" font-family="'Liberation Sans', Arial, sans-serif" >200</text>
<text transform="translate(1049,1389.9) scale(0.98,1.055)" font-size="45" text-anchor="end" font-family="'Liberation Sans', Arial, sans-serif" >300</text>
<text transform="translate(1049,1326.3) scale(0.98,1.055)" font-size="45" text-anchor="end" font-family="'Liberation Sans', Arial, sans-serif" >400</text>
<text transform="translate(1049,1262.7) scale(0.98,1.055)" font-size="45" text-anchor="end" font-family="'Liberation Sans', Arial, sans-serif" >500</text>
<text transform="translate(1049,1199.1) scale(0.98,1.055)" font-size="45" text-anchor="end" font-family="'Liberation Sans', Arial, sans-serif" >600</text>
<text transform="translate(1049,1135.5) scale(0.98,1.055)" font-size="45" text-anchor="end" font-family="'Liberation Sans', Arial, sans-serif" >700</text>
<text transform="translate(1049,1071.9) scale(0.98,1.055)" font-size="45" text-anchor="end" font-family="'Liberation Sans', Arial, sans-serif" >800</text>
<text transform="translate(1049,1008.3) scale(0.98,1.055)" font-size="45" text-anchor="end" font-family="'Liberation Sans', Arial, sans-serif" >900</text>
<text transform="translate(1085.5,1628) scale(0.97,1.05)" font-size="45" text-anchor="middle" font-family="'Liberation Sans', Arial, sans-serif" >1.50</text>
<text transform="translate(1256.5,1628) scale(0.97,1.05)" font-size="45" text-anchor="middle" font-family="'Liberation Sans', Arial, sans-serif" >1.75</text>
<text transform="translate(1427.5,1628) scale(0.97,1.05)" font-size="45" text-anchor="middle" font-family="'Liberation Sans', Arial, sans-serif" >2.00</text>
<text transform="translate(1598.5,1628) scale(0.97,1.05)" font-size="45" text-anchor="middle" font-family="'Liberation Sans', Arial, sans-serif" >2.25</text>
<text transform="translate(1769.5,1628) scale(0.97,1.05)" font-size="45" text-anchor="middle" font-family="'Liberation Sans', Arial, sans-serif" >2.50</text>
<text transform="translate(945,1308.5) rotate(-90)" font-size="46" text-anchor="middle" font-family="'Liberation Sans', Arial, sans-serif">Conductance (µS)</text>
<text x="1344" y="1702" font-size="46" font-family="'Liberation Sans', Arial, sans-serif">V</text>
<text x="1374" y="1720" font-size="28" font-family="'Liberation Sans', Arial, sans-serif">g-set</text>
<text x="1447" y="1702" font-size="46" font-family="'Liberation Sans', Arial, sans-serif">(V)</text>
<text x="908" y="1703.5" font-size="66" font-family="'Liberation Sans', Arial, sans-serif">(d)</text>
<rect x="1109" y="1014.8" width="242.5" height="170" fill="#fff" stroke="#555" stroke-width="1.4"/>
<rect x="1162" y="1040" width="12" height="12" fill="#000"/>
<circle cx="1168" cy="1103" r="7" fill="#f00"/>
<polygon points="1168,1149.5 1176.5,1164 1159.5,1164" fill="#00f"/>
<text transform="translate(1232.5,1062.2) scale(0.965,1.05)" font-size="45" text-anchor="start" font-family="'Liberation Sans', Arial, sans-serif" >Cell 1</text>
<text transform="translate(1232.5,1117.9) scale(0.965,1.05)" font-size="45" text-anchor="start" font-family="'Liberation Sans', Arial, sans-serif" >Cell 2</text>
<text transform="translate(1232.5,1173.6) scale(0.965,1.05)" font-size="45" text-anchor="start" font-family="'Liberation Sans', Arial, sans-serif" >Cell 3</text>
<rect x="1079.3" y="1556.4" width="12.4" height="12.4" fill="#000"/>
<rect x="1079.3" y="1554.8" width="12.4" height="12.4" fill="#000"/>
<rect x="1079.3" y="1553.4" width="12.4" height="12.4" fill="#000"/>
<rect x="1079.3" y="1448.6" width="12.4" height="12.4" fill="#000"/>
<rect x="1113.5" y="1555.6" width="12.4" height="12.4" fill="#000"/>
<rect x="1113.5" y="1548.6" width="12.4" height="12.4" fill="#000"/>
<rect x="1113.5" y="1542.7" width="12.4" height="12.4" fill="#000"/>
<rect x="1113.5" y="1533.7" width="12.4" height="12.4" fill="#000"/>
<rect x="1147.7" y="1556.2" width="12.4" height="12.4" fill="#000"/>
<rect x="1147.7" y="1547.4" width="12.4" height="12.4" fill="#000"/>
<rect x="1147.7" y="1541.1" width="12.4" height="12.4" fill="#000"/>
<rect x="1147.7" y="1533.5" width="12.4" height="12.4" fill="#000"/>
<rect x="1147.7" y="1526.8" width="12.4" height="12.4" fill="#000"/>
<rect x="1147.7" y="1521.4" width="12.4" height="12.4" fill="#000"/>
<rect x="1147.7" y="1514.3" width="12.4" height="12.4" fill="#000"/>
<rect x="1147.7" y="1507.9" width="12.4" height="12.4" fill="#000"/>
<rect x="1181.9" y="1521" width="12.4" height="12.4" fill="#000"/>
<rect x="1181.9" y="1510.8" width="12.4" height="12.4" fill="#000"/>
<rect x="1216.1" y="1495" width="12.4" height="12.4" fill="#000"/>
<rect x="1250.3" y="1466.2" width="12.4" height="12.4" fill="#000"/>
<rect x="1250.3" y="1457.5" width="12.4" height="12.4" fill="#000"/>
<rect x="1284.5" y="1464.4" width="12.4" height="12.4" fill="#000"/>
<rect x="1284.5" y="1450.8" width="12.4" height="12.4" fill="#000"/>
<rect x="1284.5" y="1434.7" width="12.4" height="12.4" fill="#000"/>
<rect x="1421.3" y="1383.6" width="12.4" height="12.4" fill="#000"/>
<rect x="1421.3" y="1373.4" width="12.4" height="12.4" fill="#000"/>
<rect x="1421.3" y="1361.2" width="12.4" height="12.4" fill="#000"/>
<rect x="1421.3" y="1349.7" width="12.4" height="12.4" fill="#000"/>
<rect x="1421.3" y="1338.1" width="12.4" height="12.4" fill="#000"/>
<rect x="1421.3" y="1327.9" width="12.4" height="12.4" fill="#000"/>
<rect x="1421.3" y="1315.3" width="12.4" height="12.4" fill="#000"/>
<rect x="1421.3" y="1303.9" width="12.4" height="12.4" fill="#000"/>
<rect x="1421.3" y="1281.9" width="12.4" height="12.4" fill="#000"/>
<rect x="1421.3" y="1190.3" width="12.4" height="12.4" fill="#000"/>
<rect x="1455.5" y="1383.1" width="12.4" height="12.4" fill="#000"/>
<rect x="1455.5" y="1374.4" width="12.4" height="12.4" fill="#000"/>
<rect x="1455.5" y="1295.3" width="12.4" height="12.4" fill="#000"/>
<rect x="1489.7" y="1362.9" width="12.4" height="12.4" fill="#000"/>
<rect x="1489.7" y="1354.1" width="12.4" height="12.4" fill="#000"/>
<rect x="1489.7" y="1346.7" width="12.4" height="12.4" fill="#000"/>
<rect x="1523.9" y="1339.2" width="12.4" height="12.4" fill="#000"/>
<rect x="1523.9" y="1328" width="12.4" height="12.4" fill="#000"/>
<rect x="1523.9" y="1264.8" width="12.4" height="12.4" fill="#000"/>
<rect x="1558.1" y="1297.8" width="12.4" height="12.4" fill="#000"/>
<rect x="1558.1" y="1219.6" width="12.4" height="12.4" fill="#000"/>
<rect x="1592.3" y="1262.2" width="12.4" height="12.4" fill="#000"/>
<rect x="1592.3" y="1209.4" width="12.4" height="12.4" fill="#000"/>
<rect x="1626.5" y="1230.5" width="12.4" height="12.4" fill="#000"/>
<rect x="1626.5" y="1223.7" width="12.4" height="12.4" fill="#000"/>
<rect x="1626.5" y="1163.6" width="12.4" height="12.4" fill="#000"/>
<rect x="1660.7" y="1202.4" width="12.4" height="12.4" fill="#000"/>
<rect x="1660.7" y="1150.3" width="12.4" height="12.4" fill="#000"/>
<rect x="1694.9" y="1171.4" width="12.4" height="12.4" fill="#000"/>
<rect x="1694.9" y="1165.5" width="12.4" height="12.4" fill="#000"/>
<rect x="1729.1" y="1160.5" width="12.4" height="12.4" fill="#000"/>
<rect x="1729.1" y="1154.4" width="12.4" height="12.4" fill="#000"/>
<rect x="1763.3" y="1141.9" width="12.4" height="12.4" fill="#000"/>
<rect x="1763.3" y="1133.7" width="12.4" height="12.4" fill="#000"/>
<circle cx="1085.5" cy="1556" r="7" fill="#f00"/>
<circle cx="1085.5" cy="1552.9" r="7" fill="#f00"/>
<circle cx="1085.5" cy="1548.7" r="7" fill="#f00"/>
<circle cx="1085.5" cy="1547.3" r="7" fill="#f00"/>
<circle cx="1085.5" cy="1542.5" r="7" fill="#f00"/>
<circle cx="1085.5" cy="1537.6" r="7" fill="#f00"/>
<circle cx="1119.7" cy="1560.6" r="7" fill="#f00"/>
<circle cx="1119.7" cy="1556.7" r="7" fill="#f00"/>
<circle cx="1119.7" cy="1555.2" r="7" fill="#f00"/>
<circle cx="1119.7" cy="1552.9" r="7" fill="#f00"/>
<circle cx="1119.7" cy="1547.9" r="7" fill="#f00"/>
<circle cx="1119.7" cy="1526" r="7" fill="#f00"/>
<circle cx="1153.9" cy="1562.5" r="7" fill="#f00"/>
<circle cx="1153.9" cy="1556.6" r="7" fill="#f00"/>
<circle cx="1153.9" cy="1550" r="7" fill="#f00"/>
<circle cx="1153.9" cy="1543.1" r="7" fill="#f00"/>
<circle cx="1153.9" cy="1538.6" r="7" fill="#f00"/>
<circle cx="1153.9" cy="1530.8" r="7" fill="#f00"/>
<circle cx="1153.9" cy="1525.6" r="7" fill="#f00"/>
<circle cx="1153.9" cy="1519.6" r="7" fill="#f00"/>
<circle cx="1153.9" cy="1512.2" r="7" fill="#f00"/>
<circle cx="1153.9" cy="1507" r="7" fill="#f00"/>
<circle cx="1153.9" cy="1501.4" r="7" fill="#f00"/>
<circle cx="1153.9" cy="1494.9" r="7" fill="#f00"/>
<circle cx="1188.1" cy="1526.8" r="7" fill="#f00"/>
<circle cx="1188.1" cy="1518.3" r="7" fill="#f00"/>
<circle cx="1188.1" cy="1513.8" r="7" fill="#f00"/>
<circle cx="1188.1" cy="1505.8" r="7" fill="#f00"/>
<circle cx="1188.1" cy="1498.9" r="7" fill="#f00"/>
<circle cx="1188.1" cy="1492.4" r="7" fill="#f00"/>
<circle cx="1188.1" cy="1487.4" r="7" fill="#f00"/>
<circle cx="1188.1" cy="1480.9" r="7" fill="#f00"/>
<circle cx="1188.1" cy="1473.9" r="7" fill="#f00"/>
<circle cx="1188.1" cy="1466.8" r="7" fill="#f00"/>
<circle cx="1222.3" cy="1502.2" r="7" fill="#f00"/>
<circle cx="1222.3" cy="1496.1" r="7" fill="#f00"/>
<circle cx="1222.3" cy="1490" r="7" fill="#f00"/>
<circle cx="1222.3" cy="1483.7" r="7" fill="#f00"/>
<circle cx="1222.3" cy="1479.7" r="7" fill="#f00"/>
<circle cx="1222.3" cy="1472.8" r="7" fill="#f00"/>
<circle cx="1256.5" cy="1486.5" r="7" fill="#f00"/>
<circle cx="1256.5" cy="1479.5" r="7" fill="#f00"/>
<circle cx="1256.5" cy="1472.6" r="7" fill="#f00"/>
<circle cx="1256.5" cy="1464.4" r="7" fill="#f00"/>
<circle cx="1256.5" cy="1456.5" r="7" fill="#f00"/>
<circle cx="1256.5" cy="1450.1" r="7" fill="#f00"/>
<circle cx="1256.5" cy="1442.9" r="7" fill="#f00"/>
<circle cx="1290.7" cy="1474.7" r="7" fill="#f00"/>
<circle cx="1290.7" cy="1466.2" r="7" fill="#f00"/>
<circle cx="1290.7" cy="1460.7" r="7" fill="#f00"/>
<circle cx="1290.7" cy="1453.5" r="7" fill="#f00"/>
<circle cx="1290.7" cy="1445.3" r="7" fill="#f00"/>
<circle cx="1290.7" cy="1438.9" r="7" fill="#f00"/>
<circle cx="1290.7" cy="1431.7" r="7" fill="#f00"/>
<circle cx="1290.7" cy="1426.3" r="7" fill="#f00"/>
<circle cx="1324.9" cy="1449.9" r="7" fill="#f00"/>
<circle cx="1324.9" cy="1443.4" r="7" fill="#f00"/>
<circle cx="1324.9" cy="1435.9" r="7" fill="#f00"/>
<circle cx="1324.9" cy="1430.1" r="7" fill="#f00"/>
<circle cx="1324.9" cy="1425" r="7" fill="#f00"/>
<circle cx="1324.9" cy="1419.4" r="7" fill="#f00"/>
<circle cx="1324.9" cy="1413.8" r="7" fill="#f00"/>
<circle cx="1324.9" cy="1286.2" r="7" fill="#f00"/>
<circle cx="1359.1" cy="1414.6" r="7" fill="#f00"/>
<circle cx="1359.1" cy="1407.5" r="7" fill="#f00"/>
<circle cx="1359.1" cy="1400.3" r="7" fill="#f00"/>
<circle cx="1393.3" cy="1405.2" r="7" fill="#f00"/>
<circle cx="1393.3" cy="1389.4" r="7" fill="#f00"/>
<circle cx="1393.3" cy="1382.5" r="7" fill="#f00"/>
<circle cx="1393.3" cy="1375.1" r="7" fill="#f00"/>
<circle cx="1393.3" cy="1368.9" r="7" fill="#f00"/>
<circle cx="1427.5" cy="1384.3" r="7" fill="#f00"/>
<circle cx="1427.5" cy="1378.5" r="7" fill="#f00"/>
<circle cx="1427.5" cy="1373.5" r="7" fill="#f00"/>
<circle cx="1461.7" cy="1356.1" r="7" fill="#f00"/>
<circle cx="1461.7" cy="1344.7" r="7" fill="#f00"/>
<circle cx="1461.7" cy="1332.5" r="7" fill="#f00"/>
<circle cx="1461.7" cy="1321.2" r="7" fill="#f00"/>
<circle cx="1461.7" cy="1308.8" r="7" fill="#f00"/>
<circle cx="1495.9" cy="1314.3" r="7" fill="#f00"/>
<circle cx="1495.9" cy="1307.8" r="7" fill="#f00"/>
<circle cx="1495.9" cy="1301.1" r="7" fill="#f00"/>
<circle cx="1495.9" cy="1293.8" r="7" fill="#f00"/>
<circle cx="1495.9" cy="1286.2" r="7" fill="#f00"/>
<circle cx="1495.9" cy="1279.4" r="7" fill="#f00"/>
<circle cx="1495.9" cy="1239.8" r="7" fill="#f00"/>
<circle cx="1530.1" cy="1300.1" r="7" fill="#f00"/>
<circle cx="1530.1" cy="1289.5" r="7" fill="#f00"/>
<circle cx="1530.1" cy="1279.9" r="7" fill="#f00"/>
<circle cx="1530.1" cy="1267.7" r="7" fill="#f00"/>
<circle cx="1530.1" cy="1258.6" r="7" fill="#f00"/>
<circle cx="1564.3" cy="1272.7" r="7" fill="#f00"/>
<circle cx="1564.3" cy="1266.2" r="7" fill="#f00"/>
<circle cx="1564.3" cy="1257.7" r="7" fill="#f00"/>
<circle cx="1564.3" cy="1250.6" r="7" fill="#f00"/>
<circle cx="1564.3" cy="1243.8" r="7" fill="#f00"/>
<circle cx="1564.3" cy="1236.9" r="7" fill="#f00"/>
<circle cx="1598.5" cy="1256.3" r="7" fill="#f00"/>
<circle cx="1598.5" cy="1245.5" r="7" fill="#f00"/>
<circle cx="1598.5" cy="1233.7" r="7" fill="#f00"/>
<circle cx="1598.5" cy="1223" r="7" fill="#f00"/>
<circle cx="1632.7" cy="1218.9" r="7" fill="#f00"/>
<circle cx="1632.7" cy="1210.3" r="7" fill="#f00"/>
<circle cx="1632.7" cy="1202.3" r="7" fill="#f00"/>
<circle cx="1632.7" cy="1194.5" r="7" fill="#f00"/>
<circle cx="1632.7" cy="1183.9" r="7" fill="#f00"/>
<circle cx="1666.9" cy="1186.1" r="7" fill="#f00"/>
<circle cx="1666.9" cy="1175.3" r="7" fill="#f00"/>
<circle cx="1666.9" cy="1166.2" r="7" fill="#f00"/>
<circle cx="1701.1" cy="1138" r="7" fill="#f00"/>
<circle cx="1701.1" cy="1166.7" r="7" fill="#f00"/>
<circle cx="1701.1" cy="1157.1" r="7" fill="#f00"/>
<circle cx="1701.1" cy="1147.8" r="7" fill="#f00"/>
<circle cx="1735.3" cy="1114.5" r="7" fill="#f00"/>
<circle cx="1735.3" cy="1139.9" r="7" fill="#f00"/>
<circle cx="1735.3" cy="1131.5" r="7" fill="#f00"/>
<circle cx="1735.3" cy="1121.4" r="7" fill="#f00"/>
<circle cx="1769.5" cy="1126.7" r="7" fill="#f00"/>
<circle cx="1769.5" cy="1114.5" r="7" fill="#f00"/>
<circle cx="1769.5" cy="1103.5" r="7" fill="#f00"/>
<circle cx="1769.5" cy="1093.3" r="7" fill="#f00"/>
<circle cx="1769.5" cy="1083.6" r="7" fill="#f00"/>
<circle cx="1769.5" cy="1070.5" r="7" fill="#f00"/>
<polygon points="1085.5,1540.1 1093.8,1554.6 1077.2,1554.6" fill="#00f"/>
<polygon points="1085.5,1532.3 1093.8,1546.8 1077.2,1546.8" fill="#00f"/>
<polygon points="1085.5,1527.1 1093.8,1541.6 1077.2,1541.6" fill="#00f"/>
<polygon points="1085.5,1519 1093.8,1533.5 1077.2,1533.5" fill="#00f"/>
<polygon points="1085.5,1512.3 1093.8,1526.8 1077.2,1526.8" fill="#00f"/>
<polygon points="1085.5,1504.4 1093.8,1518.9 1077.2,1518.9" fill="#00f"/>
<polygon points="1085.5,1497.1 1093.8,1511.6 1077.2,1511.6" fill="#00f"/>
<polygon points="1085.5,1491.3 1093.8,1505.8 1077.2,1505.8" fill="#00f"/>
<polygon points="1085.5,1483.6 1093.8,1498.1 1077.2,1498.1" fill="#00f"/>
<polygon points="1085.5,1476.2 1093.8,1490.7 1077.2,1490.7" fill="#00f"/>
<polygon points="1119.7,1511.4 1128,1525.9 1111.4,1525.9" fill="#00f"/>
<polygon points="1119.7,1504.5 1128,1519 1111.4,1519" fill="#00f"/>
<polygon points="1119.7,1495.8 1128,1510.3 1111.4,1510.3" fill="#00f"/>
<polygon points="1119.7,1489.2 1128,1503.7 1111.4,1503.7" fill="#00f"/>
<polygon points="1119.7,1483.9 1128,1498.4 1111.4,1498.4" fill="#00f"/>
<polygon points="1119.7,1475.4 1128,1489.9 1111.4,1489.9" fill="#00f"/>
<polygon points="1119.7,1469.7 1128,1484.2 1111.4,1484.2" fill="#00f"/>
<polygon points="1119.7,1462.5 1128,1477 1111.4,1477" fill="#00f"/>
<polygon points="1119.7,1445.1 1128,1459.6 1111.4,1459.6" fill="#00f"/>
<polygon points="1153.9,1499.9 1162.2,1514.4 1145.6,1514.4" fill="#00f"/>
<polygon points="1153.9,1495.3 1162.2,1509.8 1145.6,1509.8" fill="#00f"/>
<polygon points="1153.9,1486.7 1162.2,1501.2 1145.6,1501.2" fill="#00f"/>
<polygon points="1153.9,1482.8 1162.2,1497.3 1145.6,1497.3" fill="#00f"/>
<polygon points="1153.9,1474.7 1162.2,1489.2 1145.6,1489.2" fill="#00f"/>
<polygon points="1153.9,1468.1 1162.2,1482.6 1145.6,1482.6" fill="#00f"/>
<polygon points="1153.9,1464 1162.2,1478.5 1145.6,1478.5" fill="#00f"/>
<polygon points="1153.9,1455.7 1162.2,1470.2 1145.6,1470.2" fill="#00f"/>
<polygon points="1153.9,1450.5 1162.2,1465 1145.6,1465" fill="#00f"/>
<polygon points="1153.9,1443.7 1162.2,1458.2 1145.6,1458.2" fill="#00f"/>
<polygon points="1188.1,1455 1196.4,1469.5 1179.8,1469.5" fill="#00f"/>
<polygon points="1188.1,1447.2 1196.4,1461.7 1179.8,1461.7" fill="#00f"/>
<polygon points="1188.1,1440.8 1196.4,1455.3 1179.8,1455.3" fill="#00f"/>
<polygon points="1188.1,1434.4 1196.4,1448.9 1179.8,1448.9" fill="#00f"/>
<polygon points="1188.1,1430.3 1196.4,1444.8 1179.8,1444.8" fill="#00f"/>
<polygon points="1188.1,1421.7 1196.4,1436.2 1179.8,1436.2" fill="#00f"/>
<polygon points="1222.3,1462.8 1230.6,1477.3 1214,1477.3" fill="#00f"/>
<polygon points="1222.3,1457.2 1230.6,1471.7 1214,1471.7" fill="#00f"/>
<polygon points="1222.3,1450.9 1230.6,1465.4 1214,1465.4" fill="#00f"/>
<polygon points="1222.3,1445 1230.6,1459.5 1214,1459.5" fill="#00f"/>
<polygon points="1222.3,1439 1230.6,1453.5 1214,1453.5" fill="#00f"/>
<polygon points="1222.3,1432.6 1230.6,1447.1 1214,1447.1" fill="#00f"/>
<polygon points="1222.3,1424.9 1230.6,1439.4 1214,1439.4" fill="#00f"/>
<polygon points="1222.3,1411.4 1230.6,1425.9 1214,1425.9" fill="#00f"/>
<polygon points="1222.3,1403.4 1230.6,1417.9 1214,1417.9" fill="#00f"/>
<polygon points="1256.5,1451.3 1264.8,1465.8 1248.2,1465.8" fill="#00f"/>
<polygon points="1256.5,1441 1264.8,1455.5 1248.2,1455.5" fill="#00f"/>
<polygon points="1256.5,1435.2 1264.8,1449.7 1248.2,1449.7" fill="#00f"/>
<polygon points="1256.5,1425.9 1264.8,1440.4 1248.2,1440.4" fill="#00f"/>
<polygon points="1256.5,1416.9 1264.8,1431.4 1248.2,1431.4" fill="#00f"/>
<polygon points="1256.5,1410.6 1264.8,1425.1 1248.2,1425.1" fill="#00f"/>
<polygon points="1256.5,1401 1264.8,1415.5 1248.2,1415.5" fill="#00f"/>
<polygon points="1256.5,1392.3 1264.8,1406.8 1248.2,1406.8" fill="#00f"/>
<polygon points="1256.5,1385 1264.8,1399.5 1248.2,1399.5" fill="#00f"/>
<polygon points="1290.7,1412.7 1299,1427.2 1282.4,1427.2" fill="#00f"/>
<polygon points="1290.7,1403.8 1299,1418.3 1282.4,1418.3" fill="#00f"/>
<polygon points="1290.7,1396.2 1299,1410.7 1282.4,1410.7" fill="#00f"/>
<polygon points="1290.7,1388.4 1299,1402.9 1282.4,1402.9" fill="#00f"/>
<polygon points="1290.7,1379.9 1299,1394.4 1282.4,1394.4" fill="#00f"/>
<polygon points="1324.9,1403.6 1333.2,1418.1 1316.6,1418.1" fill="#00f"/>
<polygon points="1324.9,1396 1333.2,1410.5 1316.6,1410.5" fill="#00f"/>
<polygon points="1324.9,1387.6 1333.2,1402.1 1316.6,1402.1" fill="#00f"/>
<polygon points="1324.9,1380.2 1333.2,1394.7 1316.6,1394.7" fill="#00f"/>
<polygon points="1324.9,1374.4 1333.2,1388.9 1316.6,1388.9" fill="#00f"/>
<polygon points="1324.9,1366.2 1333.2,1380.7 1316.6,1380.7" fill="#00f"/>
<polygon points="1359.1,1391 1367.4,1405.5 1350.8,1405.5" fill="#00f"/>
<polygon points="1359.1,1385 1367.4,1399.5 1350.8,1399.5" fill="#00f"/>
<polygon points="1359.1,1377 1367.4,1391.5 1350.8,1391.5" fill="#00f"/>
<polygon points="1359.1,1371 1367.4,1385.5 1350.8,1385.5" fill="#00f"/>
<polygon points="1359.1,1363.4 1367.4,1377.9 1350.8,1377.9" fill="#00f"/>
<polygon points="1359.1,1355.6 1367.4,1370.1 1350.8,1370.1" fill="#00f"/>
<polygon points="1359.1,1348.7 1367.4,1363.2 1350.8,1363.2" fill="#00f"/>
<polygon points="1359.1,1342.6 1367.4,1357.1 1350.8,1357.1" fill="#00f"/>
<polygon points="1393.3,1358.5 1401.6,1373 1385,1373" fill="#00f"/>
<polygon points="1393.3,1352.1 1401.6,1366.6 1385,1366.6" fill="#00f"/>
<polygon points="1393.3,1343.9 1401.6,1358.4 1385,1358.4" fill="#00f"/>
<polygon points="1393.3,1337.4 1401.6,1351.9 1385,1351.9" fill="#00f"/>
<polygon points="1393.3,1329.3 1401.6,1343.8 1385,1343.8" fill="#00f"/>
<polygon points="1393.3,1322.6 1401.6,1337.1 1385,1337.1" fill="#00f"/>
<polygon points="1427.5,1366.9 1435.8,1381.4 1419.2,1381.4" fill="#00f"/>
<polygon points="1427.5,1359.5 1435.8,1374 1419.2,1374" fill="#00f"/>
<polygon points="1427.5,1353 1435.8,1367.5 1419.2,1367.5" fill="#00f"/>
<polygon points="1427.5,1344 1435.8,1358.5 1419.2,1358.5" fill="#00f"/>
<polygon points="1427.5,1336.3 1435.8,1350.8 1419.2,1350.8" fill="#00f"/>
<polygon points="1427.5,1330.2 1435.8,1344.7 1419.2,1344.7" fill="#00f"/>
<polygon points="1427.5,1322.3 1435.8,1336.8 1419.2,1336.8" fill="#00f"/>
<polygon points="1427.5,1314.8 1435.8,1329.3 1419.2,1329.3" fill="#00f"/>
<polygon points="1461.7,1354.8 1470,1369.3 1453.4,1369.3" fill="#00f"/>
<polygon points="1461.7,1347.9 1470,1362.4 1453.4,1362.4" fill="#00f"/>
<polygon points="1461.7,1340.5 1470,1355 1453.4,1355" fill="#00f"/>
<polygon points="1461.7,1335.1 1470,1349.6 1453.4,1349.6" fill="#00f"/>
<polygon points="1461.7,1327.6 1470,1342.1 1453.4,1342.1" fill="#00f"/>
<polygon points="1461.7,1319.7 1470,1334.2 1453.4,1334.2" fill="#00f"/>
<polygon points="1461.7,1312 1470,1326.5 1453.4,1326.5" fill="#00f"/>
<polygon points="1461.7,1305.9 1470,1320.4 1453.4,1320.4" fill="#00f"/>
<polygon points="1495.9,1335.9 1504.2,1350.4 1487.6,1350.4" fill="#00f"/>
<polygon points="1495.9,1330.6 1504.2,1345.1 1487.6,1345.1" fill="#00f"/>
<polygon points="1495.9,1323.7 1504.2,1338.2 1487.6,1338.2" fill="#00f"/>
<polygon points="1495.9,1318.2 1504.2,1332.7 1487.6,1332.7" fill="#00f"/>
<polygon points="1495.9,1311.9 1504.2,1326.4 1487.6,1326.4" fill="#00f"/>
<polygon points="1495.9,1306.3 1504.2,1320.8 1487.6,1320.8" fill="#00f"/>
<polygon points="1495.9,1301.4 1504.2,1315.9 1487.6,1315.9" fill="#00f"/>
<polygon points="1495.9,1294 1504.2,1308.5 1487.6,1308.5" fill="#00f"/>
<polygon points="1530.1,1316.6 1538.4,1331.1 1521.8,1331.1" fill="#00f"/>
<polygon points="1530.1,1309.2 1538.4,1323.7 1521.8,1323.7" fill="#00f"/>
<polygon points="1530.1,1304.5 1538.4,1319 1521.8,1319" fill="#00f"/>
<polygon points="1530.1,1297.5 1538.4,1312 1521.8,1312" fill="#00f"/>
<polygon points="1530.1,1292 1538.4,1306.5 1521.8,1306.5" fill="#00f"/>
<polygon points="1530.1,1285.5 1538.4,1300 1521.8,1300" fill="#00f"/>
<polygon points="1530.1,1278.6 1538.4,1293.1 1521.8,1293.1" fill="#00f"/>
<polygon points="1564.3,1279.5 1572.6,1294 1556,1294" fill="#00f"/>
<polygon points="1564.3,1272 1572.6,1286.5 1556,1286.5" fill="#00f"/>
<polygon points="1564.3,1263.3 1572.6,1277.8 1556,1277.8" fill="#00f"/>
<polygon points="1564.3,1255.7 1572.6,1270.2 1556,1270.2" fill="#00f"/>
<polygon points="1564.3,1249 1572.6,1263.5 1556,1263.5" fill="#00f"/>
<polygon points="1564.3,1242 1572.6,1256.5 1556,1256.5" fill="#00f"/>
<polygon points="1564.3,1233 1572.6,1247.5 1556,1247.5" fill="#00f"/>
<polygon points="1598.5,1250.2 1606.8,1264.7 1590.2,1264.7" fill="#00f"/>
<polygon points="1598.5,1242.2 1606.8,1256.7 1590.2,1256.7" fill="#00f"/>
<polygon points="1598.5,1234.9 1606.8,1249.4 1590.2,1249.4" fill="#00f"/>
<polygon points="1598.5,1229.5 1606.8,1244 1590.2,1244" fill="#00f"/>
<polygon points="1598.5,1222.7 1606.8,1237.2 1590.2,1237.2" fill="#00f"/>
<polygon points="1598.5,1216.5 1606.8,1231 1590.2,1231" fill="#00f"/>
<polygon points="1598.5,1209.7 1606.8,1224.2 1590.2,1224.2" fill="#00f"/>
<polygon points="1632.7,1214.3 1641,1228.8 1624.4,1228.8" fill="#00f"/>
<polygon points="1632.7,1206.8 1641,1221.3 1624.4,1221.3" fill="#00f"/>
<polygon points="1632.7,1199.5 1641,1214 1624.4,1214" fill="#00f"/>
<polygon points="1632.7,1190.1 1641,1204.6 1624.4,1204.6" fill="#00f"/>
<polygon points="1632.7,1183.8 1641,1198.3 1624.4,1198.3" fill="#00f"/>
<polygon points="1632.7,1176.6 1641,1191.1 1624.4,1191.1" fill="#00f"/>
<polygon points="1632.7,1168.5 1641,1183 1624.4,1183" fill="#00f"/>
<polygon points="1666.9,1184.3 1675.2,1198.8 1658.6,1198.8" fill="#00f"/>
<polygon points="1666.9,1176.9 1675.2,1191.4 1658.6,1191.4" fill="#00f"/>
<polygon points="1666.9,1170.7 1675.2,1185.2 1658.6,1185.2" fill="#00f"/>
<polygon points="1666.9,1166.7 1675.2,1181.2 1658.6,1181.2" fill="#00f"/>
<polygon points="1666.9,1159.2 1675.2,1173.7 1658.6,1173.7" fill="#00f"/>
<polygon points="1666.9,1153.8 1675.2,1168.3 1658.6,1168.3" fill="#00f"/>
<polygon points="1701.1,1162.1 1709.4,1176.6 1692.8,1176.6" fill="#00f"/>
<polygon points="1701.1,1157.8 1709.4,1172.3 1692.8,1172.3" fill="#00f"/>
<polygon points="1701.1,1150.9 1709.4,1165.4 1692.8,1165.4" fill="#00f"/>
<polygon points="1701.1,1145.1 1709.4,1159.6 1692.8,1159.6" fill="#00f"/>
<polygon points="1701.1,1138.6 1709.4,1153.1 1692.8,1153.1" fill="#00f"/>
<polygon points="1701.1,1132.6 1709.4,1147.1 1692.8,1147.1" fill="#00f"/>
<polygon points="1735.3,1140.9 1743.6,1155.4 1727,1155.4" fill="#00f"/>
<polygon points="1735.3,1135.6 1743.6,1150.1 1727,1150.1" fill="#00f"/>
<polygon points="1735.3,1129.6 1743.6,1144.1 1727,1144.1" fill="#00f"/>
<polygon points="1735.3,1124.4 1743.6,1138.9 1727,1138.9" fill="#00f"/>
<polygon points="1735.3,1119.2 1743.6,1133.7 1727,1133.7" fill="#00f"/>
<polygon points="1735.3,1112.8 1743.6,1127.3 1727,1127.3" fill="#00f"/>
<polygon points="1735.3,1107.8 1743.6,1122.3 1727,1122.3" fill="#00f"/>
<polygon points="1769.5,1117.8 1777.8,1132.3 1761.2,1132.3" fill="#00f"/>
<polygon points="1769.5,1111.6 1777.8,1126.1 1761.2,1126.1" fill="#00f"/>
<polygon points="1769.5,1105.4 1777.8,1119.9 1761.2,1119.9" fill="#00f"/>
<polygon points="1769.5,1099.8 1777.8,1114.3 1761.2,1114.3" fill="#00f"/>
<polygon points="1769.5,1094.3 1777.8,1108.8 1761.2,1108.8" fill="#00f"/>
<polygon points="1769.5,1087.4 1777.8,1101.9 1761.2,1101.9" fill="#00f"/>
<polygon points="1769.5,1082.9 1777.8,1097.4 1761.2,1097.4" fill="#00f"/>
<polygon points="1769.5,1057.2 1777.8,1071.7 1761.2,1071.7" fill="#00f"/>
</svg>
</body></html>
